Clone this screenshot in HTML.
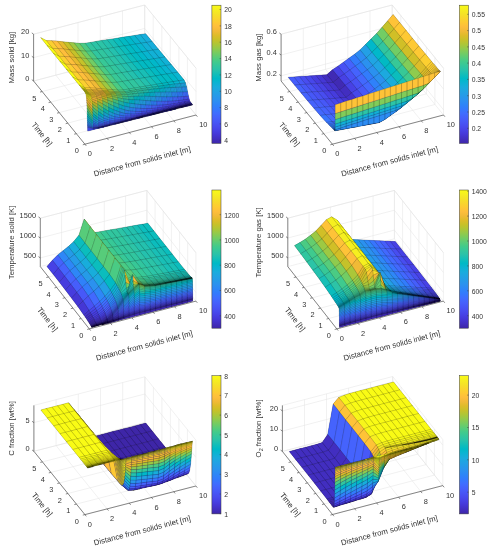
<!DOCTYPE html>
<html><head><meta charset="utf-8"><title>Figure</title>
<style>html,body{margin:0;padding:0;background:#fff}svg{display:block}</style></head>
<body>
<svg width="493" height="550" viewBox="0 0 493 550" font-family="Liberation Sans, sans-serif" font-size="7.8" fill="#333">
<defs><linearGradient id="pg" x1="0" y1="1" x2="0" y2="0"><stop offset="0%" stop-color="#3e26a8"/><stop offset="3.1%" stop-color="#422ebf"/><stop offset="6.2%" stop-color="#4536d5"/><stop offset="9.4%" stop-color="#4741e5"/><stop offset="12.5%" stop-color="#484cef"/><stop offset="15.6%" stop-color="#4757f7"/><stop offset="18.8%" stop-color="#4562fc"/><stop offset="21.9%" stop-color="#3f6eff"/><stop offset="25%" stop-color="#347afd"/><stop offset="28.1%" stop-color="#2e85f8"/><stop offset="31.2%" stop-color="#2c90f0"/><stop offset="34.4%" stop-color="#269ae9"/><stop offset="37.5%" stop-color="#21a3e3"/><stop offset="40.6%" stop-color="#1aacdd"/><stop offset="43.8%" stop-color="#0cb3d3"/><stop offset="46.9%" stop-color="#00b9c6"/><stop offset="50%" stop-color="#12beb9"/><stop offset="53.1%" stop-color="#28c2ab"/><stop offset="56.2%" stop-color="#34c79c"/><stop offset="59.4%" stop-color="#43cb8a"/><stop offset="62.5%" stop-color="#5ccc76"/><stop offset="65.6%" stop-color="#77cc60"/><stop offset="68.8%" stop-color="#94ca4a"/><stop offset="71.9%" stop-color="#afc636"/><stop offset="75%" stop-color="#c8c129"/><stop offset="78.1%" stop-color="#debc29"/><stop offset="81.2%" stop-color="#f1ba37"/><stop offset="84.4%" stop-color="#febe3c"/><stop offset="87.5%" stop-color="#feca33"/><stop offset="90.6%" stop-color="#f9d62d"/><stop offset="93.8%" stop-color="#f5e327"/><stop offset="96.9%" stop-color="#f6ef20"/><stop offset="100%" stop-color="#f9fb15"/></linearGradient></defs>
<path d="M84.9 144.2L33.6 81M33.6 81L33.6 34.2M107.1 138.4L55.8 75.2M55.8 75.2L55.8 28.4M129.3 132.5L78 69.3M78 69.3L78 22.5M151.6 126.7L100.3 63.5M100.3 63.5L100.3 16.7M173.8 120.8L122.5 57.6M122.5 57.6L122.5 10.8M196 115L144.7 51.8M144.7 51.8L144.7 5M84.9 144.2L196 115M196 115L196 68.2M76.4 133.7L187.4 104.5M187.4 104.5L187.4 57.7M67.8 123.1L178.9 93.9M178.9 93.9L178.9 47.1M59.2 112.6L170.3 83.4M170.3 83.4L170.3 36.6M50.7 102.1L161.8 72.9M161.8 72.9L161.8 26.1M42.2 91.5L153.2 62.3M153.2 62.3L153.2 15.5M33.6 81L144.7 51.8M144.7 51.8L144.7 5M33.6 81L144.7 51.8M144.7 51.8L196 115M33.6 57.6L144.7 28.4M144.7 28.4L196 91.6M33.6 34.2L144.7 5M144.7 5L196 68.2M33.6 34.2L144.7 5M144.7 5L196 68.2" stroke="#e2e2e2" stroke-width=".5" fill="none"/>
<g id="sp1" transform="scale(.1)" stroke="#000" stroke-width="2.0" stroke-opacity="0.6" stroke-linejoin="round">
<path fill="#18addb" d="M1401 345l55-8 65 78-56 9z"/>
<path fill="#12b1d6" d="M1346 354l55-9 64 79-55 8z"/>
<path fill="#08b5d0" d="M1291 363l55-9 64 78-55 9z"/>
<path fill="#01b8ca" d="M1235 371l56-8 64 78-55 9z"/>
<path fill="#02bac3" d="M1180 380l55-9 65 79-56 8z"/>
<path fill="#0bbdbd" d="M1125 389l55-9 64 78-55 9z"/>
<path fill="#19bfb6" d="M1070 397l55-8 64 78-55 9z"/>
<path fill="#24c1ae" d="M1014 406l56-9 64 79-56 9z"/>
<path fill="#2cc4a7" d="M959 415l55-9 64 79-55 8zM904 424l55-9 64 78-55 9z"/>
<path fill="#31c69f" d="M849 432l55-8 64 78-55 9z"/>
<path fill="#4acb84" d="M793 433l56-1 64 79-56 1z"/>
<path fill="#72cd64" d="M738 428l55 5 64 79-55-5z"/>
<path fill="#9dc943" d="M683 423l55 5 64 79-55-5z"/>
<path fill="#c5c22a" d="M628 418l55 5 64 79-55-5z"/>
<path fill="#e6bb2d" d="M572 411l56 7 64 79-56-7z"/>
<path fill="#febe3c" d="M517 407l55 4 64 79-55-4z"/>
<path fill="#fccf30" d="M462 405l55 2 64 79-55-2z"/>
<path fill="#f9fb15" d="M407 376l55 29 64 79-55-29z"/>
<path fill="#18addb" d="M1465 424l56-9 64 78-56 8z"/>
<path fill="#12b1d6" d="M1410 432l55-8 64 77-55 9z"/>
<path fill="#08b5d0" d="M1355 441l55-9 64 78-55 9z"/>
<path fill="#01b8ca" d="M1300 450l55-9 64 78-55 9z"/>
<path fill="#02bac3" d="M1244 458l56-8 64 78-56 9z"/>
<path fill="#0bbdbd" d="M1189 467l55-9 64 79-55 8z"/>
<path fill="#19bfb6" d="M1134 476l55-9 64 78-55 9z"/>
<path fill="#24c1ae" d="M1078 485l56-9 64 78-55 9z"/>
<path fill="#2cc4a7" d="M1023 493l55-8 65 78-56 9z"/>
<path fill="#31c69f" d="M968 502l55-9 64 79-55 9zM913 511l55-9 64 79-55 8z"/>
<path fill="#4acb84" d="M857 512l56-1 64 78-55 2z"/>
<path fill="#72cd64" d="M802 507l55 5 65 79-56-5z"/>
<path fill="#9dc943" d="M747 502l55 5 64 79-55-6z"/>
<path fill="#c5c22a" d="M692 497l55 5 64 78-55-5z"/>
<path fill="#e6bb2d" d="M636 490l56 7 64 78-55-6z"/>
<path fill="#febe3c" d="M581 486l55 4 65 79-56-4z"/>
<path fill="#fccf30" d="M526 484l55 2 64 79-55-2z"/>
<path fill="#f9fb15" d="M471 455l55 29 64 79-55-29z"/>
<path fill="#12b1d6" d="M1529 501l56-8 64 77-55 9zM1474 510l55-9 65 78-56 9z"/>
<path fill="#08b5d0" d="M1419 519l55-9 64 78-55 9z"/>
<path fill="#01b8ca" d="M1364 528l55-9 64 78-55 8z"/>
<path fill="#02bac3" d="M1308 537l56-9 64 77-55 9z"/>
<path fill="#0bbdbd" d="M1253 545l55-8 65 77-56 9z"/>
<path fill="#19bfb6" d="M1198 554l55-9 64 78-55 9z"/>
<path fill="#24c1ae" d="M1143 563l55-9 64 78-55 9z"/>
<path fill="#2cc4a7" d="M1087 572l56-9 64 78-56 9z"/>
<path fill="#31c69f" d="M1032 581l55-9 64 78-55 9z"/>
<path fill="#37c897" d="M977 589l55-8 64 78-55 9z"/>
<path fill="#4acb84" d="M922 591l55-2 64 79-55 1z"/>
<path fill="#72cd64" d="M866 586l56 5 64 78-56-5z"/>
<path fill="#9dc943" d="M811 580l55 6 64 78-55-5z"/>
<path fill="#c5c22a" d="M756 575l55 5 64 79-55-5z"/>
<path fill="#e6bb2d" d="M701 569l55 6 64 79-55-7z"/>
<path fill="#febe3c" d="M645 565l56 4 64 78-56-3z"/>
<path fill="#fccf30" d="M590 563l55 2 64 79-55-2z"/>
<path fill="#f9fb15" d="M535 534l55 29 64 79-55-29z"/>
<path fill="#12b1d6" d="M1594 579l55-9 64 76-55 9z"/>
<path fill="#08b5d0" d="M1538 588l56-9 64 76-56 9z"/>
<path fill="#01b8ca" d="M1483 597l55-9 64 76-55 9z"/>
<path fill="#02bac3" d="M1428 605l55-8 64 76-55 9zM1373 614l55-9 64 77-55 9z"/>
<path fill="#0bbdbd" d="M1317 623l56-9 64 77-56 9z"/>
<path fill="#19bfb6" d="M1262 632l55-9 64 77-55 9z"/>
<path fill="#24c1ae" d="M1207 641l55-9 64 77-55 9z"/>
<path fill="#2cc4a7" d="M1151 650l56-9 64 77-55 9z"/>
<path fill="#31c69f" d="M1096 659l55-9 65 77-56 10z"/>
<path fill="#37c897" d="M1041 668l55-9 64 78-55 9z"/>
<path fill="#4acb84" d="M986 669l55-1 64 78-55 1z"/>
<path fill="#72cd64" d="M930 664l56 5 64 78-55-5z"/>
<path fill="#9dc943" d="M875 659l55 5 65 78-56-5z"/>
<path fill="#c5c22a" d="M820 654l55 5 64 78-55-5z"/>
<path fill="#e6bb2d" d="M765 647l55 7 64 78-55-6z"/>
<path fill="#febe3c" d="M709 644l56 3 64 79-55-4z"/>
<path fill="#fccf30" d="M654 642l55 2 65 78-56-1z"/>
<path fill="#f9fb15" d="M599 613l55 29 64 79-55-30z"/>
<path fill="#12b1d6" d="M1658 655l55-9 64 76-55 9z"/>
<path fill="#08b5d0" d="M1602 664l56-9 64 76-55 9z"/>
<path fill="#01b8ca" d="M1547 673l55-9 65 76-56 9z"/>
<path fill="#02bac3" d="M1492 682l55-9 64 76-55 10z"/>
<path fill="#0bbdbd" d="M1437 691l55-9 64 77-55 9z"/>
<path fill="#19bfb6" d="M1381 700l56-9 64 77-56 9zM1326 709l55-9 64 77-55 9z"/>
<path fill="#24c1ae" d="M1271 718l55-9 64 77-55 9z"/>
<path fill="#2cc4a7" d="M1216 727l55-9 64 77-55 10z"/>
<path fill="#31c69f" d="M1160 737l56-10 64 78-56 9z"/>
<path fill="#37c897" d="M1105 746l55-9 64 77-55 9z"/>
<path fill="#4acb84" d="M1050 747l55-1 64 77-55 2z"/>
<path fill="#72cd64" d="M995 742l55 5 64 78-55-5z"/>
<path fill="#9dc943" d="M939 737l56 5 64 78-56-5z"/>
<path fill="#c5c22a" d="M884 732l55 5 64 78-55-5z"/>
<path fill="#f0ba36" d="M829 726l55 6 64 78-55-6z"/>
<path fill="#febe3c" d="M774 722l55 4 64 78-55-3z"/>
<path fill="#fccf30" d="M718 721l56 1 64 79-56-2z"/>
<path fill="#f9fb15" d="M663 691l55 30 64 78-55-29z"/>
<path fill="#08b5d0" d="M1722 731l55-9 64 78-55 8z"/>
<path fill="#01b8ca" d="M1667 740l55-9 64 77-55 9z"/>
<path fill="#02bac3" d="M1611 749l56-9 64 77-56 8zM1556 759l55-10 64 76-55 9z"/>
<path fill="#0bbdbd" d="M1501 768l55-9 64 75-55 9z"/>
<path fill="#19bfb6" d="M1445 777l56-9 64 75-55 10z"/>
<path fill="#24c1ae" d="M1390 786l55-9 65 76-56 9z"/>
<path fill="#2cc4a7" d="M1335 795l55-9 64 76-55 9z"/>
<path fill="#31c69f" d="M1280 805l55-10 64 76-55 10zM1224 814l56-9 64 76-55 9z"/>
<path fill="#37c897" d="M1169 823l55-9 65 76-56 10z"/>
<path fill="#4acb84" d="M1114 825l55-2 64 77-55 2z"/>
<path fill="#72cd64" d="M1059 820l55 5 64 77-55-5z"/>
<path fill="#9dc943" d="M1003 815l56 5 64 77-55-4z"/>
<path fill="#c5c22a" d="M948 810l55 5 65 78-56-5z"/>
<path fill="#f0ba36" d="M893 804l55 6 64 78-55-6z"/>
<path fill="#fec338" d="M838 801l55 3 64 78-55-3z"/>
<path fill="#fccf30" d="M782 799l56 2 64 78-55-1z"/>
<path fill="#f9fb15" d="M727 770l55 29 65 79-56-29z"/>
<path fill="#12b1d6" d="M1786 808l55-8 14 29-55 6z"/>
<path fill="#08b5d0" d="M1731 817l55-9 14 27-56 6z"/>
<path fill="#01b8ca" d="M1675 825l56-8 13 24-55 6z"/>
<path fill="#02bac3" d="M1620 834l55-9 14 22-55 8z"/>
<path fill="#0bbdbd" d="M1565 843l55-9 14 21-55 7z"/>
<path fill="#19bfb6" d="M1510 853l55-10 14 19-56 9z"/>
<path fill="#24c1ae" d="M1454 862l56-9 13 18-55 8z"/>
<path fill="#2cc4a7" d="M1399 871l55-9 14 17-55 9z"/>
<path fill="#31c69f" d="M1344 881l55-10 14 17-55 9z"/>
<path fill="#37c897" d="M1289 890l55-9 14 16-56 10zM1233 900l56-10 13 17-55 9z"/>
<path fill="#4acb84" d="M1178 902l55-2 14 16-55 2z"/>
<path fill="#72cd64" d="M1123 897l55 5 14 16-55-4z"/>
<path fill="#abc739" d="M1068 893l55 4 14 17-56-5z"/>
<path fill="#d1bf27" d="M1012 888l56 5 13 16-55-4z"/>
<path fill="#f0ba36" d="M957 882l55 6 14 17-55-6z"/>
<path fill="#fec338" d="M902 879l55 3 14 17-56-3z"/>
<path fill="#fccf30" d="M847 878l55 1 13 17-55-1z"/>
<path fill="#f9fb15" d="M791 849l56 29 13 17-55-29z"/>
<path fill="#20a5e3" d="M1800 835l55-6 11 40-55 3z"/>
<path fill="#18addb" d="M1744 841l56-6 11 37-55 2z"/>
<path fill="#08b5d0" d="M1689 847l55-6 12 33-56 3z"/>
<path fill="#01b8ca" d="M1634 855l55-8 11 30-55 4z"/>
<path fill="#02bac3" d="M1579 862l55-7 11 26-55 5z"/>
<path fill="#19bfb6" d="M1523 871l56-9 11 24-55 5z"/>
<path fill="#24c1ae" d="M1468 879l55-8 12 20-56 7z"/>
<path fill="#2cc4a7" d="M1413 888l55-9 11 19-55 7z"/>
<path fill="#31c69f" d="M1358 897l55-9 11 17-55 8z"/>
<path fill="#37c897" d="M1302 907l56-10 11 16-56 8zM1247 916l55-9 11 14-55 9z"/>
<path fill="#57cc7a" d="M1192 918l55-2 11 14-55 2z"/>
<path fill="#81cc59" d="M1137 914l55 4 11 14-55-5z"/>
<path fill="#abc739" d="M1081 909l56 5 11 13-56-4z"/>
<path fill="#d1bf27" d="M1026 905l55 4 11 14-55-5z"/>
<path fill="#f0ba36" d="M971 899l55 6 11 13-55-5z"/>
<path fill="#fec338" d="M915 896l56 3 11 14-55-4z"/>
<path fill="#fccf30" d="M860 895l55 1 12 13-56 0z"/>
<path fill="#f9fb15" d="M805 866l55 29 11 14-55-29z"/>
<path fill="#2b91ef" d="M1811 872l55-3 10 50-55 1z"/>
<path fill="#259be8" d="M1756 874l55-2 10 48-55 1z"/>
<path fill="#20a5e3" d="M1700 877l56-3 10 47-56 0z"/>
<path fill="#18addb" d="M1645 881l55-4 10 44-55 0z"/>
<path fill="#08b5d0" d="M1590 886l55-5 10 40-55 1z"/>
<path fill="#02bac3" d="M1535 891l55-5 10 36-55 1z"/>
<path fill="#0bbdbd" d="M1479 898l56-7 10 32-56 2z"/>
<path fill="#24c1ae" d="M1424 905l55-7 10 27-55 4z"/>
<path fill="#2cc4a7" d="M1369 913l55-8 10 24-55 4z"/>
<path fill="#31c69f" d="M1313 921l56-8 10 20-55 6z"/>
<path fill="#37c897" d="M1258 930l55-9 11 18-56 7z"/>
<path fill="#4acb84" d="M1203 932l55-2 10 16-55 0z"/>
<path fill="#72cd64" d="M1148 927l55 5 10 14-55-5z"/>
<path fill="#abc739" d="M1092 923l56 4 10 14-55-5z"/>
<path fill="#d1bf27" d="M1037 918l55 5 11 13-56-5z"/>
<path fill="#f0ba36" d="M982 913l55 5 10 13-55-6z"/>
<path fill="#fec338" d="M927 909l55 4 10 12-55-3z"/>
<path fill="#fccf30" d="M871 909l56 0 10 13-55-1z"/>
<path fill="#f9fb15" d="M816 880l55 29 11 12-56-29z"/>
<path fill="#3e6fff" d="M1821 920l55-1 9 43-56 4z"/>
<path fill="#327cfc" d="M1766 921l55-1 8 46-55 3z"/>
<path fill="#2e87f7" d="M1710 921l56 0 8 48-55 0z"/>
<path fill="#2797eb" d="M1655 921l55 0 9 48-55 0z"/>
<path fill="#23a0e5" d="M1600 922l55-1 9 48-56-1z"/>
<path fill="#1ca9df" d="M1545 923l55-1 8 46-55-2z"/>
<path fill="#08b5d0" d="M1489 925l56-2 8 43-55-2z"/>
<path fill="#02bac3" d="M1434 929l55-4 9 39-55-1z"/>
<path fill="#19bfb6" d="M1379 933l55-4 9 34-56-1z"/>
<path fill="#2cc4a7" d="M1324 939l55-6 8 29-55 2z"/>
<path fill="#31c69f" d="M1268 946l56-7 8 25-55 2z"/>
<path fill="#4acb84" d="M1213 946l55 0 9 20-56-3z"/>
<path fill="#72cd64" d="M1158 941l55 5 8 17-55-7z"/>
<path fill="#9dc943" d="M1103 936l55 5 8 15-55-7z"/>
<path fill="#c5c22a" d="M1047 931l56 5 8 13-55-6z"/>
<path fill="#f0ba36" d="M992 925l55 6 9 12-56-7z"/>
<path fill="#fec338" d="M937 922l55 3 8 11-55-4z"/>
<path fill="#fccf30" d="M882 921l55 1 8 10-55-1z"/>
<path fill="#f9fb15" d="M826 892l56 29 8 10-55-28z"/>
<path fill="#4852f4" d="M1829 966l56-4 7 29-56 8z"/>
<path fill="#465efb" d="M1774 969l55-3 7 33-55 7z"/>
<path fill="#4269fe" d="M1719 969l55 0 7 37-55 4z"/>
<path fill="#3875fe" d="M1664 969l55 0 7 41-55 3z"/>
<path fill="#2f81fa" d="M1608 968l56 1 7 44-56 0z"/>
<path fill="#2b91ef" d="M1553 966l55 2 7 45-55-1z"/>
<path fill="#23a0e5" d="M1498 964l55 2 7 46-55-3z"/>
<path fill="#1ca9df" d="M1443 963l55 1 7 45-55-4z"/>
<path fill="#08b5d0" d="M1387 962l56 1 7 42-56-4z"/>
<path fill="#02bac3" d="M1332 964l55-2 7 39-55-3z"/>
<path fill="#24c1ae" d="M1277 966l55-2 7 34-55-3z"/>
<path fill="#37c897" d="M1221 963l56 3 7 29-55-7z"/>
<path fill="#64cd6f" d="M1166 956l55 7 8 25-56-12z"/>
<path fill="#8fcb4e" d="M1111 949l55 7 7 20-55-11z"/>
<path fill="#c5c22a" d="M1056 943l55 6 7 16-55-9z"/>
<path fill="#f0ba36" d="M1000 936l56 7 7 13-56-9z"/>
<path fill="#fec338" d="M945 932l55 4 7 11-55-5z"/>
<path fill="#fccf30" d="M890 931l55 1 7 10-55-2z"/>
<path fill="#f9fb15" d="M835 903l55 28 7 9-55-29z"/>
<path fill="#4741e5" d="M1836 999l56-8 5 17-55 11z"/>
<path fill="#4747eb" d="M1781 1006l55-7 6 20-55 10z"/>
<path fill="#4852f4" d="M1726 1010l55-4 6 23-55 9z"/>
<path fill="#4758f8" d="M1671 1013l55-3 6 28-56 7z"/>
<path fill="#4563fd" d="M1615 1013l56 0 5 32-55 5z"/>
<path fill="#3e6fff" d="M1560 1012l55 1 6 37-55 2z"/>
<path fill="#2f81fa" d="M1505 1009l55 3 6 40-55 0z"/>
<path fill="#2b91ef" d="M1450 1005l55 4 6 43-56-3z"/>
<path fill="#23a0e5" d="M1394 1001l56 4 5 44-55-4z"/>
<path fill="#18addb" d="M1339 998l55 3 6 44-55-6z"/>
<path fill="#01b8ca" d="M1284 995l55 3 6 41-55-7z"/>
<path fill="#24c1ae" d="M1229 988l55 7 6 37-56-11z"/>
<path fill="#3fca8e" d="M1173 976l56 12 5 33-55-17z"/>
<path fill="#81cc59" d="M1118 965l55 11 6 28-55-16z"/>
<path fill="#b9c431" d="M1063 956l55 9 6 23-55-14z"/>
<path fill="#e6bb2d" d="M1007 947l56 9 6 18-56-13z"/>
<path fill="#febe3c" d="M952 942l55 5 6 14-55-8z"/>
<path fill="#fccf30" d="M897 940l55 2 6 11-55-4z"/>
<path fill="#f9fb15" d="M842 911l55 29 6 9-55-30z"/>
<path fill="#463cde" d="M1842 1019l55-11 5 9-55 13zM1787 1029l55-10 5 11-55 12z"/>
<path fill="#4741e5" d="M1732 1038l55-9 5 13-55 12z"/>
<path fill="#4747eb" d="M1676 1045l56-7 5 16-56 10z"/>
<path fill="#484df0" d="M1621 1050l55-5 5 19-55 9z"/>
<path fill="#4758f8" d="M1566 1052l55-2 5 23-55 7z"/>
<path fill="#4563fd" d="M1511 1052l55 0 5 28-55 4z"/>
<path fill="#3e6fff" d="M1455 1049l56 3 5 32-56 2z"/>
<path fill="#2f81fa" d="M1400 1045l55 4 5 37-55-2z"/>
<path fill="#2b91ef" d="M1345 1039l55 6 5 39-55-4z"/>
<path fill="#20a5e3" d="M1290 1032l55 7 5 41-56-7z"/>
<path fill="#08b5d0" d="M1234 1021l56 11 4 41-55-13z"/>
<path fill="#24c1ae" d="M1179 1004l55 17 5 39-55-20z"/>
<path fill="#4acb84" d="M1124 988l55 16 5 36-55-20z"/>
<path fill="#8fcb4e" d="M1069 974l55 14 5 32-56-20z"/>
<path fill="#d1bf27" d="M1013 961l56 13 4 26-55-20z"/>
<path fill="#f8ba3d" d="M958 953l55 8 5 19-55-13z"/>
<path fill="#fec934" d="M903 949l55 4 5 14-55-8z"/>
<path fill="#f9fb15" d="M848 919l55 30 5 10-56-32z"/>
<path fill="#4537d5" d="M1847 1030l55-13 4 6-55 14z"/>
<path fill="#463cde" d="M1792 1042l55-12 4 7-55 13zM1737 1054l55-12 4 8-55 13z"/>
<path fill="#4741e5" d="M1681 1064l56-10 4 9-56 12zM1626 1073l55-9 4 11-55 12z"/>
<path fill="#4747eb" d="M1571 1080l55-7 4 14-55 10z"/>
<path fill="#484df0" d="M1516 1084l55-4 4 17-55 9z"/>
<path fill="#4758f8" d="M1460 1086l56-2 4 22-56 6z"/>
<path fill="#4563fd" d="M1405 1084l55 2 4 26-55 3z"/>
<path fill="#3875fe" d="M1350 1080l55 4 4 31-55-1z"/>
<path fill="#2e87f7" d="M1294 1073l56 7 4 34-55-4z"/>
<path fill="#23a0e5" d="M1239 1060l55 13 5 37-56-11z"/>
<path fill="#08b5d0" d="M1184 1040l55 20 4 39-55-18z"/>
<path fill="#2cc4a7" d="M1129 1020l55 20 4 41-55-23z"/>
<path fill="#64cd6f" d="M1073 1000l56 20 4 38-55-26z"/>
<path fill="#abc739" d="M1018 980l55 20 5 32-56-26z"/>
<path fill="#f0ba36" d="M963 967l55 13 4 26-55-21z"/>
<path fill="#fec934" d="M908 959l55 8 4 18-55-14z"/>
<path fill="#f7f51b" d="M852 927l56 32 4 12-56-36z"/>
<path fill="#4537d5" d="M1851 1037l55-14 4 4-56 14zM1796 1050l55-13 3 4-55 14z"/>
<path fill="#463cde" d="M1741 1063l55-13 3 5-55 13zM1685 1075l56-12 3 5-55 14zM1630 1087l55-12 4 7-56 13z"/>
<path fill="#4741e5" d="M1575 1097l55-10 3 8-55 12zM1520 1106l55-9 3 10-55 11z"/>
<path fill="#484df0" d="M1464 1112l56-6 3 12-55 10z"/>
<path fill="#4852f4" d="M1409 1115l55-3 4 16-56 7z"/>
<path fill="#465efb" d="M1354 1114l55 1 3 20-55 5z"/>
<path fill="#3e6fff" d="M1299 1110l55 4 3 26-55 0z"/>
<path fill="#2f81fa" d="M1243 1099l56 11 3 30-55-6z"/>
<path fill="#259be8" d="M1188 1081l55 18 4 35-56-15z"/>
<path fill="#08b5d0" d="M1133 1058l55 23 3 38-55-21z"/>
<path fill="#31c69f" d="M1078 1032l55 26 3 40-55-27z"/>
<path fill="#72cd64" d="M1022 1006l56 26 3 39-55-32z"/>
<path fill="#d1bf27" d="M967 985l55 21 4 33-56-28z"/>
<path fill="#febe3c" d="M912 971l55 14 3 26-55-23z"/>
<path fill="#f7f51b" d="M856 935l56 36 3 17-55-42z"/>
<path fill="#4537d5" d="M1854 1041l56-14 3 4-56 14zM1799 1055l55-14 3 4-55 14zM1744 1068l55-13 3 4-55 13z"/>
<path fill="#463cde" d="M1689 1082l55-14 3 4-55 14zM1633 1095l56-13 3 4-56 14zM1578 1107l55-12 3 5-55 13z"/>
<path fill="#4741e5" d="M1523 1118l55-11 3 6-55 13zM1468 1128l55-10 3 8-55 11z"/>
<path fill="#4747eb" d="M1412 1135l56-7 3 9-56 11z"/>
<path fill="#484df0" d="M1357 1140l55-5 3 13-55 8z"/>
<path fill="#4758f8" d="M1302 1140l55 0 3 16-55 5z"/>
<path fill="#4269fe" d="M1247 1134l55 6 3 21-56 0z"/>
<path fill="#2f81fa" d="M1191 1119l56 15 2 27-55-9z"/>
<path fill="#23a0e5" d="M1136 1098l55 21 3 33-55-17z"/>
<path fill="#01b8ca" d="M1081 1071l55 27 3 37-55-25z"/>
<path fill="#3fca8e" d="M1026 1039l55 32 3 39-56-33z"/>
<path fill="#9dc943" d="M970 1011l56 28 2 38-55-36z"/>
<path fill="#f0ba36" d="M915 988l55 23 3 30-55-31z"/>
<path fill="#f5e924" d="M860 946l55 42 3 22-55-50z"/>
<path fill="#4537d5" d="M1857 1045l56-14 2 3-55 14zM1802 1059l55-14 3 3-56 14zM1747 1072l55-13 2 3-55 13z"/>
<path fill="#463cde" d="M1692 1086l55-14 2 3-55 14zM1636 1100l56-14 2 3-55 14zM1581 1113l55-13 3 3-56 13zM1526 1126l55-13 2 3-55 14zM1471 1137l55-11 2 4-55 13z"/>
<path fill="#4741e5" d="M1415 1148l56-11 2 6-55 12z"/>
<path fill="#4747eb" d="M1360 1156l55-8 3 7-56 11z"/>
<path fill="#484df0" d="M1305 1161l55-5 2 10-55 9z"/>
<path fill="#4758f8" d="M1249 1161l56 0 2 14-55 4z"/>
<path fill="#4269fe" d="M1194 1152l55 9 3 18-55-2z"/>
<path fill="#2e87f7" d="M1139 1135l55 17 3 25-56-10z"/>
<path fill="#20a5e3" d="M1084 1110l55 25 2 32-55-21z"/>
<path fill="#0bbdbd" d="M1028 1077l56 33 2 36-55-32z"/>
<path fill="#57cc7a" d="M973 1041l55 36 3 37-55-38z"/>
<path fill="#c5c22a" d="M918 1010l55 31 3 35-56-39z"/>
<path fill="#f7dc2a" d="M863 960l55 50 2 27-55-60z"/>
<path fill="#4537d5" d="M1860 1048l55-14 2 2-55 14zM1804 1062l56-14 2 2-56 14zM1749 1075l55-13 2 2-55 14z"/>
<path fill="#463cde" d="M1694 1089l55-14 2 3-55 14zM1639 1103l55-14 2 3-55 13zM1583 1116l56-13 2 2-56 14zM1528 1130l55-14 2 3-55 14zM1473 1143l55-13 2 3-55 13zM1418 1155l55-12 2 3-55 13z"/>
<path fill="#4741e5" d="M1362 1166l56-11 2 4-56 13z"/>
<path fill="#4747eb" d="M1307 1175l55-9 2 6-55 11z"/>
<path fill="#484df0" d="M1252 1179l55-4 2 8-55 8z"/>
<path fill="#4758f8" d="M1197 1177l55 2 2 12-55 4z"/>
<path fill="#3e6fff" d="M1141 1167l56 10 2 18-56-4z"/>
<path fill="#2d8cf3" d="M1086 1146l55 21 2 24-55-14z"/>
<path fill="#18addb" d="M1031 1114l55 32 2 31-55-27z"/>
<path fill="#2cc4a7" d="M976 1076l55 38 2 36-55-38z"/>
<path fill="#8fcb4e" d="M920 1037l56 39 2 36-56-45z"/>
<path fill="#fec934" d="M865 977l55 60 2 30-55-68z"/>
<path fill="#4537d5" d="M1862 1050l55-14 2 2-56 14zM1806 1064l56-14 1 2-55 14zM1751 1078l55-14 2 2-55 14z"/>
<path fill="#463cde" d="M1696 1092l55-14 2 2-56 14zM1641 1105l55-13 1 2-55 13zM1585 1119l56-14 1 2-55 14zM1530 1133l55-14 2 2-55 14zM1475 1146l55-13 2 2-56 14zM1420 1159l55-13 1 3-55 13z"/>
<path fill="#4741e5" d="M1364 1172l56-13 1 3-55 13zM1309 1183l55-11 2 3-55 13z"/>
<path fill="#4747eb" d="M1254 1191l55-8 2 5-56 11z"/>
<path fill="#484df0" d="M1199 1195l55-4 1 8-55 7z"/>
<path fill="#465efb" d="M1143 1191l56 4 1 11-55 2z"/>
<path fill="#3875fe" d="M1088 1177l55 14 2 17-55-7z"/>
<path fill="#2797eb" d="M1033 1150l55 27 2 24-56-20z"/>
<path fill="#01b8ca" d="M978 1112l55 38 1 31-55-35z"/>
<path fill="#4acb84" d="M922 1067l56 45 1 34-55-47z"/>
<path fill="#f8ba3d" d="M867 999l55 68 2 32-55-74z"/>
<path fill="#4537d5" d="M1863 1052l56-14 1 2-55 14zM1808 1066l55-14 2 2-56 14zM1753 1080l55-14 1 2-55 13z"/>
<path fill="#463cde" d="M1697 1094l56-14 1 1-55 14zM1642 1107l55-13 2 1-55 14zM1587 1121l55-14 2 2-56 14zM1532 1135l55-14 1 2-55 14zM1476 1149l56-14 1 2-55 14zM1421 1162l55-13 2 2-55 13zM1366 1175l55-13 2 2-56 14z"/>
<path fill="#4741e5" d="M1311 1188l55-13 1 3-55 13zM1255 1199l56-11 1 3-55 12z"/>
<path fill="#4747eb" d="M1200 1206l55-7 2 4-55 11z"/>
<path fill="#4852f4" d="M1145 1208l55-2 2 8-56 6z"/>
<path fill="#4563fd" d="M1090 1201l55 7 1 12-55-1z"/>
<path fill="#2f81fa" d="M1034 1181l56 20 1 18-55-14z"/>
<path fill="#20a5e3" d="M979 1146l55 35 2 24-56-29z"/>
<path fill="#2cc4a7" d="M924 1099l55 47 1 30-55-46z"/>
<path fill="#d1bf27" d="M869 1025l55 74 1 31-55-78z"/>
<path fill="#4537d5" d="M1865 1054l55-14 1 1-55 14zM1809 1068l56-14 1 1-56 14zM1754 1081l55-13 1 1-55 14z"/>
<path fill="#463cde" d="M1699 1095l55-14 1 2-55 14zM1644 1109l55-14 1 2-55 14zM1588 1123l56-14 1 2-56 13zM1533 1137l55-14 1 1-55 14zM1478 1151l55-14 1 1-55 14zM1423 1164l55-13 1 1-55 14zM1367 1178l56-14 1 2-56 13zM1312 1191l55-13 1 1-55 14z"/>
<path fill="#4741e5" d="M1257 1203l55-12 1 2-55 13zM1202 1214l55-11 1 3-55 12z"/>
<path fill="#4747eb" d="M1146 1220l56-6 1 4-56 9z"/>
<path fill="#4852f4" d="M1091 1219l55 1 1 7-55 4z"/>
<path fill="#4269fe" d="M1036 1205l55 14 1 12-55-7z"/>
<path fill="#2b91ef" d="M980 1176l56 29 1 19-55-22z"/>
<path fill="#01b8ca" d="M925 1130l55 46 2 26-56-42z"/>
<path fill="#9dc943" d="M870 1052l55 78 1 30-55-79z"/>
<path fill="#4537d5" d="M1866 1055l55-14 1 2-55 13zM1810 1069l56-14 1 1-56 14zM1755 1083l55-14 1 1-55 14z"/>
<path fill="#463cde" d="M1700 1097l55-14 1 1-55 14zM1645 1111l55-14 1 1-55 14zM1589 1124l56-13 1 1-56 13zM1534 1138l55-14 1 1-55 14zM1479 1152l55-14 1 1-55 14zM1424 1166l55-14 1 1-55 14zM1368 1179l56-13 1 1-56 14zM1313 1193l55-14 1 2-55 13z"/>
<path fill="#4741e5" d="M1258 1206l55-13 1 1-55 14zM1203 1218l55-12 1 2-55 13z"/>
<path fill="#4747eb" d="M1147 1227l56-9 1 3-56 11z"/>
<path fill="#484df0" d="M1092 1231l55-4 1 5-55 7z"/>
<path fill="#465efb" d="M1037 1224l55 7 1 8-55-1z"/>
<path fill="#327cfc" d="M982 1202l55 22 1 14-55-15z"/>
<path fill="#1ca9df" d="M926 1160l56 42 1 21-56-37z"/>
<path fill="#57cc7a" d="M871 1081l55 79 1 26-55-76z"/>
<path fill="#4537d5" d="M1867 1056l55-13 1 1-56 13zM1811 1070l56-14 0 1-55 14zM1756 1084l55-14 1 1-55 14z"/>
<path fill="#463cde" d="M1701 1098l55-14 1 1-55 14zM1646 1112l55-14 1 1-56 14zM1590 1125l56-13 0 1-55 13zM1535 1139l55-14 1 1-55 14zM1480 1153l55-14 1 1-55 14zM1425 1167l55-14 1 1-56 14zM1369 1181l56-14 0 1-55 14zM1314 1194l55-13 1 1-55 14zM1259 1208l55-14 1 2-55 13z"/>
<path fill="#4741e5" d="M1204 1221l55-13 1 1-56 14zM1148 1232l56-11 0 2-55 12z"/>
<path fill="#4747eb" d="M1093 1239l55-7 1 3-55 10z"/>
<path fill="#4852f4" d="M1038 1238l55 1 1 6-55 3z"/>
<path fill="#4269fe" d="M983 1223l55 15 1 10-56-9z"/>
<path fill="#2797eb" d="M927 1186l56 37 0 16-55-29z"/>
<path fill="#31c69f" d="M872 1110l55 76 1 24-55-72z"/>
<path fill="#4537d5" d="M1812 1071l55-14 1 1-55 14zM1757 1085l55-14 1 1-55 14z"/>
<path fill="#463cde" d="M1702 1099l55-14 1 1-56 14zM1536 1140l55-14 1 1-55 14zM1481 1154l55-14 1 1-56 14zM1425 1168l56-14 0 1-55 14zM1370 1182l55-14 1 1-55 14z"/>
<path fill="#4741e5" d="M1204 1223l56-14 0 1-55 14zM1149 1235l55-12 1 1-55 13z"/>
<path fill="#4747eb" d="M1094 1245l55-10 1 2-55 11z"/>
<path fill="#484df0" d="M1039 1248l55-3 1 3-56 7z"/>
<path fill="#465efb" d="M983 1239l56 9 0 7-55-3z"/>
<path fill="#2e87f7" d="M928 1210l55 29 1 13-55-23z"/>
<path fill="#0bbdbd" d="M873 1138l55 72 1 19-56-66z"/>
<path fill="#4537d5" d="M1868 1058l55-14 1 1-55 14zM1813 1072l55-14 1 1-56 14z"/>
<path fill="#463cde" d="M1592 1127l55-14 1 1-56 14zM1537 1141l55-14 0 1-55 14zM1481 1155l56-14 0 1-55 14zM1260 1210l56-14 0 1-55 14z"/>
<path fill="#4741e5" d="M1205 1224l55-14 1 1-55 14zM1150 1237l55-13 1 1-56 13zM1095 1248l55-11 0 1-55 12z"/>
<path fill="#4747eb" d="M1039 1255l56-7 0 2-55 10z"/>
<path fill="#4758f8" d="M984 1252l55 3 1 5-55 1z"/>
<path fill="#3875fe" d="M929 1229l55 23 1 9-56-16z"/>
<path fill="#12b1d6" d="M873 1163l56 66 0 16-55-58z"/>
<path fill="#463cde" d="M1703 1100l55-14 1 1-56 14zM1648 1114l55-14 0 1-55 14zM1592 1128l56-14 0 1-55 14zM1371 1183l56-14 0 1-55 14zM1316 1197l55-14 1 1-55 14z"/>
<path fill="#4741e5" d="M1095 1250l55-12 1 1-55 13z"/>
<path fill="#4747eb" d="M1040 1260l55-10 1 2-56 11z"/>
<path fill="#4852f4" d="M985 1261l55-1 0 3-55 5z"/>
<path fill="#4269fe" d="M929 1245l56 16 0 7-55-11z"/>
<path fill="#20a5e3" d="M874 1187l55 58 1 12-56-50z"/>
<path fill="#4537d5" d="M1814 1073l55-14 1 1-56 14z"/>
<path fill="#463cde" d="M1482 1156l56-14 0 1-55 14z"/>
<path fill="#4741e5" d="M1206 1225l55-14 1 1-56 14zM1040 1263l56-11 0 1-55 12z"/>
<path fill="#484df0" d="M985 1268l55-5 1 2-56 7z"/>
<path fill="#465efb" d="M930 1257l55 11 0 4-55-5z"/>
<path fill="#2797eb" d="M874 1207l56 50 0 10-55-42z"/>
<path fill="#463cde" d="M1704 1101l55-14 0 1-55 14zM1648 1115l56-14 0 1-55 14zM1372 1184l55-14 1 1-55 14z"/>
<path fill="#4747eb" d="M985 1272l56-7 0 1-55 10z"/>
<path fill="#4758f8" d="M930 1267l55 5 1 4-56-1z"/>
<path fill="#2e87f7" d="M875 1225l55 42 0 8-55-34z"/>
<path fill="#4537d5" d="M1870 1060l55-14 0 1-55 14z"/>
<path fill="#463cde" d="M1538 1143l56-14 0 1-55 14zM1262 1212l55-14 1 1-56 14z"/>
<path fill="#4741e5" d="M1041 1266l55-13 0 1-55 13z"/>
<path fill="#4747eb" d="M986 1276l55-10 0 1-55 11z"/>
<path fill="#4852f4" d="M930 1275l56 1 0 2-55 2z"/>
<path fill="#327cfc" d="M875 1241l55 34 1 5-56-26z"/>
<path fill="#4741e5" d="M1152 1240l55-14 0 1-55 14zM986 1278l55-11 0 1-55 11z"/>
<path fill="#484df0" d="M931 1280l55-2 0 1-55 6z"/>
<path fill="#3e6fff" d="M875 1254l56 26 0 5-55-21z"/>
<path fill="#463cde" d="M1705 1102l55-14 0 1-55 14z"/>
<path fill="#4741e5" d="M986 1279l55-11 1 0-56 13z"/>
<path fill="#484df0" d="M931 1285l55-6 0 2-55 7z"/>
<path fill="#4269fe" d="M876 1264l55 21 0 3-55-15z"/>
<path fill="#4537d5" d="M1870 1061l56-14 1 1-56 14zM1815 1075l55-14 1 1-55 14zM1760 1089l55-14 1 1-55 14z"/>
<path fill="#463cde" d="M1705 1103l55-14 1 1-55 14zM1649 1116l56-13 1 1-56 13zM1594 1130l55-14 1 1-55 14zM1539 1144l55-14 1 1-55 14zM1484 1158l55-14 1 1-55 14zM1428 1172l56-14 1 1-56 14zM1373 1185l55-13 1 1-55 14zM1318 1199l55-14 1 2-55 13zM1263 1213l55-14 1 1-55 14z"/>
<path fill="#4741e5" d="M1207 1227l56-14 1 1-56 14zM1152 1241l55-14 1 1-55 14zM1097 1255l55-14 1 1-55 14zM1042 1268l55-13 1 1-55 14zM986 1281l56-13 1 2-56 13z"/>
<path fill="#4747eb" d="M931 1288l55-7 1 2-55 14z"/>
<path fill="#4852f4" d="M876 1273l55 15 1 9-55 14z"/>
</g>
<use href="#sp1"/>
<path d="M90.4 130.4L90.3 128.1L90.3 127.5L90.3 126.7L90.3 125.8L90.3 124.6L90.2 123.2L90.2 121.6L90.1 119.6L90 117.4L90 114.8L89.9 112.1L89.8 109.1L89.6 106.2L89.5 103.3L89.3 100.7L89 98.5L88.7 96.7L88.4 95.3L88 94.3L87.5 93.4L86.9 92.6L86.2 91.7L85.4 90.7L84.4 89.4L83.3 88M96 129L95.9 128.4L95.8 127.5L95.7 126.2L95.7 125.3L95.6 124L95.6 122.5L95.5 120.5L95.4 118.1L95.3 115.3L95.2 112.2L95 108.9L94.8 105.6L94.6 102.6L94.3 99.9L93.9 97.8L93.5 96.3L93 95.1L92.5 94.1L91.8 93.2L90.9 92.1L89.9 90.9L88.8 89.5M101.5 127.6L101.3 127.1L101.3 126.5L101.2 125.3L101.1 124.4L101 123.1L100.9 121.3L100.8 119.1L100.7 116.3L100.5 113.1L100.3 109.5L100.1 105.9L99.8 102.5L99.5 99.6L99.1 97.3L98.6 95.7L98 94.5L97.3 93.4L96.4 92.3L95.4 91.1L94.3 89.7M107 126.3L106.8 125.7L106.7 125.2L106.5 123.9L106.5 122.8L106.3 121.2L106.2 119.1L106 116.3L105.8 113L105.6 109.3L105.3 105.5L105 101.9L104.6 99L104.1 96.8L103.5 95.2L102.8 93.9L102 92.8L101 91.5L99.8 90.2M112.5 124.9L112.3 124.4L112.1 123.6L112 122.9L111.9 121.9L111.7 120.5L111.6 118.4L111.4 115.7L111.1 112.3L110.9 108.4L110.5 104.5L110.1 101L109.6 98.1L109 96.1L108.3 94.6L107.5 93.3L106.5 92.1L105.4 90.7M118.1 123.5L117.8 123.1L117.6 122.6L117.4 121.7L117.3 120.7L117.1 119.3L116.9 117.2L116.7 114.4L116.4 110.9L116 106.9L115.6 103L115.1 99.6L114.6 97L113.9 95.2L113 93.8L112 92.5L110.9 91.1M123.6 122.1L123.3 121.8L123 121.2L122.8 120.3L122.6 119.3L122.4 117.8L122.2 115.7L121.9 112.7L121.6 109L121.2 105L120.7 101.2L120.1 98.2L119.4 95.9L118.5 94.3L117.5 93L116.4 91.6M129.1 120.7L128.9 120.4L128.6 120L128.3 119.3L128.1 118.7L127.9 117.7L127.7 116.1L127.4 113.7L127.1 110.5L126.7 106.6L126.2 102.6L125.6 99.1L124.9 96.5L124.1 94.6L123.1 93.1L121.9 91.7M134.6 119.4L134.4 119L134.1 118.6L133.8 118.2L133.5 117L133.2 115.9L133 114L132.6 111.2L132.2 107.6L131.7 103.5L131.1 99.6L130.4 96.5L129.6 94.2L128.6 92.6L127.5 91.1M140.2 118L139.9 117.6L139.6 117.3L139.4 116.9L139 116.1L138.8 115.2L138.5 113.7L138.1 111.5L137.7 108.2L137.3 104.2L136.7 99.9L136 96.3L135.1 93.6L134.1 91.7L133 90.2M145.7 116.6L145.4 116.2L145.1 115.9L144.7 115.3L144.3 114.3L144 113.2L143.7 111.3L143.3 108.5L142.8 104.7L142.2 100.3L141.5 96.2L140.7 93.1L139.6 90.9L138.5 89.3M151.2 115.2L151 114.9L150.7 114.5L150.2 114L149.8 113.1L149.5 112.3L149.2 110.9L148.8 108.5L148.3 105L147.7 100.7L147 96.3L146.2 92.7L145.2 90.1L144 88.4M156.8 113.8L156.5 113.5L156.2 113.1L155.8 112.6L155.3 111.9L155.1 111.3L154.7 110.1L154.3 108.2L153.8 105.2L153.2 101.1L152.5 96.5L151.7 92.4L150.7 89.5L149.6 87.5M162.3 112.4L162 112.1L161.7 111.7L161.3 111.2L160.9 110.6L160.6 110.1L160.3 109.2L159.8 107.7L159.4 105.1L158.8 101.3L158.1 96.7L157.2 92.2L156.2 88.9L155.1 86.7M167.8 111.1L167.5 110.7L167.2 110.4L166.8 109.8L166.4 109.3L166.1 108.8L165.8 108.1L165.4 106.9L164.9 104.7L164.3 101.3L163.6 96.8L162.8 92.2L161.7 88.3L160.6 85.9M173.3 109.7L173.1 109.3L172.8 109L172.4 108.5L171.9 107.9L171.6 107.5L171.3 106.9L170.9 105.9L170.4 104.1L169.8 101.2L169.1 96.9L168.3 92.1L167.3 87.9L166.2 85.1M178.9 108.3L178.6 108L178.3 107.6L177.9 107.1L177.4 106.5L177.2 106.2L176.8 105.6L176.4 104.8L175.9 103.4L175.4 100.8L174.6 96.9L173.8 92.1L172.8 87.6L171.7 84.4M184.4 106.9L184.1 106.6L183.8 106.2L183.4 105.7L183 105.2L182.7 104.8L182.4 104.3L181.9 103.6L181.5 102.4L180.9 100.3L180.2 96.7L179.3 92.1L178.3 87.3L177.2 83.8M189.9 105.5L189.6 105.2L189.3 104.8L188.9 104.3L188.5 103.8L188.2 103.4L187.9 103L187.5 102.4L187 101.3L186.4 99.5L185.7 96.4L184.9 92L183.9 87L182.7 83.2M89 130.8L88.9 127.7L88.9 126.9L88.9 126L88.9 124.9L88.8 123.5L88.8 121.9L88.7 120.1L88.7 117.9L88.6 115.5L88.5 112.9L88.4 110L88.3 107.1L88.2 104.3L88 101.6L87.8 99.2L87.6 97.2L87.3 95.6L87 94.4L86.6 93.4L86.1 92.6L85.5 91.8L84.8 91L84 89.9L83 88.7L81.8 87.3M91.8 130.1L91.7 128.4L91.6 127.3L91.6 126.6L91.6 125.6L91.5 124.4L91.5 123L91.4 121.2L91.4 119.1L91.3 116.7L91.2 114L91.1 111L91 107.9L90.8 104.9L90.6 102.1L90.4 99.7L90.1 97.7L89.7 96.2L89.3 95.1L88.9 94.1L88.3 93.3L87.6 92.4L86.7 91.3L85.7 90.1L84.6 88.7M94.5 129.4L94.4 128.6L94.4 128L94.3 126.8L94.3 126L94.3 124.9L94.2 123.4L94.1 121.7L94.1 119.5L94 117L93.9 114.1L93.7 111L93.6 107.8L93.4 104.6L93.1 101.8L92.8 99.4L92.5 97.5L92.1 96.1L91.6 95L91 94.1L90.3 93.2L89.5 92.1L88.5 90.9L87.4 89.5M97.3 128.7L97.2 128.1L97.1 127.1L97.1 126.5L97 125.7L97 124.6L96.9 123.2L96.8 121.4L96.7 119.1L96.6 116.4L96.5 113.3L96.3 110L96.1 106.6L95.9 103.3L95.6 100.5L95.3 98.2L94.9 96.5L94.4 95.2L93.8 94.2L93.1 93.2L92.2 92.2L91.2 90.9L90.1 89.6M100.1 128L99.9 127.5L99.8 126.6L99.8 126.1L99.7 125.3L99.7 124.2L99.6 122.7L99.5 120.7L99.4 118.3L99.2 115.4L99.1 112.1L98.9 108.5L98.7 105L98.4 101.8L98 99.1L97.6 97L97.1 95.5L96.6 94.3L95.9 93.3L95 92.3L94 91L92.9 89.7M102.8 127.3L102.7 126.9L102.6 126L102.5 125.4L102.4 124.6L102.4 123.4L102.3 121.9L102.1 119.8L102 117.1L101.8 114L101.7 110.5L101.4 106.7L101.1 103.2L100.8 100.1L100.4 97.7L99.9 95.9L99.3 94.6L98.6 93.5L97.8 92.4L96.8 91.2L95.6 89.8M105.6 126.6L105.4 126.2L105.3 125.3L105.2 124.7L105.1 123.8L105 122.6L104.9 120.9L104.8 118.5L104.6 115.6L104.4 112.2L104.2 108.5L103.9 104.7L103.6 101.3L103.2 98.5L102.7 96.4L102.1 94.9L101.4 93.8L100.5 92.6L99.5 91.4L98.4 90M108.4 125.9L108.1 125.5L108 124.6L107.9 123.9L107.8 122.9L107.7 121.5L107.5 119.6L107.4 117L107.2 113.8L106.9 110.1L106.7 106.3L106.3 102.6L105.9 99.5L105.4 97.1L104.8 95.4L104.1 94.1L103.3 92.9L102.3 91.7L101.2 90.3M111.1 125.2L110.9 124.9L110.7 124.2L110.5 123L110.4 121.9L110.3 120.3L110.1 118L109.9 115.1L109.7 111.6L109.4 107.7L109.1 103.9L108.7 100.4L108.2 97.8L107.6 95.8L106.9 94.4L106.1 93.2L105.1 91.9L103.9 90.6M113.9 124.5L113.6 124.1L113.4 123.4L113.3 122.8L113.2 121.9L113.1 120.6L112.9 118.7L112.7 116.2L112.5 112.9L112.2 109.1L111.8 105.1L111.4 101.4L111 98.5L110.4 96.3L109.7 94.7L108.8 93.4L107.8 92.2L106.7 90.8M116.6 123.9L116.4 123.5L116.2 122.9L116 121.8L115.8 120.8L115.7 119.2L115.5 116.9L115.2 114L114.9 110.3L114.6 106.3L114.2 102.5L113.7 99.2L113.1 96.8L112.4 95L111.6 93.7L110.6 92.4L109.5 91M119.4 123.2L119.1 122.8L118.9 122.4L118.7 121.5L118.6 120.7L118.4 119.4L118.2 117.5L118 114.8L117.7 111.4L117.4 107.5L117 103.5L116.5 100L115.9 97.3L115.2 95.4L114.4 93.9L113.3 92.6L112.2 91.2M122.2 122.5L121.9 122.1L121.6 121.5L121.4 120.5L121.2 119.4L121 117.8L120.8 115.4L120.5 112.3L120.1 108.5L119.7 104.5L119.2 100.8L118.7 97.9L118 95.7L117.1 94.2L116.1 92.8L115 91.5M124.9 121.8L124.7 121.4L124.4 120.9L124.1 120.1L124 119.2L123.8 117.9L123.5 115.9L123.2 113L122.9 109.4L122.5 105.5L122 101.6L121.4 98.5L120.7 96.1L119.9 94.5L118.9 93.1L117.7 91.7M127.7 121.1L127.4 120.8L127.1 120.3L126.9 119.6L126.7 118.9L126.5 117.8L126.3 116.1L126 113.5L125.7 110.2L125.3 106.3L124.8 102.3L124.2 98.9L123.5 96.4L122.6 94.6L121.6 93.1L120.5 91.7M130.5 120.4L130.2 120.1L129.9 119.6L129.6 119.1L129.5 118.5L129.3 117.6L129 116.1L128.8 113.8L128.4 110.7L128 106.9L127.5 102.9L126.9 99.3L126.2 96.5L125.4 94.6L124.4 93.1L123.3 91.7M133.2 119.7L132.9 119.4L132.7 119L132.4 118.5L132.2 118L132 117.3L131.8 116L131.5 114L131.2 111.1L130.8 107.4L130.3 103.4L129.7 99.6L129 96.6L128.2 94.4L127.2 92.8L126 91.4M136 119L135.7 118.7L135.4 118.3L135.2 117.9L134.8 116.8L134.6 115.7L134.3 114L134 111.3L133.5 107.8L133.1 103.7L132.5 99.7L131.8 96.4L130.9 94.1L129.9 92.4L128.8 90.9M138.7 118.3L138.5 118L138.2 117.6L137.9 117.2L137.6 116.3L137.3 115.4L137.1 113.9L136.7 111.4L136.3 108.1L135.8 104L135.2 99.8L134.5 96.3L133.7 93.8L132.7 91.9L131.6 90.4M141.5 117.6L141.2 117.3L140.9 116.9L140.7 116.6L140.3 115.8L140.1 115L139.8 113.6L139.5 111.5L139.1 108.3L138.6 104.3L138 100L137.3 96.3L136.5 93.5L135.4 91.5L134.3 90M144.3 116.9L144 116.6L143.7 116.2L143.3 115.6L143.1 115.2L142.9 114.5L142.6 113.4L142.2 111.4L141.8 108.5L141.3 104.6L140.8 100.2L140.1 96.2L139.2 93.2L138.2 91.1L137.1 89.5M147 116.3L146.8 115.9L146.5 115.6L146.1 115L145.6 114L145.3 113L145 111.3L144.6 108.5L144.1 104.8L143.5 100.4L142.8 96.3L142 93L141 90.7L139.9 89.1M149.8 115.6L149.5 115.2L149.2 114.9L148.8 114.3L148.4 113.5L148.1 112.6L147.8 111L147.4 108.5L146.9 105L146.3 100.6L145.6 96.3L144.7 92.8L143.7 90.3L142.6 88.6M152.6 114.9L152.3 114.5L152 114.2L151.6 113.6L151.2 112.9L150.9 112.1L150.5 110.7L150.1 108.5L149.6 105.1L149.1 100.8L148.4 96.4L147.5 92.6L146.5 90L145.4 88.2M155.3 114.2L155.1 113.8L154.8 113.5L154.3 113L153.9 112.2L153.6 111.6L153.3 110.4L152.9 108.3L152.4 105.2L151.8 101L151.1 96.4L150.3 92.5L149.3 89.6L148.1 87.7M158.1 113.5L157.8 113.2L157.5 112.8L157.1 112.3L156.7 111.6L156.4 111L156.1 109.9L155.7 108.1L155.2 105.2L154.6 101.1L153.9 96.5L153 92.4L152 89.3L150.9 87.3M160.9 112.8L160.6 112.5L160.3 112.1L159.9 111.6L159.4 111L159.2 110.4L158.8 109.5L158.4 107.8L157.9 105.1L157.3 101.2L156.6 96.6L155.8 92.3L154.8 89L153.7 86.9M163.6 112.1L163.3 111.8L163 111.4L162.6 110.9L162.2 110.3L161.9 109.8L161.6 109L161.2 107.5L160.7 105L160.1 101.3L159.4 96.7L158.6 92.2L157.6 88.7L156.4 86.5M166.4 111.4L166.1 111.1L165.8 110.7L165.4 110.2L165 109.6L164.7 109.2L164.3 108.4L163.9 107.1L163.5 104.8L162.9 101.3L162.2 96.8L161.3 92.2L160.3 88.5L159.2 86.1M169.1 110.7L168.9 110.4L168.6 110L168.2 109.5L167.7 109L167.4 108.5L167.1 107.8L166.7 106.7L166.2 104.6L165.6 101.3L164.9 96.9L164.1 92.1L163.1 88.2L162 85.7M171.9 110L171.6 109.7L171.3 109.3L170.9 108.8L170.5 108.3L170.2 107.9L169.9 107.2L169.5 106.2L169 104.3L168.4 101.2L167.7 96.9L166.9 92.1L165.8 88L164.7 85.3M174.7 109.3L174.4 109L174.1 108.6L173.7 108.1L173.3 107.6L173 107.2L172.6 106.6L172.2 105.7L171.7 104L171.2 101.1L170.5 96.9L169.6 92.1L168.6 87.8L167.5 84.9M177.4 108.6L177.2 108.3L176.9 108L176.4 107.4L176 106.9L175.7 106.5L175.4 106L175 105.1L174.5 103.6L173.9 100.9L173.2 96.9L172.4 92.1L171.4 87.6L170.2 84.6M180.2 108L179.9 107.6L179.6 107.3L179.2 106.8L178.8 106.2L178.5 105.8L178.2 105.3L177.8 104.5L177.3 103.1L176.7 100.7L176 96.9L175.1 92.1L174.1 87.5L173 84.3M183 107.3L182.7 106.9L182.4 106.6L182 106.1L181.5 105.5L181.3 105.2L180.9 104.7L180.5 103.9L180 102.7L179.4 100.4L178.7 96.8L177.9 92.1L176.9 87.3L175.8 83.9M185.7 106.6L185.4 106.2L185.2 105.9L184.7 105.4L184.3 104.8L184 104.5L183.7 104L183.3 103.3L182.8 102.2L182.2 100.1L181.5 96.7L180.7 92L179.7 87.2L178.5 83.6M188.5 105.9L188.2 105.5L187.9 105.2L187.5 104.7L187.1 104.1L186.8 103.8L186.5 103.3L186 102.7L185.6 101.6L185 99.7L184.3 96.5L183.4 92L182.4 87.1L181.3 83.3M191.2 105.2L191 104.9L190.7 104.5L190.3 104L189.8 103.5L189.6 103.1L189.2 102.7L188.8 102L188.3 101.1L187.7 99.3L187 96.3L186.2 91.9L185.2 87L184.1 83.1" stroke="#000" stroke-width="0.45" stroke-opacity="0.3" fill="none" stroke-linejoin="round"/>
<path d="M84.9 144.2L196 115M84.9 144.2L33.6 81M33.6 81L33.6 34.2M84.9 144.2L86.3 145.9M107.1 138.4L108.5 140.1M129.3 132.5L130.7 134.2M151.6 126.7L152.9 128.4M173.8 120.8L175.2 122.5M196 115L197.4 116.7M84.9 144.2L82.8 144.8M76.4 133.7L74.2 134.2M67.8 123.1L65.7 123.7M59.2 112.6L57.1 113.2M50.7 102.1L48.6 102.6M42.2 91.5L40 92.1M33.6 81L31.8 79.7M33.6 57.6L31.8 56.3M33.6 34.2L31.8 32.9" stroke="#3a3a3a" stroke-width=".6" fill="none"/>
<g font-size="7.4">
<text x="89.9" y="156.4" text-anchor="middle">0</text>
<text x="112.1" y="150.6" text-anchor="middle">2</text>
<text x="134.3" y="144.7" text-anchor="middle">4</text>
<text x="156.6" y="138.9" text-anchor="middle">6</text>
<text x="178.8" y="133" text-anchor="middle">8</text>
<text x="203.3" y="127.2" text-anchor="middle">10</text>
<text x="76.9" y="153.4" text-anchor="middle">0</text>
<text x="68.4" y="142.9" text-anchor="middle">1</text>
<text x="59.8" y="132.3" text-anchor="middle">2</text>
<text x="51.2" y="121.8" text-anchor="middle">3</text>
<text x="42.7" y="111.3" text-anchor="middle">4</text>
<text x="34.2" y="100.7" text-anchor="middle">5</text>
<text x="29.3" y="80.9" text-anchor="end">0</text>
<text x="29.3" y="57.5" text-anchor="end">10</text>
<text x="29.3" y="34.1" text-anchor="end">20</text>
</g>
<text transform="translate(142.8 163.9) rotate(-14.7)" text-anchor="middle">Distance from solids inlet [m]</text>
<text transform="translate(39.9 135.8) rotate(50.9)" text-anchor="middle">Time [h]</text>
<text transform="translate(13.5 57.6) rotate(-90)" text-anchor="middle">Mass solid [kg]</text>
<rect x="211.9" y="5.2" width="9.1" height="138.2" fill="url(#pg)" stroke="#3a3a3a" stroke-width=".5"/>
<text font-size="6.8" x="224.2" y="143.1">4</text>
<text font-size="6.8" x="224.2" y="126.7">6</text>
<text font-size="6.8" x="224.2" y="110.4">8</text>
<text font-size="6.8" x="224.2" y="94.1">10</text>
<text font-size="6.8" x="224.2" y="77.7">12</text>
<text font-size="6.8" x="224.2" y="61.4">14</text>
<text font-size="6.8" x="224.2" y="45">16</text>
<text font-size="6.8" x="224.2" y="28.7">18</text>
<text font-size="6.8" x="224.2" y="12.3">20</text>
<path d="M221 140.3h-1.4M221 123.9h-1.4M221 107.6h-1.4M221 91.3h-1.4M221 74.9h-1.4M221 58.6h-1.4M221 42.2h-1.4M221 25.9h-1.4M221 9.5h-1.4" stroke="#3a3a3a" stroke-width=".5" fill="none"/>
<path d="M332.4 144.2L281.1 81M281.1 81L281.1 34.2M354.6 138.4L303.3 75.2M303.3 75.2L303.3 28.4M376.8 132.5L325.5 69.3M325.5 69.3L325.5 22.5M399.1 126.7L347.8 63.5M347.8 63.5L347.8 16.7M421.3 120.8L370 57.6M370 57.6L370 10.8M443.5 115L392.2 51.8M392.2 51.8L392.2 5M332.4 144.2L443.5 115M443.5 115L443.5 68.2M323.8 133.7L434.9 104.5M434.9 104.5L434.9 57.7M315.3 123.1L426.4 93.9M426.4 93.9L426.4 47.1M306.8 112.6L417.9 83.4M417.9 83.4L417.9 36.6M298.2 102.1L409.3 72.9M409.3 72.9L409.3 26.1M289.7 91.5L400.8 62.3M400.8 62.3L400.8 15.5M281.1 81L392.2 51.8M392.2 51.8L392.2 5M281.1 75.8L392.2 46.6M392.2 46.6L443.5 109.8M281.1 55L392.2 25.8M392.2 25.8L443.5 89M281.1 34.2L392.2 5M392.2 5L443.5 68.2M281.1 34.2L392.2 5M392.2 5L443.5 68.2" stroke="#e2e2e2" stroke-width=".5" fill="none"/>
<g id="sp2" transform="scale(.1)" stroke="#000" stroke-width="2.0" stroke-opacity="0.6" stroke-linejoin="round">
<path fill="#fec338" d="M3876 209l55-64 65 79-56 64z"/>
<path fill="#c5c22a" d="M3821 273l55-64 64 79-55 63z"/>
<path fill="#72cd64" d="M3766 335l55-62 64 78-55 63z"/>
<path fill="#31c69f" d="M3710 390l56-55 64 79-55 54z"/>
<path fill="#01b8ca" d="M3655 445l55-55 65 78-56 55z"/>
<path fill="#23a0e5" d="M3600 499l55-54 64 78-55 55z"/>
<path fill="#2d8cf3" d="M3545 543l55-44 64 79-55 43z"/>
<path fill="#327cfc" d="M3489 583l56-40 64 78-56 40z"/>
<path fill="#4563fd" d="M3434 622l55-39 64 78-55 39z"/>
<path fill="#4852f4" d="M3379 662l55-40 64 78-55 40z"/>
<path fill="#4741e5" d="M3324 698l55-36 64 78-55 35z"/>
<path fill="#402ab4" d="M3268 747l56-49 64 77-56 49z"/>
<path fill="#422ec0" d="M3213 751l55-4 64 77-55 4z"/>
<path fill="#4537d5" d="M3158 754l55-3 64 77-55 4z"/>
<path fill="#463cde" d="M3103 758l55-4 64 78-55 4z"/>
<path fill="#4747eb" d="M3047 762l56-4 64 78-56 4z"/>
<path fill="#484df0" d="M2992 765l55-3 64 78-55 3z"/>
<path fill="#4758f8" d="M2937 769l55-4 64 78-55 4z"/>
<path fill="#465efb" d="M2882 773l55-4 64 78-55 4z"/>
<path fill="#fec934" d="M3940 288l56-64 64 79-56 63z"/>
<path fill="#d1bf27" d="M3885 351l55-63 64 78-55 63z"/>
<path fill="#72cd64" d="M3830 414l55-63 64 78-55 63z"/>
<path fill="#31c69f" d="M3775 468l55-54 64 78-55 54z"/>
<path fill="#01b8ca" d="M3719 523l56-55 64 78-56 55z"/>
<path fill="#20a5e3" d="M3664 578l55-55 64 78-55 54z"/>
<path fill="#2b91ef" d="M3609 621l55-43 64 77-55 43z"/>
<path fill="#327cfc" d="M3553 661l56-40 64 77-55 40z"/>
<path fill="#4563fd" d="M3498 700l55-39 65 77-56 40z"/>
<path fill="#4852f4" d="M3443 740l55-40 64 78-55 39z"/>
<path fill="#4741e5" d="M3388 775l55-35 64 77-55 36z"/>
<path fill="#402ab4" d="M3332 824l56-49 64 78-55 48z"/>
<path fill="#4432cb" d="M3277 828l55-4 65 77-56 4z"/>
<path fill="#4537d5" d="M3222 832l55-4 64 77-55 4z"/>
<path fill="#4741e5" d="M3167 836l55-4 64 77-55 4z"/>
<path fill="#4747eb" d="M3111 840l56-4 64 77-55 3z"/>
<path fill="#4852f4" d="M3056 843l55-3 65 76-56 4z"/>
<path fill="#4758f8" d="M3001 847l55-4 64 77-55 4z"/>
<path fill="#4563fd" d="M2946 851l55-4 64 77-55 4z"/>
<path fill="#fec934" d="M4004 366l56-63 64 79-55 62z"/>
<path fill="#d1bf27" d="M3949 429l55-63 65 78-56 63z"/>
<path fill="#72cd64" d="M3894 492l55-63 64 78-55 62z"/>
<path fill="#31c69f" d="M3839 546l55-54 64 77-55 55z"/>
<path fill="#02bac3" d="M3783 601l56-55 64 78-55 54z"/>
<path fill="#20a5e3" d="M3728 655l55-54 65 77-56 53z"/>
<path fill="#2b91ef" d="M3673 698l55-43 64 76-55 44z"/>
<path fill="#327cfc" d="M3618 738l55-40 64 77-55 40z"/>
<path fill="#4269fe" d="M3562 778l56-40 64 77-56 40z"/>
<path fill="#4852f4" d="M3507 817l55-39 64 77-55 39z"/>
<path fill="#4741e5" d="M3452 853l55-36 64 77-55 35z"/>
<path fill="#422ec0" d="M3397 901l55-48 64 76-55 46z"/>
<path fill="#4432cb" d="M3341 905l56-4 64 74-56 4z"/>
<path fill="#463cde" d="M3286 909l55-4 64 74-55 5z"/>
<path fill="#4741e5" d="M3231 913l55-4 64 75-55 4z"/>
<path fill="#484df0" d="M3176 916l55-3 64 75-55 4z"/>
<path fill="#4852f4" d="M3120 920l56-4 64 76-56 5z"/>
<path fill="#4758f8" d="M3065 924l55-4 64 77-55 4z"/>
<path fill="#4563fd" d="M3010 928l55-4 64 77-55 4z"/>
<path fill="#fec934" d="M4069 444l55-62 64 78-55 62z"/>
<path fill="#d1bf27" d="M4013 507l56-63 64 78-56 63z"/>
<path fill="#72cd64" d="M3958 569l55-62 64 78-55 61z"/>
<path fill="#37c897" d="M3903 624l55-55 64 77-55 54z"/>
<path fill="#02bac3" d="M3848 678l55-54 64 76-55 53z"/>
<path fill="#1ca9df" d="M3792 731l56-53 64 75-56 53z"/>
<path fill="#2b91ef" d="M3737 775l55-44 64 75-55 44z"/>
<path fill="#2f81fa" d="M3682 815l55-40 64 75-55 40z"/>
<path fill="#4269fe" d="M3626 855l56-40 64 75-55 40z"/>
<path fill="#4758f8" d="M3571 894l55-39 65 75-56 39z"/>
<path fill="#4747eb" d="M3516 929l55-35 64 75-55 35z"/>
<path fill="#4432cb" d="M3461 975l55-46 64 75-55 43z"/>
<path fill="#4537d5" d="M3405 979l56-4 64 72-55 4z"/>
<path fill="#4741e5" d="M3350 984l55-5 65 72-56 5z"/>
<path fill="#4747eb" d="M3295 988l55-4 64 72-55 5z"/>
<path fill="#484df0" d="M3240 992l55-4 64 73-55 5z"/>
<path fill="#4758f8" d="M3184 997l56-5 64 74-55 5z"/>
<path fill="#465efb" d="M3129 1001l55-4 65 74-56 5z"/>
<path fill="#4563fd" d="M3074 1005l55-4 64 75-55 5z"/>
<path fill="#fec934" d="M4133 522l55-62 64 78-55 61z"/>
<path fill="#d1bf27" d="M4077 585l56-63 64 77-55 62z"/>
<path fill="#81cc59" d="M4022 646l55-61 65 76-56 61z"/>
<path fill="#37c897" d="M3967 700l55-54 64 76-55 53z"/>
<path fill="#0bbdbd" d="M3912 753l55-53 64 75-55 52z"/>
<path fill="#18addb" d="M3856 806l56-53 64 74-56 52z"/>
<path fill="#2797eb" d="M3801 850l55-44 64 73-55 44z"/>
<path fill="#2e87f7" d="M3746 890l55-40 64 73-55 41z"/>
<path fill="#3e6fff" d="M3691 930l55-40 64 74-55 39z"/>
<path fill="#465efb" d="M3635 969l56-39 64 73-56 39z"/>
<path fill="#484df0" d="M3580 1004l55-35 64 73-55 35z"/>
<path fill="#4537d5" d="M3525 1047l55-43 64 73-55 37z"/>
<path fill="#4741e5" d="M3470 1051l55-4 64 67-55 6z"/>
<path fill="#4747eb" d="M3414 1056l56-5 64 69-56 5z"/>
<path fill="#484df0" d="M3359 1061l55-5 64 69-55 6z"/>
<path fill="#4852f4" d="M3304 1066l55-5 64 70-55 6z"/>
<path fill="#465efb" d="M3249 1071l55-5 64 71-55 5z"/>
<path fill="#4563fd" d="M3193 1076l56-5 64 71-56 6z"/>
<path fill="#4269fe" d="M3138 1081l55-5 64 72-55 6z"/>
<path fill="#fccf30" d="M4197 599l55-61 64 77-55 60z"/>
<path fill="#dcbd29" d="M4142 661l55-62 64 76-55 60z"/>
<path fill="#8fcb4e" d="M4086 722l56-61 64 74-56 60z"/>
<path fill="#3fca8e" d="M4031 775l55-53 64 73-55 53z"/>
<path fill="#19bfb6" d="M3976 827l55-52 64 73-55 50z"/>
<path fill="#12b1d6" d="M3920 879l56-52 64 71-55 50z"/>
<path fill="#23a0e5" d="M3865 923l55-44 65 69-56 44z"/>
<path fill="#2d8cf3" d="M3810 964l55-41 64 69-55 41z"/>
<path fill="#3875fe" d="M3755 1003l55-39 64 69-55 39z"/>
<path fill="#4563fd" d="M3699 1042l56-39 64 69-55 40z"/>
<path fill="#4852f4" d="M3644 1077l55-35 65 70-56 33z"/>
<path fill="#4747eb" d="M3589 1114l55-37 64 68-55 29z"/>
<path fill="#484df0" d="M3534 1120l55-6 64 60-55 7z"/>
<path fill="#4852f4" d="M3478 1125l56-5 64 61-55 7z"/>
<path fill="#4758f8" d="M3423 1131l55-6 65 63-56 7z"/>
<path fill="#465efb" d="M3368 1137l55-6 64 64-55 8z"/>
<path fill="#4563fd" d="M3313 1142l55-5 64 66-55 7z"/>
<path fill="#4269fe" d="M3257 1148l56-6 64 68-55 7z"/>
<path fill="#3875fe" d="M3202 1154l55-6 65 69-56 7z"/>
<path fill="#fccf30" d="M4261 675l55-60 14 17-55 59z"/>
<path fill="#dcbd29" d="M4206 735l55-60 14 16-56 60z"/>
<path fill="#8fcb4e" d="M4150 795l56-60 13 16-55 59z"/>
<path fill="#3fca8e" d="M4095 848l55-53 14 15-55 53z"/>
<path fill="#19bfb6" d="M4040 898l55-50 14 15-55 49z"/>
<path fill="#12b1d6" d="M3985 948l55-50 14 14-56 50z"/>
<path fill="#23a0e5" d="M3929 992l56-44 13 14-55 44z"/>
<path fill="#2d8cf3" d="M3874 1033l55-41 14 14-55 41z"/>
<path fill="#327cfc" d="M3819 1072l55-39 14 14-55 40z"/>
<path fill="#4563fd" d="M3764 1112l55-40 14 15-56 39z"/>
<path fill="#4758f8" d="M3708 1145l56-33 13 14-55 33z"/>
<path fill="#484df0" d="M3653 1174l55-29 14 14-55 27z"/>
<path fill="#4852f4" d="M3598 1181l55-7 14 12-55 7z"/>
<path fill="#4758f8" d="M3543 1188l55-7 14 12-56 8z"/>
<path fill="#465efb" d="M3487 1195l56-7 13 13-55 7z"/>
<path fill="#4563fd" d="M3432 1203l55-8 14 13-55 8z"/>
<path fill="#4269fe" d="M3377 1210l55-7 14 13-56 7z"/>
<path fill="#3e6fff" d="M3322 1217l55-7 13 13-55 8z"/>
<path fill="#3875fe" d="M3266 1224l56-7 13 14-55 7z"/>
<path fill="#fccf30" d="M4275 691l55-59 11 13-55 59z"/>
<path fill="#dcbd29" d="M4219 751l56-60 11 13-55 60z"/>
<path fill="#8fcb4e" d="M4164 810l55-59 12 13-56 59z"/>
<path fill="#4acb84" d="M4109 863l55-53 11 13-55 52z"/>
<path fill="#24c1ae" d="M4054 912l55-49 11 12-55 49z"/>
<path fill="#08b5d0" d="M3998 962l56-50 11 12-55 49z"/>
<path fill="#23a0e5" d="M3943 1006l55-44 12 11-56 45z"/>
<path fill="#2b91ef" d="M3888 1047l55-41 11 12-55 41z"/>
<path fill="#327cfc" d="M3833 1087l55-40 11 12-55 39z"/>
<path fill="#4269fe" d="M3777 1126l56-39 11 11-56 39z"/>
<path fill="#4758f8" d="M3722 1159l55-33 11 11-55 33z"/>
<path fill="#4852f4" d="M3667 1186l55-27 11 11-55 25z"/>
<path fill="#4758f8" d="M3612 1193l55-7 11 9-55 8zM3556 1201l56-8 11 10-56 7z"/>
<path fill="#465efb" d="M3501 1208l55-7 11 9-55 8z"/>
<path fill="#4563fd" d="M3446 1216l55-8 11 10-55 8z"/>
<path fill="#4269fe" d="M3390 1223l56-7 11 10-55 8z"/>
<path fill="#3e6fff" d="M3335 1231l55-8 12 11-56 8z"/>
<path fill="#3875fe" d="M3280 1238l55-7 11 11-55 8z"/>
<path fill="#fccf30" d="M4286 704l55-59 10 12-55 59z"/>
<path fill="#e6bb2d" d="M4231 764l55-60 10 12-55 59z"/>
<path fill="#8fcb4e" d="M4175 823l56-59 10 11-56 59z"/>
<path fill="#4acb84" d="M4120 875l55-52 10 11-55 52z"/>
<path fill="#24c1ae" d="M4065 924l55-49 10 11-55 48z"/>
<path fill="#08b5d0" d="M4010 973l55-49 10 10-55 49z"/>
<path fill="#20a5e3" d="M3954 1018l56-45 10 10-56 45z"/>
<path fill="#2b91ef" d="M3899 1059l55-41 10 10-55 41z"/>
<path fill="#327cfc" d="M3844 1098l55-39 10 10-55 39z"/>
<path fill="#4269fe" d="M3788 1137l56-39 10 10-55 39z"/>
<path fill="#4758f8" d="M3733 1170l55-33 11 10-56 33z"/>
<path fill="#4852f4" d="M3678 1195l55-25 10 10-55 23z"/>
<path fill="#4758f8" d="M3623 1203l55-8 10 8-55 8z"/>
<path fill="#465efb" d="M3567 1210l56-7 10 8-55 8z"/>
<path fill="#4563fd" d="M3512 1218l55-8 11 9-56 8z"/>
<path fill="#4269fe" d="M3457 1226l55-8 10 9-55 8z"/>
<path fill="#3e6fff" d="M3402 1234l55-8 10 9-55 8z"/>
<path fill="#3875fe" d="M3346 1242l56-8 10 9-55 9z"/>
<path fill="#327cfc" d="M3291 1250l55-8 11 10-56 8z"/>
<path fill="#fccf30" d="M4296 716l55-59 9 10-56 59z"/>
<path fill="#e6bb2d" d="M4241 775l55-59 8 10-55 58z"/>
<path fill="#8fcb4e" d="M4185 834l56-59 8 9-55 59z"/>
<path fill="#4acb84" d="M4130 886l55-52 9 9-55 51z"/>
<path fill="#24c1ae" d="M4075 934l55-48 9 8-56 49z"/>
<path fill="#08b5d0" d="M4020 983l55-49 8 9-55 48z"/>
<path fill="#20a5e3" d="M3964 1028l56-45 8 8-55 45z"/>
<path fill="#2b91ef" d="M3909 1069l55-41 9 8-55 41z"/>
<path fill="#2f81fa" d="M3854 1108l55-39 9 8-56 39z"/>
<path fill="#4269fe" d="M3799 1147l55-39 8 8-55 39z"/>
<path fill="#465efb" d="M3743 1180l56-33 8 8-55 33z"/>
<path fill="#4758f8" d="M3688 1203l55-23 9 8-56 21z"/>
<path fill="#465efb" d="M3633 1211l55-8 8 6-55 8z"/>
<path fill="#4563fd" d="M3578 1219l55-8 8 6-55 9zM3522 1227l56-8 8 7-55 8z"/>
<path fill="#4269fe" d="M3467 1235l55-8 9 7-56 9z"/>
<path fill="#3e6fff" d="M3412 1243l55-8 8 8-55 8z"/>
<path fill="#3875fe" d="M3357 1252l55-9 8 8-55 9z"/>
<path fill="#327cfc" d="M3301 1260l56-8 8 8-55 8z"/>
<path fill="#fccf30" d="M4304 726l56-59 7 8-56 59z"/>
<path fill="#e6bb2d" d="M4249 784l55-58 7 8-55 58z"/>
<path fill="#9dc943" d="M4194 843l55-59 7 8-55 58z"/>
<path fill="#4acb84" d="M4139 894l55-51 7 7-55 52z"/>
<path fill="#2cc4a7" d="M4083 943l56-49 7 8-56 48z"/>
<path fill="#01b8ca" d="M4028 991l55-48 7 7-55 48z"/>
<path fill="#20a5e3" d="M3973 1036l55-45 7 7-55 45z"/>
<path fill="#2797eb" d="M3918 1077l55-41 7 7-55 41z"/>
<path fill="#2f81fa" d="M3862 1116l56-39 7 7-56 39z"/>
<path fill="#3e6fff" d="M3807 1155l55-39 7 7-55 39z"/>
<path fill="#465efb" d="M3752 1188l55-33 7 7-55 33z"/>
<path fill="#4758f8" d="M3696 1209l56-21 7 7-55 19z"/>
<path fill="#465efb" d="M3641 1217l55-8 8 5-56 9z"/>
<path fill="#4563fd" d="M3586 1226l55-9 7 6-55 8z"/>
<path fill="#4269fe" d="M3531 1234l55-8 7 5-55 9z"/>
<path fill="#3e6fff" d="M3475 1243l56-9 7 6-56 9zM3420 1251l55-8 7 6-55 9z"/>
<path fill="#3875fe" d="M3365 1260l55-9 7 7-55 8z"/>
<path fill="#327cfc" d="M3310 1268l55-8 7 6-55 9z"/>
<path fill="#fccf30" d="M4311 734l56-59 5 7-55 59z"/>
<path fill="#e6bb2d" d="M4256 792l55-58 6 7-55 58z"/>
<path fill="#9dc943" d="M4201 850l55-58 6 7-55 58z"/>
<path fill="#4acb84" d="M4146 902l55-52 6 7-56 51z"/>
<path fill="#2cc4a7" d="M4090 950l56-48 5 6-55 48z"/>
<path fill="#01b8ca" d="M4035 998l55-48 6 6-55 47z"/>
<path fill="#1ca9df" d="M3980 1043l55-45 6 5-55 45z"/>
<path fill="#2797eb" d="M3925 1084l55-41 6 5-56 42z"/>
<path fill="#2f81fa" d="M3869 1123l56-39 5 6-55 39z"/>
<path fill="#3e6fff" d="M3814 1162l55-39 6 6-55 39z"/>
<path fill="#465efb" d="M3759 1195l55-33 6 6-55 32zM3704 1214l55-19 6 5-56 18z"/>
<path fill="#4563fd" d="M3648 1223l56-9 5 4-55 9zM3593 1231l55-8 6 4-55 9z"/>
<path fill="#4269fe" d="M3538 1240l55-9 6 5-55 9z"/>
<path fill="#3e6fff" d="M3482 1249l56-9 6 5-56 9z"/>
<path fill="#3875fe" d="M3427 1258l55-9 6 5-55 9z"/>
<path fill="#327cfc" d="M3372 1266l55-8 6 5-55 9zM3317 1275l55-9 6 6-55 9z"/>
<path fill="#fccf30" d="M4317 741l55-59 5 6-55 58z"/>
<path fill="#e6bb2d" d="M4262 799l55-58 5 5-55 58z"/>
<path fill="#9dc943" d="M4207 857l55-58 5 5-55 58z"/>
<path fill="#57cc7a" d="M4151 908l56-51 5 5-56 51z"/>
<path fill="#2cc4a7" d="M4096 956l55-48 5 5-55 47z"/>
<path fill="#01b8ca" d="M4041 1003l55-47 5 4-55 48z"/>
<path fill="#1ca9df" d="M3986 1048l55-45 5 5-55 45z"/>
<path fill="#2797eb" d="M3930 1090l56-42 5 5-56 42z"/>
<path fill="#2f81fa" d="M3875 1129l55-39 5 5-55 38z"/>
<path fill="#3e6fff" d="M3820 1168l55-39 5 4-55 39z"/>
<path fill="#465efb" d="M3765 1200l55-32 5 4-56 32zM3709 1218l56-18 4 4-55 17z"/>
<path fill="#4563fd" d="M3654 1227l55-9 5 3-55 9z"/>
<path fill="#4269fe" d="M3599 1236l55-9 5 3-55 10zM3544 1245l55-9 5 4-56 9z"/>
<path fill="#3e6fff" d="M3488 1254l56-9 4 4-55 9z"/>
<path fill="#3875fe" d="M3433 1263l55-9 5 4-55 9z"/>
<path fill="#327cfc" d="M3378 1272l55-9 5 4-55 9z"/>
<path fill="#2f81fa" d="M3323 1281l55-9 5 4-56 9z"/>
<path fill="#fccf30" d="M4322 746l55-58 4 5-55 58z"/>
<path fill="#e6bb2d" d="M4267 804l55-58 4 5-55 57z"/>
<path fill="#9dc943" d="M4212 862l55-58 4 4-55 58z"/>
<path fill="#57cc7a" d="M4156 913l56-51 4 4-56 51z"/>
<path fill="#2cc4a7" d="M4101 960l55-47 4 4-55 47z"/>
<path fill="#01b8ca" d="M4046 1008l55-48 4 4-55 47z"/>
<path fill="#1ca9df" d="M3991 1053l55-45 4 3-55 46z"/>
<path fill="#2797eb" d="M3935 1095l56-42 4 4-56 41z"/>
<path fill="#2e87f7" d="M3880 1133l55-38 4 3-55 39z"/>
<path fill="#3e6fff" d="M3825 1172l55-39 4 4-55 39z"/>
<path fill="#4563fd" d="M3769 1204l56-32 4 4-55 32z"/>
<path fill="#465efb" d="M3714 1221l55-17 5 4-56 16z"/>
<path fill="#4563fd" d="M3659 1230l55-9 4 3-55 9z"/>
<path fill="#4269fe" d="M3604 1240l55-10 4 3-55 10z"/>
<path fill="#3e6fff" d="M3548 1249l56-9 4 3-55 9zM3493 1258l55-9 5 3-56 9z"/>
<path fill="#3875fe" d="M3438 1267l55-9 4 3-55 10z"/>
<path fill="#327cfc" d="M3383 1276l55-9 4 4-55 9z"/>
<path fill="#2f81fa" d="M3327 1285l56-9 4 4-56 9z"/>
<path fill="#fccf30" d="M4326 751l55-58 4 4-56 58z"/>
<path fill="#e6bb2d" d="M4271 808l55-57 3 4-55 57z"/>
<path fill="#9dc943" d="M4216 866l55-58 3 4-55 58z"/>
<path fill="#57cc7a" d="M4160 917l56-51 3 4-55 51z"/>
<path fill="#2cc4a7" d="M4105 964l55-47 4 4-56 46z"/>
<path fill="#02bac3" d="M4050 1011l55-47 3 3-55 47z"/>
<path fill="#1ca9df" d="M3995 1057l55-46 3 3-55 46z"/>
<path fill="#2797eb" d="M3939 1098l56-41 3 3-55 42z"/>
<path fill="#2e87f7" d="M3884 1137l55-39 4 4-56 38z"/>
<path fill="#3e6fff" d="M3829 1176l55-39 3 3-55 39z"/>
<path fill="#4563fd" d="M3774 1208l55-32 3 3-55 32zM3718 1224l56-16 3 3-55 15zM3663 1233l55-9 4 2-56 10z"/>
<path fill="#4269fe" d="M3608 1243l55-10 3 3-55 9z"/>
<path fill="#3e6fff" d="M3553 1252l55-9 3 2-55 9z"/>
<path fill="#3875fe" d="M3497 1261l56-9 3 2-55 10zM3442 1271l55-10 4 3-56 9z"/>
<path fill="#327cfc" d="M3387 1280l55-9 3 2-55 10z"/>
<path fill="#2f81fa" d="M3331 1289l56-9 3 3-55 9z"/>
<path fill="#fccf30" d="M4329 755l56-58 3 3-56 58z"/>
<path fill="#e6bb2d" d="M4274 812l55-57 3 3-55 57z"/>
<path fill="#9dc943" d="M4219 870l55-58 3 3-55 58z"/>
<path fill="#57cc7a" d="M4164 921l55-51 3 3-55 50z"/>
<path fill="#2cc4a7" d="M4108 967l56-46 3 2-56 47z"/>
<path fill="#02bac3" d="M4053 1014l55-47 3 3-55 47z"/>
<path fill="#1ca9df" d="M3998 1060l55-46 3 3-55 45z"/>
<path fill="#2797eb" d="M3943 1102l55-42 3 2-55 42z"/>
<path fill="#2e87f7" d="M3887 1140l56-38 3 2-56 39z"/>
<path fill="#3e6fff" d="M3832 1179l55-39 3 3-55 39z"/>
<path fill="#4563fd" d="M3777 1211l55-32 3 3-55 32zM3722 1226l55-15 3 3-56 14z"/>
<path fill="#4269fe" d="M3666 1236l56-10 2 2-55 9zM3611 1245l55-9 3 1-55 10z"/>
<path fill="#3e6fff" d="M3556 1254l55-9 3 2-55 10z"/>
<path fill="#3875fe" d="M3501 1264l55-10 3 3-56 9z"/>
<path fill="#327cfc" d="M3445 1273l56-9 2 2-55 10zM3390 1283l55-10 3 3-55 9z"/>
<path fill="#2f81fa" d="M3335 1292l55-9 3 2-55 10z"/>
<path fill="#fccf30" d="M4332 758l56-58 2 3-55 57z"/>
<path fill="#e6bb2d" d="M4277 815l55-57 3 2-56 58z"/>
<path fill="#9dc943" d="M4222 873l55-58 2 3-55 57z"/>
<path fill="#57cc7a" d="M4167 923l55-50 2 2-55 51z"/>
<path fill="#2cc4a7" d="M4111 970l56-47 2 3-55 46z"/>
<path fill="#02bac3" d="M4056 1017l55-47 3 2-56 47z"/>
<path fill="#1ca9df" d="M4001 1062l55-45 2 2-55 46z"/>
<path fill="#2797eb" d="M3946 1104l55-42 2 3-55 41z"/>
<path fill="#2e87f7" d="M3890 1143l56-39 2 2-55 39z"/>
<path fill="#3875fe" d="M3835 1182l55-39 3 2-56 39z"/>
<path fill="#4563fd" d="M3780 1214l55-32 2 2-55 32zM3724 1228l56-14 2 2-55 13z"/>
<path fill="#4269fe" d="M3669 1237l55-9 3 1-55 10z"/>
<path fill="#3e6fff" d="M3614 1247l55-10 3 2-56 10zM3559 1257l55-10 2 2-55 9z"/>
<path fill="#3875fe" d="M3503 1266l56-9 2 1-55 10z"/>
<path fill="#327cfc" d="M3448 1276l55-10 3 2-55 10zM3393 1285l55-9 3 2-56 9z"/>
<path fill="#2f81fa" d="M3338 1295l55-10 2 2-55 10z"/>
<path fill="#fccf30" d="M4335 760l55-57 2 2-55 58z"/>
<path fill="#e6bb2d" d="M4279 818l56-58 2 3-56 57z"/>
<path fill="#9dc943" d="M4224 875l55-57 2 2-55 57z"/>
<path fill="#57cc7a" d="M4169 926l55-51 2 2-55 51z"/>
<path fill="#2cc4a7" d="M4114 972l55-46 2 2-55 46z"/>
<path fill="#02bac3" d="M4058 1019l56-47 2 2-56 47z"/>
<path fill="#1ca9df" d="M4003 1065l55-46 2 2-55 45z"/>
<path fill="#259be8" d="M3948 1106l55-41 2 1-55 42z"/>
<path fill="#2e87f7" d="M3893 1145l55-39 2 2-55 39z"/>
<path fill="#3875fe" d="M3837 1184l56-39 2 2-56 39z"/>
<path fill="#4563fd" d="M3782 1216l55-32 2 2-55 31zM3727 1229l55-13 2 1-55 14z"/>
<path fill="#4269fe" d="M3672 1239l55-10 2 2-55 9z"/>
<path fill="#3e6fff" d="M3616 1249l56-10 2 1-56 10zM3561 1258l55-9 2 1-55 10z"/>
<path fill="#3875fe" d="M3506 1268l55-10 2 2-55 10z"/>
<path fill="#327cfc" d="M3451 1278l55-10 2 2-55 9zM3395 1287l56-9 2 1-56 10z"/>
<path fill="#2f81fa" d="M3340 1297l55-10 2 2-55 10z"/>
<path fill="#fccf30" d="M4337 763l55-58 2 2-56 57z"/>
<path fill="#e6bb2d" d="M4281 820l56-57 1 1-55 58z"/>
<path fill="#9dc943" d="M4226 877l55-57 2 2-55 57z"/>
<path fill="#57cc7a" d="M4171 928l55-51 2 2-56 50z"/>
<path fill="#31c69f" d="M4116 974l55-46 1 1-55 47z"/>
<path fill="#02bac3" d="M4060 1021l56-47 1 2-55 46z"/>
<path fill="#18addb" d="M4005 1066l55-45 2 1-55 46z"/>
<path fill="#259be8" d="M3950 1108l55-42 2 2-56 42z"/>
<path fill="#2e87f7" d="M3895 1147l55-39 1 2-55 38z"/>
<path fill="#3875fe" d="M3839 1186l56-39 1 1-55 39z"/>
<path fill="#4563fd" d="M3784 1217l55-31 2 1-55 32z"/>
<path fill="#4269fe" d="M3729 1231l55-14 2 2-56 12z"/>
<path fill="#3e6fff" d="M3618 1250l56-10 1 1-55 10z"/>
<path fill="#3875fe" d="M3563 1260l55-10 2 1-55 10zM3508 1270l55-10 2 1-56 10z"/>
<path fill="#327cfc" d="M3453 1279l55-9 1 1-55 10z"/>
<path fill="#2f81fa" d="M3397 1289l56-10 1 2-55 10zM3342 1299l55-10 2 2-55 9z"/>
<path fill="#fccf30" d="M4338 764l56-57 1 2-55 57z"/>
<path fill="#e6bb2d" d="M4283 822l55-58 2 2-56 57z"/>
<path fill="#9dc943" d="M4228 879l55-57 1 1-55 57z"/>
<path fill="#57cc7a" d="M4172 929l56-50 1 1-55 51z"/>
<path fill="#31c69f" d="M4117 976l55-47 2 2-55 46z"/>
<path fill="#02bac3" d="M4062 1022l55-46 2 1-56 46z"/>
<path fill="#18addb" d="M4007 1068l55-46 1 1-55 46z"/>
<path fill="#259be8" d="M3951 1110l56-42 1 1-55 42z"/>
<path fill="#2e87f7" d="M3896 1148l55-38 2 1-55 39z"/>
<path fill="#3875fe" d="M3841 1187l55-39 2 2-56 39z"/>
<path fill="#4563fd" d="M3786 1219l55-32 1 2-55 31z"/>
<path fill="#4269fe" d="M3730 1231l56-12 1 1-55 12zM3675 1241l55-10 2 1-55 10z"/>
<path fill="#3e6fff" d="M3620 1251l55-10 2 1-56 10z"/>
<path fill="#3875fe" d="M3565 1261l55-10 1 1-55 10zM3509 1271l56-10 1 1-55 10z"/>
<path fill="#327cfc" d="M3454 1281l55-10 2 1-56 10z"/>
<path fill="#2f81fa" d="M3399 1291l55-10 1 1-55 10zM3344 1300l55-9 1 1-55 10z"/>
<path fill="#fccf30" d="M4340 766l55-57 1 1-55 57z"/>
<path fill="#e6bb2d" d="M4284 823l56-57 1 1-56 57z"/>
<path fill="#9dc943" d="M4229 880l55-57 1 1-55 57z"/>
<path fill="#57cc7a" d="M4174 931l55-51 1 1-55 51z"/>
<path fill="#31c69f" d="M4119 977l55-46 1 1-55 46z"/>
<path fill="#02bac3" d="M4063 1023l56-46 1 1-56 46z"/>
<path fill="#18addb" d="M4008 1069l55-46 1 1-55 46z"/>
<path fill="#259be8" d="M3953 1111l55-42 1 1-55 42z"/>
<path fill="#2e87f7" d="M3898 1150l55-39 1 1-55 39z"/>
<path fill="#3875fe" d="M3842 1189l56-39 1 1-56 39z"/>
<path fill="#4563fd" d="M3787 1220l55-31 1 1-55 31z"/>
<path fill="#4269fe" d="M3732 1232l55-12 1 1-55 12zM3677 1242l55-10 1 1-55 10z"/>
<path fill="#3e6fff" d="M3621 1252l56-10 1 1-56 10z"/>
<path fill="#3875fe" d="M3566 1262l55-10 1 1-55 10zM3511 1272l55-10 1 1-55 10z"/>
<path fill="#327cfc" d="M3455 1282l56-10 1 1-55 10z"/>
<path fill="#2f81fa" d="M3400 1292l55-10 2 1-56 10zM3345 1302l55-10 1 1-55 10z"/>
<path fill="#fccf30" d="M4341 767l55-57 1 1-55 57z"/>
<path fill="#e6bb2d" d="M4285 824l56-57 1 1-56 57z"/>
<path fill="#9dc943" d="M4230 881l55-57 1 1-55 57z"/>
<path fill="#57cc7a" d="M4175 932l55-51 1 1-55 51z"/>
<path fill="#31c69f" d="M4120 978l55-46 1 1-55 46z"/>
<path fill="#02bac3" d="M4064 1024l56-46 1 1-56 46z"/>
<path fill="#18addb" d="M4009 1070l55-46 1 1-55 46z"/>
<path fill="#259be8" d="M3954 1112l55-42 1 1-55 42z"/>
<path fill="#2e87f7" d="M3899 1151l55-39 1 1-55 39z"/>
<path fill="#3875fe" d="M3843 1190l56-39 1 1-56 38z"/>
<path fill="#4563fd" d="M3788 1221l55-31 1 0-55 32z"/>
<path fill="#3875fe" d="M3512 1273l55-10 1 1-55 10z"/>
<path fill="#327cfc" d="M3457 1283l55-10 1 1-55 10z"/>
<path fill="#2f81fa" d="M3401 1293l56-10 1 1-56 10zM3346 1303l55-10 1 1-55 10z"/>
<path fill="#fccf30" d="M4342 768l55-57 1 1-56 57z"/>
<path fill="#e6bb2d" d="M4286 825l56-57 0 1-55 57z"/>
<path fill="#9dc943" d="M4231 882l55-57 1 1-55 57z"/>
<path fill="#57cc7a" d="M4176 933l55-51 1 1-55 51z"/>
<path fill="#31c69f" d="M4121 979l55-46 1 1-56 46z"/>
<path fill="#02bac3" d="M4065 1025l56-46 0 1-55 46z"/>
<path fill="#18addb" d="M4010 1071l55-46 1 1-55 46z"/>
<path fill="#259be8" d="M3955 1113l55-42 1 1-55 41z"/>
<path fill="#4563fd" d="M3789 1222l55-32 1 1-55 32z"/>
<path fill="#4269fe" d="M3734 1233l55-11 1 1-55 11z"/>
<path fill="#3e6fff" d="M3679 1243l55-10 1 1-56 10zM3623 1253l56-10 0 1-55 10z"/>
<path fill="#fccf30" d="M4342 769l56-57 0 1-55 57z"/>
<path fill="#e6bb2d" d="M4287 826l55-57 1 1-55 57z"/>
<path fill="#9dc943" d="M4232 883l55-57 1 1-55 57z"/>
<path fill="#57cc7a" d="M4177 934l55-51 1 1-56 50z"/>
<path fill="#2e87f7" d="M3900 1152l56-39 0 1-55 39z"/>
<path fill="#3875fe" d="M3845 1191l55-39 1 1-55 39z"/>
<path fill="#4269fe" d="M3790 1223l55-32 1 1-55 31z"/>
<path fill="#327cfc" d="M3514 1274l55-10 1 1-56 10zM3458 1284l56-10 0 1-55 10z"/>
<path fill="#2f81fa" d="M3403 1294l55-10 1 1-55 10zM3348 1304l55-10 1 1-56 10z"/>
<path fill="#fccf30" d="M4343 770l55-57 1 1-55 57z"/>
<path fill="#e6bb2d" d="M4288 827l55-57 1 1-56 56z"/>
<path fill="#57cc7a" d="M4177 934l56-50 0 0-55 51z"/>
<path fill="#31c69f" d="M4122 980l55-46 1 1-55 46z"/>
<path fill="#02bac3" d="M4067 1026l55-46 1 1-56 46z"/>
<path fill="#18addb" d="M4012 1072l55-46 0 1-55 46z"/>
<path fill="#259be8" d="M3956 1114l56-42 0 1-55 42z"/>
<path fill="#2e87f7" d="M3901 1153l55-39 1 1-55 38z"/>
<path fill="#4269fe" d="M3735 1234l56-11 0 1-55 11z"/>
<path fill="#3e6fff" d="M3680 1244l55-10 1 1-55 10zM3625 1254l55-10 1 1-56 10z"/>
<path fill="#e6bb2d" d="M4288 827l56-56 0 0-55 57z"/>
<path fill="#9dc943" d="M4233 884l55-57 1 1-55 57z"/>
<path fill="#57cc7a" d="M4178 935l55-51 1 1-56 50z"/>
<path fill="#3875fe" d="M3846 1192l56-39 0 1-55 39z"/>
<path fill="#4269fe" d="M3791 1224l55-32 1 1-55 31z"/>
<path fill="#2f81fa" d="M3404 1295l56-10 0 1-55 10zM3349 1305l55-10 1 1-56 10z"/>
<path fill="#fccf30" d="M4344 771l55-57 1 1-55 56z"/>
<path fill="#57cc7a" d="M4178 935l56-50 0 0-55 51z"/>
<path fill="#31c69f" d="M4123 981l55-46 1 1-56 46z"/>
<path fill="#02bac3" d="M4068 1027l55-46 0 1-55 46z"/>
<path fill="#327cfc" d="M3515 1275l56-10 0 1-55 10z"/>
<path fill="#e6bb2d" d="M4289 828l56-57 0 1-55 57z"/>
<path fill="#9dc943" d="M4234 885l55-57 1 1-56 57z"/>
<path fill="#18addb" d="M4013 1073l55-45 1 0-56 46z"/>
<path fill="#259be8" d="M3958 1115l55-42 0 1-55 42z"/>
<path fill="#57cc7a" d="M4179 936l56-50 0 0-55 51z"/>
<path fill="#31c69f" d="M4124 982l55-46 1 1-56 45z"/>
<path fill="#fad62d" d="M4345 772l56-57 0 1-56 57z"/>
<path fill="#e6bb2d" d="M4290 829l55-56 1 0-56 57z"/>
<path fill="#02bac3" d="M4069 1028l55-45 1 0-56 46z"/>
<path fill="#9dc943" d="M4235 886l55-56 1 0-56 57z"/>
<path fill="#57cc7a" d="M4180 937l56-50 0 0-55 51z"/>
<path fill="#31c69f" d="M4125 983l55-46 1 1-56 45z"/>
<path fill="#2d8cf3" d="M3960 1102l55-27 0 0-55 42zM3904 1120l56-18 0 15-56 39zM3849 1138l55-18 0 36-55 39zM3794 1155l55-17 0 57-55 31zM3739 1173l55-18 0 71-55 10zM3683 1190l56-17 0 63-56 10zM3628 1208l55-18 0 56-55 11zM3573 1226l55-18 0 49-55 10zM3518 1243l55-17 0 41-56 10zM3462 1261l56-18-1 34-55 10zM3407 1279l55-18 0 26-55 11zM3352 1296l55-17 0 19-55 10z"/>
<path fill="#23a0e5" d="M4015 1059l55-30 0 0-55 46zM3960 1076l55-17 0 16-55 27zM3904 1094l56-18 0 26-56 18zM3849 1112l55-18 0 26-55 18zM3794 1129l55-17 0 26-55 17zM3739 1147l55-18 0 26-55 18zM3683 1164l56-17 0 26-56 17zM3628 1182l55-18 0 26-55 18zM3573 1200l55-18 0 26-55 18zM3518 1217l55-17 0 26-55 17zM3462 1235l56-18 0 26-56 18zM3407 1253l55-18 0 26-55 18zM3352 1270l55-17 0 26-55 17z"/>
<path fill="#12b1d6" d="M4070 1011l55-28 0 0-55 46zM4015 1028l55-17 0 18-55 30zM3960 1046l55-18 0 31-55 17zM3904 1064l56-18 0 30-56 18zM3849 1081l55-17 0 30-55 18zM3794 1099l55-18 0 31-55 17zM3739 1117l55-18 0 30-55 18zM3683 1134l56-17 0 30-56 17zM3628 1152l55-18 0 30-55 18zM3573 1170l55-18 0 30-55 18zM3518 1187l55-17 0 30-55 17zM3462 1205l56-18 0 30-56 18zM3407 1223l55-18 0 30-55 18zM3352 1240l55-17 0 30-55 17z"/>
<path fill="#2cc4a7" d="M4181 931l55-44 0 0-55 51zM4125 948l56-17 0 7-56 45zM4070 966l55-18 0 35-55 28zM4015 984l55-18 0 45-55 17zM3960 1001l55-17 0 44-55 18zM3904 1019l56-18 0 45-56 18zM3849 1037l55-18 0 45-55 17zM3794 1054l55-17 0 44-55 18zM3739 1072l55-18 0 45-55 18zM3683 1090l56-18 0 45-56 17zM3628 1107l55-17 0 44-55 18zM3573 1125l55-18 0 45-55 18zM3518 1143l55-18 0 45-55 17zM3462 1160l56-17 0 44-56 18zM3407 1178l55-18 0 45-55 18zM3352 1195l55-17 0 45-55 17z"/>
<path fill="#81cc59" d="M4236 853l55-23 0 0-55 57zM4181 871l55-18 0 34-55 44zM4125 888l56-17 0 60-56 17zM4070 906l55-18 0 60-55 18zM4015 923l55-17 0 60-55 18zM3960 941l55-18 0 61-55 17zM3904 959l56-18 0 60-56 18zM3849 976l55-17 0 60-55 18zM3794 994l55-18 0 61-55 17zM3739 1012l55-18 0 60-55 18zM3683 1029l56-17 0 60-56 18zM3628 1047l55-18 0 61-55 17zM3573 1065l55-18 0 60-55 18zM3518 1082l55-17 0 60-55 18zM3462 1100l56-18 0 61-56 17zM3407 1118l55-18 0 60-55 18zM3352 1135l55-17 0 60-55 17z"/>
<path fill="#fec338" d="M4346 729l56-17 0 5-56 57zM4291 747l55-18 0 45-55 56zM4236 764l55-17 0 83-55 23zM4181 782l55-18 0 89-55 18zM4125 800l56-18 0 89-56 17zM4070 817l55-17 0 88-55 18zM4015 835l55-18 0 89-55 17zM3960 853l55-18 0 88-55 18zM3904 870l56-17 0 88-56 18zM3849 888l55-18 0 89-55 17zM3794 906l55-18 0 88-55 18zM3739 923l55-17 0 88-55 18zM3683 941l56-18 0 89-56 17zM3628 959l55-18 0 88-55 18zM3573 976l55-17 0 88-55 18zM3518 994l55-18 0 89-55 17zM3462 1011l56-17 0 88-56 18zM3407 1029l55-18 0 89-55 18zM3352 1047l55-18 0 89-55 17z"/>
</g>
<use href="#sp2"/>
<path d="M332.4 144.2L443.5 115M332.4 144.2L281.1 81M281.1 81L281.1 34.2M332.4 144.2L333.8 145.9M354.6 138.4L356 140.1M376.8 132.5L378.2 134.2M399.1 126.7L400.4 128.4M421.3 120.8L422.7 122.5M443.5 115L444.9 116.7M332.4 144.2L330.3 144.8M323.8 133.7L321.7 134.2M315.3 123.1L313.2 123.7M306.8 112.6L304.6 113.2M298.2 102.1L296.1 102.6M289.7 91.5L287.5 92.1M281.1 75.8L279.3 74.5M281.1 55L279.3 53.7M281.1 34.2L279.3 32.9" stroke="#3a3a3a" stroke-width=".6" fill="none"/>
<g font-size="7.4">
<text x="337.4" y="156.4" text-anchor="middle">0</text>
<text x="359.6" y="150.6" text-anchor="middle">2</text>
<text x="381.8" y="144.7" text-anchor="middle">4</text>
<text x="404.1" y="138.9" text-anchor="middle">6</text>
<text x="426.3" y="133" text-anchor="middle">8</text>
<text x="450.8" y="127.2" text-anchor="middle">10</text>
<text x="324.4" y="153.4" text-anchor="middle">0</text>
<text x="315.8" y="142.9" text-anchor="middle">1</text>
<text x="307.3" y="132.3" text-anchor="middle">2</text>
<text x="298.8" y="121.8" text-anchor="middle">3</text>
<text x="290.2" y="111.3" text-anchor="middle">4</text>
<text x="281.7" y="100.7" text-anchor="middle">5</text>
<text x="276.8" y="75.7" text-anchor="end">0.2</text>
<text x="276.8" y="54.9" text-anchor="end">0.4</text>
<text x="276.8" y="34.1" text-anchor="end">0.6</text>
</g>
<text transform="translate(390.3 163.9) rotate(-14.7)" text-anchor="middle">Distance from solids inlet [m]</text>
<text transform="translate(287.4 135.8) rotate(50.9)" text-anchor="middle">Time [h]</text>
<text transform="translate(261 57.6) rotate(-90)" text-anchor="middle">Mass gas [kg]</text>
<rect x="459.4" y="5.2" width="9.1" height="138.2" fill="url(#pg)" stroke="#3a3a3a" stroke-width=".5"/>
<text font-size="6.8" x="471.7" y="131.1">0.2</text>
<text font-size="6.8" x="471.7" y="114.8">0.25</text>
<text font-size="6.8" x="471.7" y="98.5">0.3</text>
<text font-size="6.8" x="471.7" y="82.2">0.35</text>
<text font-size="6.8" x="471.7" y="65.9">0.4</text>
<text font-size="6.8" x="471.7" y="49.7">0.45</text>
<text font-size="6.8" x="471.7" y="33.4">0.5</text>
<text font-size="6.8" x="471.7" y="17.1">0.55</text>
<path d="M468.5 128.3h-1.4M468.5 112h-1.4M468.5 95.7h-1.4M468.5 79.4h-1.4M468.5 63.1h-1.4M468.5 46.9h-1.4M468.5 30.6h-1.4M468.5 14.3h-1.4" stroke="#3a3a3a" stroke-width=".5" fill="none"/>
<path d="M89.3 328.9L40.3 266.6M40.3 266.6L40.3 218.2M110.6 323.3L61.6 261M61.6 261L61.6 212.6M131.9 317.8L82.9 255.5M82.9 255.5L82.9 207.1M153.3 312.2L104.3 249.9M104.3 249.9L104.3 201.5M174.6 306.7L125.6 244.4M125.6 244.4L125.6 196M195.9 301.1L146.9 238.8M146.9 238.8L146.9 190.4M89.3 328.9L195.9 301.1M195.9 301.1L195.9 252.7M81.1 318.5L187.7 290.7M187.7 290.7L187.7 242.3M73 308.1L179.6 280.3M179.6 280.3L179.6 231.9M64.8 297.8L171.4 270M171.4 270L171.4 221.6M56.6 287.4L163.2 259.6M163.2 259.6L163.2 211.2M48.5 277L155.1 249.2M155.1 249.2L155.1 200.8M40.3 266.6L146.9 238.8M146.9 238.8L146.9 190.4M40.3 257.9L146.9 230.1M146.9 230.1L195.9 292.4M40.3 238L146.9 210.2M146.9 210.2L195.9 272.5M40.3 218.2L146.9 190.4M146.9 190.4L195.9 252.7M40.3 218.2L146.9 190.4M146.9 190.4L195.9 252.7" stroke="#e2e2e2" stroke-width=".5" fill="none"/>
<g id="sp3" transform="scale(.1)" stroke="#000" stroke-width="2.0" stroke-opacity="0.6" stroke-linejoin="round">
<path fill="#0bbdbd" d="M1425 2242l53-10 61 78-53 9zM1372 2251l53-9 61 77-53 10z"/>
<path fill="#19bfb6" d="M1319 2260l53-9 61 78-53 9z"/>
<path fill="#24c1ae" d="M1266 2270l53-10 61 78-53 10zM1213 2279l53-9 61 78-53 9z"/>
<path fill="#2cc4a7" d="M1160 2289l53-10 61 78-53 9z"/>
<path fill="#31c69f" d="M1107 2298l53-9 61 77-53 10zM1054 2307l53-9 61 78-53 9z"/>
<path fill="#37c897" d="M1001 2317l53-10 61 78-53 9z"/>
<path fill="#3fca8e" d="M948 2325l53-8 61 77-53 8z"/>
<path fill="#4acb84" d="M895 2328l53-3 61 77-53 3z"/>
<path fill="#f5e924" d="M903 2268l53 137-61-77-53-138z"/>
<path fill="#57cc7a" d="M789 2352l53-162 61 78-53 162z"/>
<path fill="#0bbdbd" d="M736 2417l53-65 61 78-53 65z"/>
<path fill="#18addb" d="M683 2466l53-49 61 78-53 49z"/>
<path fill="#259be8" d="M630 2508l53-42 61 78-53 42z"/>
<path fill="#2e87f7" d="M577 2549l53-41 61 78-53 42z"/>
<path fill="#4563fd" d="M524 2603l53-54 61 79-53 53z"/>
<path fill="#4741e5" d="M470 2664l54-61 61 78-53 61z"/>
<path fill="#0bbdbd" d="M1486 2319l53-9 61 77-53 10zM1433 2329l53-10 61 78-53 9z"/>
<path fill="#19bfb6" d="M1380 2338l53-9 61 77-53 10z"/>
<path fill="#24c1ae" d="M1327 2348l53-10 61 78-53 9zM1274 2357l53-9 61 77-53 10z"/>
<path fill="#2cc4a7" d="M1221 2366l53-9 61 78-53 9z"/>
<path fill="#31c69f" d="M1168 2376l53-10 61 78-53 10zM1115 2385l53-9 61 78-53 9z"/>
<path fill="#37c897" d="M1062 2394l53-9 61 78-53 9z"/>
<path fill="#3fca8e" d="M1009 2402l53-8 61 78-53 7z"/>
<path fill="#4acb84" d="M956 2405l53-3 61 77-53 4z"/>
<path fill="#f5e924" d="M964 2346l53 137-61-78-53-137z"/>
<path fill="#57cc7a" d="M850 2430l53-162 61 78-53 162z"/>
<path fill="#0bbdbd" d="M797 2495l53-65 61 78-53 65z"/>
<path fill="#18addb" d="M744 2544l53-49 61 78-53 49z"/>
<path fill="#259be8" d="M691 2586l53-42 61 78-53 42z"/>
<path fill="#2e87f7" d="M638 2628l53-42 61 78-53 43z"/>
<path fill="#4563fd" d="M585 2681l53-53 61 79-53 54z"/>
<path fill="#463cde" d="M532 2742l53-61 61 80-53 60z"/>
<path fill="#0bbdbd" d="M1547 2397l53-10 62 78-53 9zM1494 2406l53-9 62 77-53 10z"/>
<path fill="#19bfb6" d="M1441 2416l53-10 62 78-53 9z"/>
<path fill="#24c1ae" d="M1388 2425l53-9 62 77-53 10zM1335 2435l53-10 62 78-53 9z"/>
<path fill="#2cc4a7" d="M1282 2444l53-9 62 77-54 10z"/>
<path fill="#31c69f" d="M1229 2454l53-10 61 78-53 9zM1176 2463l53-9 61 77-53 9z"/>
<path fill="#37c897" d="M1123 2472l53-9 61 77-53 9z"/>
<path fill="#3fca8e" d="M1070 2479l53-7 61 77-53 6z"/>
<path fill="#4acb84" d="M1017 2483l53-4 61 76-53 6z"/>
<path fill="#f5e924" d="M1025 2424l53 137-61-78-53-137z"/>
<path fill="#57cc7a" d="M911 2508l53-162 61 78-53 162z"/>
<path fill="#0bbdbd" d="M858 2573l53-65 61 78-53 65z"/>
<path fill="#18addb" d="M805 2622l53-49 61 78-53 50z"/>
<path fill="#259be8" d="M752 2664l53-42 61 79-53 43z"/>
<path fill="#2e87f7" d="M699 2707l53-43 61 80-53 44z"/>
<path fill="#4563fd" d="M646 2761l53-54 61 81-53 53z"/>
<path fill="#463cde" d="M593 2821l53-60 61 80-53 59z"/>
<path fill="#0bbdbd" d="M1609 2474l53-9 61 77-53 10z"/>
<path fill="#19bfb6" d="M1556 2484l53-10 61 78-53 9zM1503 2493l53-9 61 77-53 10z"/>
<path fill="#24c1ae" d="M1450 2503l53-10 61 78-53 9zM1397 2512l53-9 61 77-53 10z"/>
<path fill="#2cc4a7" d="M1343 2522l54-10 61 78-53 9z"/>
<path fill="#31c69f" d="M1290 2531l53-9 62 77-53 10zM1237 2540l53-9 62 78-53 8z"/>
<path fill="#37c897" d="M1184 2549l53-9 62 77-53 8z"/>
<path fill="#4acb84" d="M1131 2555l53-6 62 76-53 5zM1078 2561l53-6 62 75-53 8z"/>
<path fill="#f5e924" d="M1087 2502l53 136-62-77-53-137z"/>
<path fill="#57cc7a" d="M972 2586l53-162 62 78-53 162z"/>
<path fill="#0bbdbd" d="M919 2651l53-65 62 78-53 66z"/>
<path fill="#18addb" d="M866 2701l53-50 62 79-53 51z"/>
<path fill="#259be8" d="M813 2744l53-43 62 80-53 45z"/>
<path fill="#2f81fa" d="M760 2788l53-44 62 82-53 45z"/>
<path fill="#465efb" d="M707 2841l53-53 62 83-53 53z"/>
<path fill="#463cde" d="M654 2900l53-59 62 83-54 57z"/>
<path fill="#0bbdbd" d="M1670 2552l53-10 61 77-53 9z"/>
<path fill="#19bfb6" d="M1617 2561l53-9 61 76-53 10zM1564 2571l53-10 61 77-53 10z"/>
<path fill="#24c1ae" d="M1511 2580l53-9 61 77-53 9z"/>
<path fill="#2cc4a7" d="M1458 2590l53-10 61 77-53 10zM1405 2599l53-9 61 77-53 9z"/>
<path fill="#31c69f" d="M1352 2609l53-10 61 77-53 10z"/>
<path fill="#37c897" d="M1299 2617l53-8 61 77-53 8z"/>
<path fill="#3fca8e" d="M1246 2625l53-8 61 77-53 7z"/>
<path fill="#4acb84" d="M1193 2630l53-5 61 76-53 1z"/>
<path fill="#57cc7a" d="M1140 2638l53-8 61 72-53 13z"/>
<path fill="#f5e924" d="M1148 2580l53 135-61-77-53-136z"/>
<path fill="#57cc7a" d="M1034 2664l53-162 61 78-53 163z"/>
<path fill="#0bbdbd" d="M981 2730l53-66 61 79-53 68z"/>
<path fill="#1ca9df" d="M928 2781l53-51 61 81-53 55z"/>
<path fill="#2b91ef" d="M875 2826l53-45 61 85-53 48z"/>
<path fill="#327cfc" d="M822 2871l53-45 61 88-53 46z"/>
<path fill="#4758f8" d="M769 2924l53-53 61 89-53 50z"/>
<path fill="#4537d5" d="M715 2981l54-57 61 86-53 53z"/>
<path fill="#0bbdbd" d="M1731 2628l53-9 61 75-53 10z"/>
<path fill="#19bfb6" d="M1678 2638l53-10 61 76-53 10zM1625 2648l53-10 61 76-53 10z"/>
<path fill="#24c1ae" d="M1572 2657l53-9 61 76-53 10z"/>
<path fill="#2cc4a7" d="M1519 2667l53-10 61 77-53 9zM1466 2676l53-9 61 76-53 10z"/>
<path fill="#31c69f" d="M1413 2686l53-10 61 77-53 10z"/>
<path fill="#37c897" d="M1360 2694l53-8 61 77-53 6z"/>
<path fill="#3fca8e" d="M1307 2701l53-7 61 75-53 6z"/>
<path fill="#57cc7a" d="M1254 2702l53-1 61 74-53-4zM1201 2715l53-13 61 69-53 20z"/>
<path fill="#f5e924" d="M1209 2658l53 133-61-76-53-135z"/>
<path fill="#4acb84" d="M1095 2743l53-163 61 78-53 172z"/>
<path fill="#02bac3" d="M1042 2811l53-68 61 87-53 73z"/>
<path fill="#23a0e5" d="M989 2866l53-55 61 92-53 60z"/>
<path fill="#2e87f7" d="M936 2914l53-48 61 97-53 53z"/>
<path fill="#4269fe" d="M883 2960l53-46 61 102-53 46z"/>
<path fill="#4852f4" d="M830 3010l53-50 61 102-53 43z"/>
<path fill="#4537d5" d="M777 3063l53-53 61 95-53 44z"/>
<path fill="#0bbdbd" d="M1792 2704l53-10 13 16-53 10z"/>
<path fill="#19bfb6" d="M1739 2714l53-10 13 16-53 10z"/>
<path fill="#24c1ae" d="M1686 2724l53-10 13 16-53 10zM1633 2734l53-10 13 16-53 10z"/>
<path fill="#2cc4a7" d="M1580 2743l53-9 13 16-53 10zM1527 2753l53-10 13 17-53 9z"/>
<path fill="#31c69f" d="M1474 2763l53-10 13 16-53 10z"/>
<path fill="#37c897" d="M1421 2769l53-6 13 16-53 6z"/>
<path fill="#3fca8e" d="M1368 2775l53-6 13 16-53 6z"/>
<path fill="#64cd6f" d="M1315 2771l53 4 13 16-53-6z"/>
<path fill="#57cc7a" d="M1262 2791l53-20 13 14-53 23z"/>
<path fill="#f5e924" d="M1222 2674l53 134-13-17-53-133z"/>
<path fill="#3fca8e" d="M1156 2830l53-172 13 16-53 177z"/>
<path fill="#08b5d0" d="M1103 2903l53-73 13 21-53 75z"/>
<path fill="#2797eb" d="M1050 2963l53-60 13 23-53 61z"/>
<path fill="#327cfc" d="M997 3016l53-53 13 24-53 54z"/>
<path fill="#465efb" d="M944 3062l53-46 13 25-53 46z"/>
<path fill="#4747eb" d="M891 3105l53-43 13 25-53 40z"/>
<path fill="#4432cb" d="M838 3149l53-44 13 22-53 41z"/>
<path fill="#19bfb6" d="M1805 2720l53-10 11 13-53 10zM1752 2730l53-10 11 13-53 10z"/>
<path fill="#24c1ae" d="M1699 2740l53-10 11 13-53 10zM1646 2750l53-10 11 13-53 10z"/>
<path fill="#2cc4a7" d="M1593 2760l53-10 11 13-53 10zM1540 2769l53-9 11 13-53 10z"/>
<path fill="#31c69f" d="M1487 2779l53-10 11 14-53 10z"/>
<path fill="#37c897" d="M1434 2785l53-6 11 14-53 5z"/>
<path fill="#3fca8e" d="M1381 2791l53-6 11 13-53 5z"/>
<path fill="#64cd6f" d="M1328 2785l53 6 11 12-53-7z"/>
<path fill="#57cc7a" d="M1275 2808l53-23 11 11-53 25z"/>
<path fill="#f5e924" d="M1233 2688l53 133-11-13-53-134z"/>
<path fill="#37c897" d="M1169 2851l53-177 11 14-53 182z"/>
<path fill="#12b1d6" d="M1116 2926l53-75 11 19-53 75z"/>
<path fill="#2b91ef" d="M1063 2987l53-61 11 19-53 63z"/>
<path fill="#3e6fff" d="M1010 3041l53-54 11 21-53 55z"/>
<path fill="#4758f8" d="M957 3087l53-46 11 22-53 45z"/>
<path fill="#4741e5" d="M904 3127l53-40 11 21-53 38z"/>
<path fill="#422ec0" d="M851 3168l53-41 11 19-53 38z"/>
<path fill="#19bfb6" d="M1816 2733l53-10 10 12-53 10zM1763 2743l53-10 10 12-53 10z"/>
<path fill="#24c1ae" d="M1710 2753l53-10 10 12-53 10zM1657 2763l53-10 10 12-53 10z"/>
<path fill="#2cc4a7" d="M1604 2773l53-10 10 12-53 10zM1551 2783l53-10 10 12-53 10z"/>
<path fill="#31c69f" d="M1498 2793l53-10 10 12-53 10z"/>
<path fill="#37c897" d="M1445 2798l53-5 10 12-53 5z"/>
<path fill="#4acb84" d="M1392 2803l53-5 10 12-53 5z"/>
<path fill="#72cd64" d="M1339 2796l53 7 10 12-53-9z"/>
<path fill="#57cc7a" d="M1286 2821l53-25 10 10-53 27z"/>
<path fill="#f5e924" d="M1243 2701l53 132-10-12-53-133z"/>
<path fill="#31c69f" d="M1180 2870l53-182 10 13-53 187z"/>
<path fill="#18addb" d="M1127 2945l53-75 10 18-53 77z"/>
<path fill="#2d8cf3" d="M1074 3008l53-63 10 20-54 63z"/>
<path fill="#4269fe" d="M1021 3063l53-55 9 20-53 55z"/>
<path fill="#4852f4" d="M968 3108l53-45 9 20-53 45z"/>
<path fill="#463cde" d="M915 3146l53-38 9 20-53 35z"/>
<path fill="#422ec0" d="M862 3184l53-38 9 17-53 35z"/>
<path fill="#19bfb6" d="M1826 2745l53-10 8 10-53 10zM1773 2755l53-10 8 10-53 10z"/>
<path fill="#24c1ae" d="M1720 2765l53-10 8 10-53 10zM1667 2775l53-10 8 10-53 10z"/>
<path fill="#2cc4a7" d="M1614 2785l53-10 8 10-53 10z"/>
<path fill="#31c69f" d="M1561 2795l53-10 8 10-53 9zM1508 2805l53-10 8 9-53 10z"/>
<path fill="#37c897" d="M1455 2810l53-5 8 9-53 6z"/>
<path fill="#4acb84" d="M1402 2815l53-5 8 10-53 4z"/>
<path fill="#72cd64" d="M1349 2806l53 9 8 9-53-10z"/>
<path fill="#57cc7a" d="M1296 2833l53-27 8 8-53 29z"/>
<path fill="#fad62d" d="M1243 2701l53 132 8 10-53-90z"/>
<path fill="#31c69f" d="M1190 2888l53-187 8 52-53 152z"/>
<path fill="#1ca9df" d="M1137 2965l53-77 8 17-53 77z"/>
<path fill="#2e87f7" d="M1083 3028l54-63 8 17-53 63z"/>
<path fill="#4563fd" d="M1030 3083l53-55 9 17-53 57z"/>
<path fill="#484df0" d="M977 3128l53-45 9 19-54 43z"/>
<path fill="#463cde" d="M924 3163l53-35 8 17-53 33z"/>
<path fill="#422ec0" d="M871 3198l53-35 8 15-53 33z"/>
<path fill="#19bfb6" d="M1834 2755l53-10 7 8-53 10zM1781 2765l53-10 7 8-54 10z"/>
<path fill="#24c1ae" d="M1728 2775l53-10 6 8-53 10zM1675 2785l53-10 6 8-53 10z"/>
<path fill="#2cc4a7" d="M1622 2795l53-10 6 8-53 10z"/>
<path fill="#31c69f" d="M1569 2804l53-9 6 8-53 10zM1516 2814l53-10 6 9-53 9z"/>
<path fill="#37c897" d="M1463 2820l53-6 6 8-53 6z"/>
<path fill="#4acb84" d="M1410 2824l53-4 6 8-53 3z"/>
<path fill="#72cd64" d="M1357 2814l53 10 6 7-53-10z"/>
<path fill="#57cc7a" d="M1304 2843l53-29 6 7-53 30z"/>
<path fill="#e6bb2d" d="M1251 2753l53 90 6 8-53-26z"/>
<path fill="#2cc4a7" d="M1198 2905l53-152 6 72-53 95z"/>
<path fill="#20a5e3" d="M1145 2982l53-77 6 15-53 77z"/>
<path fill="#2f81fa" d="M1092 3045l53-63 6 15-53 64z"/>
<path fill="#465efb" d="M1039 3102l53-57 6 16-53 56z"/>
<path fill="#4747eb" d="M985 3145l54-43 6 15-53 43z"/>
<path fill="#4537d5" d="M932 3178l53-33 7 15-53 31z"/>
<path fill="#422ec0" d="M879 3211l53-33 7 13-53 30z"/>
<path fill="#19bfb6" d="M1841 2763l53-10 5 6-53 10zM1787 2773l54-10 5 6-53 10z"/>
<path fill="#24c1ae" d="M1734 2783l53-10 6 6-53 10z"/>
<path fill="#2cc4a7" d="M1681 2793l53-10 6 6-53 10zM1628 2803l53-10 6 6-53 10z"/>
<path fill="#31c69f" d="M1575 2813l53-10 6 6-53 10zM1522 2822l53-9 6 6-53 10z"/>
<path fill="#3fca8e" d="M1469 2828l53-6 6 7-53 5z"/>
<path fill="#4acb84" d="M1416 2831l53-3 6 6-53 4z"/>
<path fill="#81cc59" d="M1363 2821l53 10 6 7-53-12z"/>
<path fill="#64cd6f" d="M1310 2851l53-30 6 5-53 25z"/>
<path fill="#72cd64" d="M1257 2825l53 26 6 0-53 31z"/>
<path fill="#24c1ae" d="M1204 2920l53-95 6 57-53 51z"/>
<path fill="#23a0e5" d="M1151 2997l53-77 6 13-53 77z"/>
<path fill="#327cfc" d="M1098 3061l53-64 6 13-53 65z"/>
<path fill="#4758f8" d="M1045 3117l53-56 6 14-53 56z"/>
<path fill="#4741e5" d="M992 3160l53-43 6 14-53 42z"/>
<path fill="#4537d5" d="M939 3191l53-31 6 13-53 28z"/>
<path fill="#402ab4" d="M886 3221l53-30 6 10-53 28z"/>
<path fill="#19bfb6" d="M1846 2769l53-10 5 5-53 10z"/>
<path fill="#24c1ae" d="M1793 2779l53-10 5 5-53 10zM1740 2789l53-10 5 5-53 10z"/>
<path fill="#2cc4a7" d="M1687 2799l53-10 5 5-53 10zM1634 2809l53-10 5 5-53 10z"/>
<path fill="#31c69f" d="M1581 2819l53-10 5 5-53 10zM1528 2829l53-10 5 5-53 10z"/>
<path fill="#3fca8e" d="M1475 2834l53-5 5 5-53 5z"/>
<path fill="#4acb84" d="M1422 2838l53-4 5 5-53 3z"/>
<path fill="#81cc59" d="M1369 2826l53 12 5 4-53-12z"/>
<path fill="#9dc943" d="M1321 2808l53 22-5-4-53 25z"/>
<path fill="#37c897" d="M1263 2882l53-31 5-43-53 107z"/>
<path fill="#19bfb6" d="M1210 2933l53-51 5 33-53 30z"/>
<path fill="#23a0e5" d="M1157 3010l53-77 5 12-54 77z"/>
<path fill="#3875fe" d="M1104 3075l53-65 4 12-53 64z"/>
<path fill="#4852f4" d="M1051 3131l53-56 4 11-53 57z"/>
<path fill="#463cde" d="M998 3173l53-42 4 12-53 41z"/>
<path fill="#4432cb" d="M945 3201l53-28 4 11-53 27z"/>
<path fill="#402ab4" d="M892 3229l53-28 4 10-53 26z"/>
<path fill="#19bfb6" d="M1851 2774l53-10 4 4-53 10z"/>
<path fill="#24c1ae" d="M1798 2784l53-10 4 4-53 10zM1745 2794l53-10 4 4-53 10z"/>
<path fill="#2cc4a7" d="M1692 2804l53-10 4 4-53 10zM1639 2814l53-10 4 4-53 10z"/>
<path fill="#31c69f" d="M1586 2824l53-10 4 4-53 10zM1533 2834l53-10 4 4-54 11z"/>
<path fill="#3fca8e" d="M1480 2839l53-5 3 5-53 4z"/>
<path fill="#4acb84" d="M1427 2842l53-3 3 4-53 3z"/>
<path fill="#81cc59" d="M1374 2830l53 12 3 4-53-13z"/>
<path fill="#f8ba3d" d="M1324 2745l53 88-3-3-53-22z"/>
<path fill="#24c1ae" d="M1271 2925l53-180-3 63-53 107z"/>
<path fill="#0bbdbd" d="M1215 2945l53-30 3 10-53 31z"/>
<path fill="#259be8" d="M1161 3022l54-77 3 11-53 76z"/>
<path fill="#3e6fff" d="M1108 3086l53-64 4 10-53 65z"/>
<path fill="#484df0" d="M1055 3143l53-57 4 11-53 56z"/>
<path fill="#4537d5" d="M1002 3184l53-41 4 10-53 40z"/>
<path fill="#4432cb" d="M949 3211l53-27 4 9-53 25z"/>
<path fill="#402ab4" d="M896 3237l53-26 4 7-53 25z"/>
<path fill="#19bfb6" d="M1855 2778l53-10 3 3-53 10z"/>
<path fill="#24c1ae" d="M1802 2788l53-10 3 3-53 10zM1749 2798l53-10 3 3-53 10z"/>
<path fill="#2cc4a7" d="M1696 2808l53-10 3 3-53 11zM1643 2818l53-10 3 4-53 10z"/>
<path fill="#31c69f" d="M1590 2828l53-10 3 4-53 10z"/>
<path fill="#37c897" d="M1536 2839l54-11 3 4-53 10z"/>
<path fill="#3fca8e" d="M1483 2843l53-4 4 3-53 4z"/>
<path fill="#4acb84" d="M1430 2846l53-3 4 3-53 3z"/>
<path fill="#81cc59" d="M1377 2833l53 13 4 3-53-13z"/>
<path fill="#24c1ae" d="M1271 2925l53-180 4 9-53 175z"/>
<path fill="#02bac3" d="M1218 2956l53-31 4 4-53 36z"/>
<path fill="#2797eb" d="M1165 3032l53-76 4 9-53 76z"/>
<path fill="#3e6fff" d="M1112 3097l53-65 4 9-53 64z"/>
<path fill="#484df0" d="M1059 3153l53-56 4 8-53 57z"/>
<path fill="#4537d5" d="M1006 3193l53-40 4 9-53 39z"/>
<path fill="#422ec0" d="M953 3218l53-25 4 8-53 24z"/>
<path fill="#402ab4" d="M900 3243l53-25 4 7-54 23z"/>
<path fill="#19bfb6" d="M1858 2781l53-10 3 3-53 10z"/>
<path fill="#24c1ae" d="M1805 2791l53-10 3 3-53 10zM1752 2801l53-10 3 3-54 10z"/>
<path fill="#2cc4a7" d="M1699 2812l53-11 2 3-53 10z"/>
<path fill="#31c69f" d="M1646 2822l53-10 2 2-53 10zM1593 2832l53-10 2 2-53 10z"/>
<path fill="#37c897" d="M1540 2842l53-10 2 2-53 10z"/>
<path fill="#3fca8e" d="M1487 2846l53-4 2 2-53 5z"/>
<path fill="#57cc7a" d="M1434 2849l53-3 2 3-53 2z"/>
<path fill="#8fcb4e" d="M1381 2836l53 13 2 2-53-14z"/>
<path fill="#febe3c" d="M1328 2754l53 82 2 1-53-32z"/>
<path fill="#24c1ae" d="M1275 2929l53-175 2 51-53 127z"/>
<path fill="#01b8ca" d="M1222 2965l53-36 2 3-53 41z"/>
<path fill="#2b91ef" d="M1169 3041l53-76 2 8-53 76z"/>
<path fill="#4269fe" d="M1116 3105l53-64 2 8-53 64z"/>
<path fill="#4747eb" d="M1063 3162l53-57 2 8-53 56z"/>
<path fill="#4432cb" d="M1010 3201l53-39 2 7-53 39z"/>
<path fill="#422ec0" d="M957 3225l53-24 2 7-53 22z"/>
<path fill="#402ab4" d="M903 3248l54-23 2 5-53 22z"/>
<path fill="#24c1ae" d="M1861 2784l53-10 2 1-53 11zM1808 2794l53-10 2 2-53 10z"/>
<path fill="#2cc4a7" d="M1754 2804l54-10 2 2-53 10zM1701 2814l53-10 3 2-53 10z"/>
<path fill="#31c69f" d="M1648 2824l53-10 3 2-53 10zM1595 2834l53-10 3 2-53 10z"/>
<path fill="#37c897" d="M1542 2844l53-10 3 2-53 10z"/>
<path fill="#3fca8e" d="M1489 2849l53-5 3 2-53 4z"/>
<path fill="#57cc7a" d="M1436 2851l53-2 3 1-53 3z"/>
<path fill="#c5c22a" d="M1330 2805l53 32 3 1-53 8z"/>
<path fill="#24c1ae" d="M1277 2932l53-127 3 41-53 89z"/>
<path fill="#01b8ca" d="M1224 2973l53-41 3 3-53 45z"/>
<path fill="#2b91ef" d="M1171 3049l53-76 3 7-53 75z"/>
<path fill="#4269fe" d="M1118 3113l53-64 3 6-53 64z"/>
<path fill="#4741e5" d="M1065 3169l53-56 3 6-54 56z"/>
<path fill="#4432cb" d="M1012 3208l53-39 2 6-53 38z"/>
<path fill="#422ec0" d="M959 3230l53-22 2 5-53 22z"/>
<path fill="#402ab4" d="M906 3252l53-22 2 5-53 21z"/>
<path fill="#24c1ae" d="M1863 2786l53-11 2 2-53 10zM1810 2796l53-10 2 1-53 10z"/>
<path fill="#2cc4a7" d="M1757 2806l53-10 2 1-53 10zM1704 2816l53-10 2 1-53 10z"/>
<path fill="#31c69f" d="M1651 2826l53-10 2 1-53 10zM1598 2836l53-10 2 1-53 10z"/>
<path fill="#37c897" d="M1545 2846l53-10 2 1-53 11z"/>
<path fill="#3fca8e" d="M1492 2850l53-4 2 2-53 4z"/>
<path fill="#57cc7a" d="M1439 2853l53-3 2 2-54 2z"/>
<path fill="#8fcb4e" d="M1333 2846l53-8 1 1-53 28z"/>
<path fill="#24c1ae" d="M1280 2935l53-89 1 21-53 71z"/>
<path fill="#08b5d0" d="M1227 2980l53-45 1 3-53 49z"/>
<path fill="#2d8cf3" d="M1174 3055l53-75 1 7-53 74z"/>
<path fill="#4563fd" d="M1121 3119l53-64 1 6-53 64z"/>
<path fill="#4741e5" d="M1067 3175l54-56 1 6-53 56z"/>
<path fill="#422ec0" d="M1014 3213l53-38 2 6-53 37z"/>
<path fill="#402ab4" d="M961 3235l53-22 2 5-53 21z"/>
<path fill="#3e26a8" d="M908 3256l53-21 2 4-53 20z"/>
<path fill="#24c1ae" d="M1865 2787l53-10 1 1-53 10zM1812 2797l53-10 1 1-53 10z"/>
<path fill="#2cc4a7" d="M1759 2807l53-10 1 1-53 10zM1706 2817l53-10 1 1-53 11z"/>
<path fill="#31c69f" d="M1653 2827l53-10 1 2-53 10z"/>
<path fill="#37c897" d="M1600 2837l53-10 1 2-53 10zM1547 2848l53-11 1 2-53 10z"/>
<path fill="#3fca8e" d="M1494 2852l53-4 1 1-53 4z"/>
<path fill="#57cc7a" d="M1440 2854l54-2 1 1-53 3z"/>
<path fill="#72cd64" d="M1334 2867l53-28 2 1-53 37z"/>
<path fill="#24c1ae" d="M1281 2938l53-71 2 10-53 63z"/>
<path fill="#08b5d0" d="M1228 2987l53-49 2 2-53 52z"/>
<path fill="#2d8cf3" d="M1175 3061l53-74 2 5-53 74z"/>
<path fill="#4563fd" d="M1122 3125l53-64 2 5-53 63z"/>
<path fill="#4741e5" d="M1069 3181l53-56 2 4-53 56z"/>
<path fill="#422ec0" d="M1016 3218l53-37 2 4-53 37z"/>
<path fill="#402ab4" d="M963 3239l53-21 2 4-53 20z"/>
<path fill="#3e26a8" d="M910 3259l53-20 2 3-53 19z"/>
<path fill="#24c1ae" d="M1866 2788l53-10 2 1-53 11zM1813 2798l53-10 2 2-54 10z"/>
<path fill="#2cc4a7" d="M1760 2808l53-10 1 2-53 10z"/>
<path fill="#31c69f" d="M1707 2819l53-11 1 2-53 10zM1654 2829l53-10 1 1-53 10z"/>
<path fill="#37c897" d="M1601 2839l53-10 1 1-53 10zM1548 2849l53-10 1 1-53 10z"/>
<path fill="#4acb84" d="M1495 2853l53-4 1 1-53 4z"/>
<path fill="#57cc7a" d="M1442 2856l53-3 1 1-53 3z"/>
<path fill="#8fcb4e" d="M1389 2840l53 16 1 1-53-15z"/>
<path fill="#64cd6f" d="M1336 2877l53-37 1 2-53 41z"/>
<path fill="#24c1ae" d="M1283 2940l53-63 1 6-53 59z"/>
<path fill="#12b1d6" d="M1230 2992l53-52 1 2-53 55z"/>
<path fill="#2e87f7" d="M1177 3066l53-74 1 5-53 73z"/>
<path fill="#465efb" d="M1124 3129l53-63 1 4-53 63z"/>
<path fill="#463cde" d="M1071 3185l53-56 1 4-53 56z"/>
<path fill="#422ec0" d="M1018 3222l53-37 1 4-53 37z"/>
<path fill="#402ab4" d="M965 3242l53-20 1 4-53 19z"/>
<path fill="#3e26a8" d="M912 3261l53-19 1 3-53 19z"/>
<path fill="#24c1ae" d="M1868 2790l53-11 1 3-53 10zM1814 2800l54-10 1 2-53 10z"/>
<path fill="#2cc4a7" d="M1761 2810l53-10 2 2-53 10zM1708 2820l53-10 2 2-53 10z"/>
<path fill="#31c69f" d="M1655 2830l53-10 2 2-53 10z"/>
<path fill="#37c897" d="M1602 2840l53-10 2 2-54 11zM1549 2850l53-10 1 3-53 10z"/>
<path fill="#3fca8e" d="M1496 2854l53-4 1 3-53 4z"/>
<path fill="#57cc7a" d="M1443 2857l53-3 1 3-53 2z"/>
<path fill="#8fcb4e" d="M1390 2842l53 15 1 2-53-15z"/>
<path fill="#57cc7a" d="M1337 2883l53-41 1 2-53 43z"/>
<path fill="#24c1ae" d="M1284 2942l53-59 1 4-53 58z"/>
<path fill="#12b1d6" d="M1231 2997l53-55 1 3-53 57z"/>
<path fill="#2e87f7" d="M1178 3070l53-73 1 5-53 72z"/>
<path fill="#465efb" d="M1125 3133l53-63 1 4-53 63z"/>
<path fill="#463cde" d="M1072 3189l53-56 1 4-53 55z"/>
<path fill="#422ec0" d="M1019 3226l53-37 1 3-53 37z"/>
<path fill="#402ab4" d="M966 3245l53-19 1 3-53 18z"/>
<path fill="#3e26a8" d="M913 3264l53-19 1 2-53 18z"/>
<path fill="#24c1ae" d="M1869 2792l53-10 1 3-54 10zM1816 2802l53-10 0 3-53 10z"/>
<path fill="#2cc4a7" d="M1763 2812l53-10 0 3-53 10zM1710 2822l53-10 0 3-53 11z"/>
<path fill="#31c69f" d="M1657 2832l53-10 0 4-53 10zM1603 2843l54-11 0 4-53 10z"/>
<path fill="#37c897" d="M1550 2853l53-10 1 3-53 10z"/>
<path fill="#3fca8e" d="M1497 2857l53-4 1 3-53 5z"/>
<path fill="#57cc7a" d="M1444 2859l53-2 1 4-53 2z"/>
<path fill="#8fcb4e" d="M1391 2844l53 15 1 4-53-15z"/>
<path fill="#57cc7a" d="M1338 2887l53-43 1 4-53 44z"/>
<path fill="#19bfb6" d="M1285 2945l53-58 1 5-53 57z"/>
<path fill="#18addb" d="M1232 3002l53-57 1 4-53 58z"/>
<path fill="#2e87f7" d="M1179 3074l53-72 1 5-53 72z"/>
<path fill="#465efb" d="M1126 3137l53-63 1 5-53 62z"/>
<path fill="#463cde" d="M1073 3192l53-55 1 4-53 54z"/>
<path fill="#402ab4" d="M1020 3229l53-37 1 3-53 36zM967 3247l53-18 1 2-53 18z"/>
<path fill="#3e26a8" d="M914 3265l53-18 1 2-53 18z"/>
<path fill="#19bfb6" d="M1869 2795l54-10 0 5-53 10z"/>
<path fill="#24c1ae" d="M1816 2805l53-10 1 5-53 10zM1763 2815l53-10 1 5-53 11z"/>
<path fill="#2cc4a7" d="M1710 2826l53-11 1 6-53 10zM1657 2836l53-10 1 5-53 10z"/>
<path fill="#31c69f" d="M1604 2846l53-10 1 5-53 11zM1551 2856l53-10 1 6-53 10z"/>
<path fill="#3fca8e" d="M1498 2861l53-5 1 6-53 4z"/>
<path fill="#4acb84" d="M1445 2863l53-2 1 5-53 3z"/>
<path fill="#81cc59" d="M1392 2848l53 15 1 6-53-14z"/>
<path fill="#4acb84" d="M1339 2892l53-44 1 7-53 44z"/>
<path fill="#19bfb6" d="M1286 2949l53-57 1 7-53 56z"/>
<path fill="#1ca9df" d="M1233 3007l53-58 1 6-53 59z"/>
<path fill="#2f81fa" d="M1180 3079l53-72 1 7-53 70z"/>
<path fill="#4758f8" d="M1127 3141l53-62 1 5-53 60z"/>
<path fill="#4537d5" d="M1074 3195l53-54 1 3-53 54z"/>
<path fill="#402ab4" d="M1021 3231l53-36 1 3-53 35zM968 3249l53-18 1 2-53 18z"/>
<path fill="#3e26a8" d="M915 3267l53-18 1 2-53 17z"/>
<path fill="#0bbdbd" d="M1870 2800l53-10 1 7-53 11z"/>
<path fill="#19bfb6" d="M1817 2810l53-10 1 8-53 10zM1764 2821l53-11 1 8-53 10z"/>
<path fill="#24c1ae" d="M1711 2831l53-10 1 7-53 11zM1658 2841l53-10 1 8-53 10z"/>
<path fill="#2cc4a7" d="M1605 2852l53-11 1 8-53 11zM1552 2862l53-10 1 8-53 10z"/>
<path fill="#37c897" d="M1499 2866l53-4 1 8-53 5z"/>
<path fill="#3fca8e" d="M1446 2869l53-3 1 9-53 3z"/>
<path fill="#72cd64" d="M1393 2855l53 14 1 9-53-14z"/>
<path fill="#3fca8e" d="M1340 2899l53-44 1 9-53 45z"/>
<path fill="#0bbdbd" d="M1287 2955l53-56 1 10-53 54z"/>
<path fill="#20a5e3" d="M1234 3014l53-59 1 8-53 58z"/>
<path fill="#327cfc" d="M1181 3084l53-70 1 7-53 68z"/>
<path fill="#4758f8" d="M1128 3144l53-60 1 5-53 59z"/>
<path fill="#4537d5" d="M1075 3198l53-54 1 4-53 53z"/>
<path fill="#402ab4" d="M1022 3233l53-35 1 3-53 34zM969 3251l53-18 1 2-53 17z"/>
<path fill="#3e26a8" d="M916 3268l53-17 1 1-53 17z"/>
<path fill="#02bac3" d="M1871 2808l53-11 0 10-53 10z"/>
<path fill="#0bbdbd" d="M1818 2818l53-10 0 9-53 11zM1765 2828l53-10 0 10-53 10z"/>
<path fill="#19bfb6" d="M1712 2839l53-11 0 10-53 11zM1659 2849l53-10 0 10-53 11z"/>
<path fill="#24c1ae" d="M1606 2860l53-11 0 11-53 10zM1553 2870l53-10 0 10-53 11z"/>
<path fill="#2cc4a7" d="M1500 2875l53-5 0 11-53 5z"/>
<path fill="#37c897" d="M1447 2878l53-3 0 11-53 4z"/>
<path fill="#64cd6f" d="M1394 2864l53 14 0 12-53-13z"/>
<path fill="#37c897" d="M1341 2909l53-45 0 13-53 44z"/>
<path fill="#02bac3" d="M1288 2963l53-54 0 12-53 52z"/>
<path fill="#23a0e5" d="M1235 3021l53-58 0 10-53 57z"/>
<path fill="#327cfc" d="M1182 3089l53-68 0 9-53 66z"/>
<path fill="#4852f4" d="M1129 3148l53-59 0 7-53 57z"/>
<path fill="#4537d5" d="M1076 3201l53-53 0 5-53 50z"/>
<path fill="#402ab4" d="M1023 3235l53-34 0 2-53 34z"/>
<path fill="#3e26a8" d="M970 3252l53-17 0 2-53 16zM917 3269l53-17 0 1-53 17z"/>
<path fill="#01b8ca" d="M1871 2817l53-10 1 11-53 11zM1818 2828l53-11 1 12-53 11z"/>
<path fill="#02bac3" d="M1765 2838l53-10 1 12-53 11zM1712 2849l53-11 1 13-53 10z"/>
<path fill="#0bbdbd" d="M1659 2860l53-11 1 12-53 11zM1606 2870l53-10 1 12-53 11z"/>
<path fill="#19bfb6" d="M1553 2881l53-11 1 13-53 11z"/>
<path fill="#24c1ae" d="M1500 2886l53-5 1 13-53 5z"/>
<path fill="#2cc4a7" d="M1447 2890l53-4 1 13-53 5z"/>
<path fill="#4acb84" d="M1394 2877l53 13 1 14-53-12z"/>
<path fill="#2cc4a7" d="M1341 2921l53-44 1 15-53 43z"/>
<path fill="#08b5d0" d="M1288 2973l53-52 1 14-53 50z"/>
<path fill="#259be8" d="M1235 3030l53-57 1 12-53 56z"/>
<path fill="#3875fe" d="M1182 3096l53-66 1 11-53 62z"/>
<path fill="#4852f4" d="M1129 3153l53-57 1 7-53 54z"/>
<path fill="#4537d5" d="M1076 3203l53-50 1 4-53 49z"/>
<path fill="#402ab4" d="M1023 3237l53-34 1 3-53 32z"/>
<path fill="#3e26a8" d="M970 3253l53-16 1 1-54 16zM917 3270l53-17 0 1-53 17z"/>
<path fill="#12b1d6" d="M1872 2829l53-11 0 14-53 11zM1819 2840l53-11 0 14-53 11z"/>
<path fill="#08b5d0" d="M1766 2851l53-11 0 14-53 11zM1713 2861l53-10 0 14-53 11z"/>
<path fill="#01b8ca" d="M1660 2872l53-11 0 15-53 11zM1607 2883l53-11 0 15-53 11z"/>
<path fill="#02bac3" d="M1554 2894l53-11 0 15-53 11z"/>
<path fill="#0bbdbd" d="M1501 2899l53-5 0 15-53 6z"/>
<path fill="#19bfb6" d="M1448 2904l53-5 0 16-53 5z"/>
<path fill="#37c897" d="M1395 2892l53 12 0 16-53-10z"/>
<path fill="#19bfb6" d="M1342 2935l53-43 0 18-53 41z"/>
<path fill="#18addb" d="M1289 2985l53-50 0 16-53 48z"/>
<path fill="#2797eb" d="M1236 3041l53-56 0 14-53 53z"/>
<path fill="#3e6fff" d="M1183 3103l53-62 0 11-53 59z"/>
<path fill="#484df0" d="M1130 3157l53-54 0 8-53 51z"/>
<path fill="#4432cb" d="M1077 3206l53-49 0 5-53 46z"/>
<path fill="#402ab4" d="M1024 3238l53-32 0 2-53 31z"/>
<path fill="#3e26a8" d="M970 3254l54-16 0 1-53 16z"/>
<path fill="#1ca9df" d="M1872 2843l53-11 1 15-54 11zM1819 2854l53-11 0 15-53 11z"/>
<path fill="#18addb" d="M1766 2865l53-11 0 15-53 11zM1713 2876l53-11 0 15-53 11z"/>
<path fill="#12b1d6" d="M1660 2887l53-11 0 15-53 12zM1607 2898l53-11 0 16-53 11zM1554 2909l53-11 0 16-53 11z"/>
<path fill="#08b5d0" d="M1501 2915l53-6 0 16-53 7z"/>
<path fill="#02bac3" d="M1448 2920l53-5 0 17-53 6z"/>
<path fill="#24c1ae" d="M1395 2910l53 10 0 18-53-8z"/>
<path fill="#01b8ca" d="M1342 2951l53-41 0 20-53 39z"/>
<path fill="#20a5e3" d="M1289 2999l53-48 0 18-53 45z"/>
<path fill="#2d8cf3" d="M1236 3052l53-53 0 15-53 50z"/>
<path fill="#4269fe" d="M1183 3111l53-59 0 12-53 55z"/>
<path fill="#4747eb" d="M1130 3162l53-51 0 8-53 49z"/>
<path fill="#4432cb" d="M1077 3208l53-46 0 6-53 43z"/>
<path fill="#402ab4" d="M1024 3239l53-31 0 3-53 29z"/>
<path fill="#3e26a8" d="M971 3255l53-16 0 1-53 16zM918 3271l53-16 0 1-53 16z"/>
<path fill="#23a0e5" d="M1872 2858l54-11 0 15-53 11zM1819 2869l53-11 1 15-53 12z"/>
<path fill="#20a5e3" d="M1766 2880l53-11 1 16-53 11zM1713 2891l53-11 1 16-53 12zM1660 2903l53-12 1 17-53 11z"/>
<path fill="#1ca9df" d="M1607 2914l53-11 1 16-53 12zM1554 2925l53-11 1 17-53 11z"/>
<path fill="#18addb" d="M1501 2932l53-7 1 17-53 8z"/>
<path fill="#12b1d6" d="M1448 2938l53-6 1 18-53 6z"/>
<path fill="#02bac3" d="M1395 2930l53 8 1 18-53-6z"/>
<path fill="#12b1d6" d="M1342 2969l53-39 1 20-53 37z"/>
<path fill="#259be8" d="M1289 3014l53-45 1 18-53 42z"/>
<path fill="#2f81fa" d="M1236 3064l53-50 1 15-53 47z"/>
<path fill="#4563fd" d="M1183 3119l53-55 1 12-54 51z"/>
<path fill="#4747eb" d="M1130 3168l53-49 0 8-53 46z"/>
<path fill="#4432cb" d="M1077 3211l53-43 0 5-53 40z"/>
<path fill="#3e26a8" d="M1024 3240l53-29 0 2-53 28zM971 3256l53-16 0 1-53 16z"/>
<path fill="#2797eb" d="M1873 2873l53-11 0 15-53 12zM1820 2885l53-12 0 16-53 12zM1767 2896l53-11 0 16-53 12z"/>
<path fill="#259be8" d="M1714 2908l53-12 0 17-53 11zM1661 2919l53-11 0 16-53 12zM1608 2931l53-12 0 17-53 12z"/>
<path fill="#23a0e5" d="M1555 2942l53-11 0 17-53 11zM1502 2950l53-8 0 17-53 9z"/>
<path fill="#20a5e3" d="M1449 2956l53-6 0 18-53 7z"/>
<path fill="#12b1d6" d="M1396 2950l53 6 0 19-53-4z"/>
<path fill="#20a5e3" d="M1343 2987l53-37 0 21-53 35z"/>
<path fill="#2b91ef" d="M1290 3029l53-42 0 19-53 39z"/>
<path fill="#3875fe" d="M1237 3076l53-47 0 16-53 44z"/>
<path fill="#4758f8" d="M1183 3127l54-51 0 13-53 47z"/>
<path fill="#4741e5" d="M1130 3173l53-46 1 9-53 42z"/>
<path fill="#422ec0" d="M1077 3213l53-40 1 5-53 38z"/>
<path fill="#3e26a8" d="M1024 3241l53-28 1 3-53 26z"/>
<path fill="#2e87f7" d="M1873 2889l53-12 0 16-53 12z"/>
<path fill="#2d8cf3" d="M1820 2901l53-12 0 16-53 12zM1767 2913l53-12 0 16-53 11zM1714 2924l53-11 0 15-53 12z"/>
<path fill="#2b91ef" d="M1661 2936l53-12 0 16-53 12zM1608 2948l53-12 0 16-53 12zM1555 2959l53-11 0 16-53 12z"/>
<path fill="#2797eb" d="M1502 2968l53-9 0 17-53 9z"/>
<path fill="#259be8" d="M1449 2975l53-7 0 17-53 8z"/>
<path fill="#20a5e3" d="M1396 2971l53 4 0 18-53-2z"/>
<path fill="#2797eb" d="M1343 3006l53-35 0 20-53 33z"/>
<path fill="#2e87f7" d="M1290 3045l53-39 0 18-53 36z"/>
<path fill="#3e6fff" d="M1237 3089l53-44 0 15-53 40z"/>
<path fill="#4852f4" d="M1184 3136l53-47 0 11-53 44z"/>
<path fill="#463cde" d="M1131 3178l53-42 0 8-53 39z"/>
<path fill="#422ec0" d="M1078 3216l53-38 0 5-53 35z"/>
<path fill="#3e26a8" d="M1025 3242l53-26 0 2-53 24zM919 3272l53-15 0 1-53 15z"/>
<path fill="#327cfc" d="M1873 2905l53-12 0 14-53 12zM1820 2917l53-12 0 14-53 12z"/>
<path fill="#2f81fa" d="M1767 2928l53-11 0 14-53 13zM1714 2940l53-12 0 16-53 12zM1661 2952l53-12 0 16-53 12zM1608 2964l53-12 0 16-53 12z"/>
<path fill="#2e87f7" d="M1555 2976l53-12 0 16-53 12zM1502 2985l53-9 0 16-53 10z"/>
<path fill="#2d8cf3" d="M1449 2993l53-8 0 17-53 8z"/>
<path fill="#2797eb" d="M1396 2991l53 2 0 17-53 0z"/>
<path fill="#2d8cf3" d="M1343 3024l53-33 0 19-53 31z"/>
<path fill="#327cfc" d="M1290 3060l53-36 0 17-53 33z"/>
<path fill="#4563fd" d="M1237 3100l53-40 0 14-53 38z"/>
<path fill="#484df0" d="M1184 3144l53-44 0 12-53 39z"/>
<path fill="#463cde" d="M1131 3183l53-39 0 7-53 36z"/>
<path fill="#422ec0" d="M1078 3218l53-35 0 4-53 33z"/>
<path fill="#3e26a8" d="M1025 3242l53-24 0 2-53 23z"/>
<path fill="#3e6fff" d="M1873 2919l53-12 0 13-53 13zM1820 2931l53-12 0 14-53 12z"/>
<path fill="#3875fe" d="M1767 2944l53-13 0 14-53 13zM1714 2956l53-12 0 14-53 12zM1661 2968l53-12 0 14-53 12zM1608 2980l53-12 0 14-53 13z"/>
<path fill="#327cfc" d="M1555 2992l53-12 0 15-53 12zM1502 3002l53-10 0 15-53 10z"/>
<path fill="#2f81fa" d="M1449 3010l53-8 0 15-53 9z"/>
<path fill="#2d8cf3" d="M1396 3010l53 0 0 16-53 2z"/>
<path fill="#327cfc" d="M1343 3041l53-31 0 18-53 29z"/>
<path fill="#3e6fff" d="M1290 3074l53-33 0 16-53 30z"/>
<path fill="#465efb" d="M1237 3112l53-38 0 13-53 35z"/>
<path fill="#4747eb" d="M1184 3151l53-39 0 10-53 36z"/>
<path fill="#4537d5" d="M1131 3187l53-36 0 7-53 33z"/>
<path fill="#422ec0" d="M1078 3220l53-33 0 4-53 30z"/>
<path fill="#3e26a8" d="M1025 3243l53-23 0 1-53 23z"/>
<path fill="#4563fd" d="M1873 2933l53-13 1 13-54 12z"/>
<path fill="#4269fe" d="M1820 2945l53-12 0 12-53 13zM1767 2958l53-13 0 13-53 12zM1714 2970l53-12 0 12-53 13zM1661 2982l53-12 0 13-53 12zM1608 2995l53-13 0 13-53 13zM1555 3007l53-12 0 13-53 13z"/>
<path fill="#3e6fff" d="M1502 3017l53-10 0 14-53 10z"/>
<path fill="#3875fe" d="M1449 3026l53-9 0 14-53 10z"/>
<path fill="#327cfc" d="M1396 3028l53-2 0 15-53 4z"/>
<path fill="#3e6fff" d="M1343 3057l53-29 0 17-53 26z"/>
<path fill="#4563fd" d="M1290 3087l53-30 0 14-53 29z"/>
<path fill="#4852f4" d="M1237 3122l53-35 0 13-53 31z"/>
<path fill="#4741e5" d="M1184 3158l53-36 0 9-53 34z"/>
<path fill="#4537d5" d="M1131 3191l53-33 0 7-53 30z"/>
<path fill="#402ab4" d="M1078 3221l53-30 0 4-53 28z"/>
<path fill="#3e26a8" d="M1025 3244l53-23 0 2-53 21z"/>
<path fill="#465efb" d="M1873 2945l54-12 0 11-53 12zM1820 2958l53-13 1 11-53 13zM1767 2970l53-12 1 11-53 13zM1714 2983l53-13 1 12-53 13zM1661 2995l53-12 1 12-53 12zM1608 3008l53-13 1 12-54 13z"/>
<path fill="#4563fd" d="M1555 3021l53-13 0 12-53 13zM1502 3031l53-10 0 12-53 11z"/>
<path fill="#4269fe" d="M1449 3041l53-10 0 13-53 10z"/>
<path fill="#3e6fff" d="M1396 3045l53-4 0 13-53 5z"/>
<path fill="#4563fd" d="M1343 3071l53-26 0 14-53 25z"/>
<path fill="#4758f8" d="M1290 3100l53-29 0 13-53 26z"/>
<path fill="#484df0" d="M1237 3131l53-31 0 10-53 30z"/>
<path fill="#463cde" d="M1184 3165l53-34 0 9-53 30z"/>
<path fill="#4432cb" d="M1131 3195l53-30 0 5-53 28z"/>
<path fill="#402ab4" d="M1078 3223l53-28 0 3-53 26z"/>
<path fill="#4852f4" d="M1874 2956l53-12 0 9-53 13zM1821 2969l53-13 0 10-53 13zM1768 2982l53-13 0 10-53 13z"/>
<path fill="#4758f8" d="M1715 2995l53-13 0 10-53 13zM1662 3007l53-12 0 10-53 13zM1608 3020l54-13 0 11-53 13zM1555 3033l53-13 1 11-53 13zM1502 3044l53-11 1 11-53 11z"/>
<path fill="#465efb" d="M1449 3054l53-10 1 11-54 11z"/>
<path fill="#4563fd" d="M1396 3059l53-5 0 12-53 6z"/>
<path fill="#465efb" d="M1343 3084l53-25 0 13-53 23z"/>
<path fill="#4852f4" d="M1290 3110l53-26 0 11-53 25z"/>
<path fill="#4747eb" d="M1237 3140l53-30 0 10-53 27z"/>
<path fill="#4537d5" d="M1184 3170l53-30 0 7-53 28z"/>
<path fill="#4432cb" d="M1131 3198l53-28 0 5-53 26z"/>
<path fill="#402ab4" d="M1078 3224l53-26 0 3-53 25z"/>
<path fill="#3e26a8" d="M1025 3244l53-20 0 2-53 19z"/>
<path fill="#484df0" d="M1874 2966l53-13 0 9-53 13zM1821 2979l53-13 0 9-53 13zM1768 2992l53-13 0 9-53 13zM1715 3005l53-13 0 9-53 13zM1662 3018l53-13 0 9-53 13zM1609 3031l53-13 0 9-53 13z"/>
<path fill="#4852f4" d="M1556 3044l53-13 0 9-53 13zM1503 3055l53-11 0 9-53 12zM1449 3066l54-11 0 10-53 11z"/>
<path fill="#4758f8" d="M1396 3072l53-6 1 10-53 8z"/>
<path fill="#4852f4" d="M1343 3095l53-23 1 12-53 21z"/>
<path fill="#484df0" d="M1290 3120l53-25 1 10-54 24z"/>
<path fill="#4741e5" d="M1237 3147l53-27 0 9-53 25z"/>
<path fill="#4537d5" d="M1184 3175l53-28 0 7-53 26z"/>
<path fill="#422ec0" d="M1131 3201l53-26 0 5-53 24z"/>
<path fill="#402ab4" d="M1078 3226l53-25 0 3-53 23z"/>
<path fill="#4747eb" d="M1874 2975l53-13 0 7-53 13zM1821 2988l53-13 0 7-53 14zM1768 3001l53-13 0 8-53 13zM1715 3014l53-13 0 8-53 13zM1662 3027l53-13 0 8-53 13zM1609 3040l53-13 0 8-53 13zM1556 3053l53-13 0 8-53 13z"/>
<path fill="#484df0" d="M1503 3065l53-12 0 8-53 12zM1450 3076l53-11 0 8-53 12z"/>
<path fill="#4852f4" d="M1397 3084l53-8 0 9-53 9z"/>
<path fill="#484df0" d="M1344 3105l53-21 0 10-53 20z"/>
<path fill="#4741e5" d="M1290 3129l54-24 0 9-53 22z"/>
<path fill="#463cde" d="M1237 3154l53-25 1 7-53 23z"/>
<path fill="#4432cb" d="M1184 3180l53-26 1 5-53 25z"/>
<path fill="#422ec0" d="M1131 3204l53-24 1 4-54 22z"/>
<path fill="#402ab4" d="M1078 3227l53-23 0 2-53 22z"/>
<path fill="#4741e5" d="M1874 2982l53-13 0 7-53 13zM1821 2996l53-14 0 7-53 13zM1768 3009l53-13 0 6-53 14zM1715 3022l53-13 0 7-53 13zM1662 3035l53-13 0 7-53 13zM1609 3048l53-13 0 7-53 13zM1556 3061l53-13 0 7-53 14zM1503 3073l53-12 0 8-53 12z"/>
<path fill="#4747eb" d="M1450 3085l53-12 0 8-53 12zM1397 3094l53-9 0 8-53 9z"/>
<path fill="#4741e5" d="M1344 3114l53-20 0 8-53 20z"/>
<path fill="#463cde" d="M1291 3136l53-22 0 8-53 20z"/>
<path fill="#4537d5" d="M1238 3159l53-23 0 6-53 22z"/>
<path fill="#4432cb" d="M1185 3184l53-25 0 5-53 23z"/>
<path fill="#422ec0" d="M1131 3206l54-22 0 3-53 21z"/>
<path fill="#402ab4" d="M1078 3228l53-22 1 2-53 20z"/>
<path fill="#463cde" d="M1874 2989l53-13 0 5-53 14zM1821 3002l53-13 0 6-53 13zM1768 3016l53-14 0 6-53 13zM1715 3029l53-13 0 5-53 14zM1662 3042l53-13 0 6-53 13zM1609 3055l53-13 0 6-53 13zM1556 3069l53-14 0 6-53 14zM1503 3081l53-12 0 6-53 12z"/>
<path fill="#4741e5" d="M1450 3093l53-12 0 6-53 13zM1397 3102l53-9 0 7-53 9z"/>
<path fill="#463cde" d="M1344 3122l53-20 0 7-53 19zM1291 3142l53-20 0 6-53 20z"/>
<path fill="#4432cb" d="M1238 3164l53-22 0 6-53 20z"/>
<path fill="#422ec0" d="M1185 3187l53-23 0 4-53 22z"/>
<path fill="#402ab4" d="M1132 3208l53-21 0 3-53 20z"/>
<path fill="#3e26a8" d="M1079 3228l53-20 0 2-53 19zM1025 3245l54-17 0 1-53 17z"/>
<path fill="#4537d5" d="M1874 2995l53-14 0 5-53 13zM1821 3008l53-13 0 4-53 14zM1768 3021l53-13 0 5-53 13zM1715 3035l53-14 0 5-53 14zM1662 3048l53-13 0 5-53 13zM1609 3061l53-13 0 5-53 14zM1556 3075l53-14 0 6-53 13z"/>
<path fill="#463cde" d="M1503 3087l53-12 0 5-53 13zM1450 3100l53-13 0 6-53 12zM1397 3109l53-9 0 5-53 11zM1344 3128l53-19 0 7-53 18z"/>
<path fill="#4537d5" d="M1291 3148l53-20 0 6-53 18z"/>
<path fill="#4432cb" d="M1238 3168l53-20 0 4-53 20z"/>
<path fill="#422ec0" d="M1185 3190l53-22 0 4-53 20z"/>
<path fill="#402ab4" d="M1132 3210l53-20 0 2-53 19z"/>
<path fill="#3e26a8" d="M1079 3229l53-19 0 1-53 19z"/>
<path fill="#4432cb" d="M1874 2999l53-13 0 4-53 14zM1821 3013l53-14 0 5-53 13zM1768 3026l53-13 0 4-53 14zM1715 3040l53-14 0 5-53 13z"/>
<path fill="#4537d5" d="M1662 3053l53-13 0 4-53 13zM1609 3067l53-14 0 4-53 14zM1556 3080l53-13 0 4-53 13zM1503 3093l53-13 0 4-53 13zM1450 3105l53-12 0 4-53 13zM1397 3116l53-11 0 5-53 11zM1344 3134l53-18 0 5-53 17z"/>
<path fill="#4432cb" d="M1291 3152l53-18 0 4-53 18z"/>
<path fill="#422ec0" d="M1238 3172l53-20 0 4-53 19zM1185 3192l53-20 0 3-53 19z"/>
<path fill="#402ab4" d="M1132 3211l53-19 0 2-53 18z"/>
<path fill="#4432cb" d="M1874 3004l53-14 0 3-53 14zM1821 3017l53-13 0 3-53 14zM1768 3031l53-14 0 4-53 13zM1715 3044l53-13 0 3-53 14zM1662 3057l53-13 0 4-53 13zM1609 3071l53-14 0 4-53 14zM1556 3084l53-13 0 4-53 13zM1503 3097l53-13 0 4-53 13zM1450 3110l53-13 0 4-53 13z"/>
<path fill="#4537d5" d="M1397 3121l53-11 0 4-53 12z"/>
<path fill="#4432cb" d="M1344 3138l53-17 0 5-53 16zM1291 3156l53-18 0 4-53 18z"/>
<path fill="#422ec0" d="M1238 3175l53-19 0 4-53 18z"/>
<path fill="#402ab4" d="M1185 3194l53-19 0 3-53 18zM1132 3212l53-18 0 2-53 17z"/>
<path fill="#422ec0" d="M1874 3007l53-14 0 3-53 14zM1821 3021l53-14 0 3-53 14zM1768 3034l53-13 0 3-53 13zM1715 3048l53-14 0 3-53 14zM1662 3061l53-13 0 3-53 13zM1609 3075l53-14 0 3-53 14z"/>
<path fill="#4432cb" d="M1556 3088l53-13 0 3-53 13zM1503 3101l53-13 0 3-53 14zM1450 3114l53-13 0 4-53 13zM1397 3126l53-12 0 4-53 12zM1344 3142l53-16 0 4-53 16z"/>
<path fill="#422ec0" d="M1291 3160l53-18 0 4-53 17zM1238 3178l53-18 0 3-53 17z"/>
<path fill="#402ab4" d="M1185 3196l53-18 0 2-53 17zM1132 3213l53-17 0 1-53 17z"/>
<path fill="#3e26a8" d="M1079 3230l53-17 0 1-53 17z"/>
<path fill="#402ab4" d="M1874 3010l53-14 0 15-53 14zM1821 3024l53-14 0 15-53 14zM1768 3037l53-13 0 15-53 14zM1715 3051l53-14 0 16-53 14zM1662 3064l53-13 0 16-53 14zM1609 3078l53-14 0 17-53 13zM1556 3091l53-13 0 16-53 14zM1503 3105l53-14 0 17-53 14zM1450 3118l53-13 0 17-53 14zM1397 3130l53-12 0 18-53 14zM1344 3146l53-16 0 20-53 13zM1291 3163l53-17 0 17-53 14zM1238 3180l53-17 0 14-53 14z"/>
<path fill="#3e26a8" d="M1185 3197l53-17 0 11-53 14zM1132 3214l53-17 0 8-53 14zM1079 3231l53-17 0 5-53 14zM1026 3246l53-15 0 2-53 13z"/>
</g>
<use href="#sp3"/>
<path d="M144.5 286.2L149.8 285.9L155.1 285.5L160.4 284.5L165.7 283.4L171 282.4L176.3 281.4L181.6 280.4L186.9 279.4L192.2 278.3" stroke="#000" stroke-width="0.6" stroke-opacity="0.6" fill="none" stroke-linejoin="round"/>
<path d="M155 285.1L160.3 284.1L165.6 283.1L170.9 282.1L176.2 281.1L181.5 280L186.8 279L192.1 278M165.5 282.9L170.8 281.9L176.1 280.9L181.4 279.9L186.7 278.9L192 277.9" stroke="#000" stroke-width="0.5" stroke-opacity="0.6" fill="none" stroke-linejoin="round"/>
<path d="M175.9 280.8L181.2 279.8L186.5 278.8L191.8 277.7" stroke="#000" stroke-width="0.5" stroke-opacity="0.5" fill="none" stroke-linejoin="round"/>
<path d="M89.3 328.9L195.9 301.1M89.3 328.9L40.3 266.6M40.3 266.6L40.3 218.2M89.3 328.9L90.7 330.6M110.6 323.3L112 325.1M131.9 317.8L133.3 319.5M153.3 312.2L154.6 313.9M174.6 306.7L175.9 308.4M195.9 301.1L197.3 302.8M89.3 328.9L87.2 329.5M81.1 318.5L79 319.1M73 308.1L70.8 308.7M64.8 297.8L62.7 298.3M56.6 287.4L54.5 287.9M48.5 277L46.3 277.5M40.3 257.9L38.5 256.6M40.3 238L38.5 236.7M40.3 218.2L38.5 216.9" stroke="#3a3a3a" stroke-width=".6" fill="none"/>
<g font-size="7.4">
<text x="94.3" y="341.1" text-anchor="middle">0</text>
<text x="115.6" y="335.5" text-anchor="middle">2</text>
<text x="136.9" y="330" text-anchor="middle">4</text>
<text x="158.3" y="324.4" text-anchor="middle">6</text>
<text x="179.6" y="318.9" text-anchor="middle">8</text>
<text x="203.2" y="313.3" text-anchor="middle">10</text>
<text x="81.3" y="338.1" text-anchor="middle">0</text>
<text x="73.1" y="327.7" text-anchor="middle">1</text>
<text x="65" y="317.3" text-anchor="middle">2</text>
<text x="56.8" y="306.9" text-anchor="middle">3</text>
<text x="48.6" y="296.6" text-anchor="middle">4</text>
<text x="40.5" y="286.2" text-anchor="middle">5</text>
<text x="36" y="257.8" text-anchor="end">500</text>
<text x="36" y="237.9" text-anchor="end">1000</text>
<text x="36" y="218.1" text-anchor="end">1500</text>
</g>
<text transform="translate(145 348.1) rotate(-14.6)" text-anchor="middle">Distance from solids inlet [m]</text>
<text transform="translate(45.4 320.9) rotate(51.8)" text-anchor="middle">Time [h]</text>
<text transform="translate(13.5 242.4) rotate(-90)" text-anchor="middle">Temperature solid [K]</text>
<rect x="211.9" y="190" width="9.1" height="138.2" fill="url(#pg)" stroke="#3a3a3a" stroke-width=".5"/>
<text font-size="6.8" x="224.2" y="318.6">400</text>
<text font-size="6.8" x="224.2" y="293.3">600</text>
<text font-size="6.8" x="224.2" y="268">800</text>
<text font-size="6.8" x="224.2" y="242.7">1000</text>
<text font-size="6.8" x="224.2" y="217.5">1200</text>
<path d="M221 315.8h-1.4M221 290.5h-1.4M221 265.2h-1.4M221 239.9h-1.4M221 214.7h-1.4" stroke="#3a3a3a" stroke-width=".5" fill="none"/>
<path d="M336.8 328.9L287.8 266.6M287.8 266.6L287.8 218.2M358.1 323.3L309.1 261M309.1 261L309.1 212.6M379.4 317.8L330.4 255.5M330.4 255.5L330.4 207.1M400.8 312.2L351.8 249.9M351.8 249.9L351.8 201.5M422.1 306.7L373.1 244.4M373.1 244.4L373.1 196M443.4 301.1L394.4 238.8M394.4 238.8L394.4 190.4M336.8 328.9L443.4 301.1M443.4 301.1L443.4 252.7M328.6 318.5L435.2 290.7M435.2 290.7L435.2 242.3M320.5 308.1L427.1 280.3M427.1 280.3L427.1 231.9M312.3 297.8L418.9 270M418.9 270L418.9 221.6M304.1 287.4L410.7 259.6M410.7 259.6L410.7 211.2M296 277L402.6 249.2M402.6 249.2L402.6 200.8M287.8 266.6L394.4 238.8M394.4 238.8L394.4 190.4M287.8 257.9L394.4 230.1M394.4 230.1L443.4 292.4M287.8 238L394.4 210.2M394.4 210.2L443.4 272.5M287.8 218.2L394.4 190.4M394.4 190.4L443.4 252.7M287.8 218.2L394.4 190.4M394.4 190.4L443.4 252.7" stroke="#e2e2e2" stroke-width=".5" fill="none"/>
<g id="sp4" transform="scale(.1)" stroke="#000" stroke-width="2.0" stroke-opacity="0.6" stroke-linejoin="round">
<path fill="#4741e5" d="M3900 2412l53 3 61 77-53-2z"/>
<path fill="#484df0" d="M3847 2410l53 2 61 78-53-2z"/>
<path fill="#465efb" d="M3794 2407l53 3 61 78-53-3z"/>
<path fill="#4269fe" d="M3741 2405l53 2 61 78-53-2z"/>
<path fill="#3875fe" d="M3688 2403l53 2 61 78-53-3z"/>
<path fill="#2e87f7" d="M3635 2400l53 3 61 77-53-2z"/>
<path fill="#2b91ef" d="M3582 2398l53 2 61 78-53-2z"/>
<path fill="#259be8" d="M3529 2395l53 3 61 78-53-3z"/>
<path fill="#1ca9df" d="M3476 2389l53 6 61 78-53-7z"/>
<path fill="#64cd6f" d="M3484 2380l53 86-61-77-53-87z"/>
<path fill="#fccf30" d="M3431 2278l53 102-61-78-53-102z"/>
<path fill="#f9fb15" d="M3317 2168l53 32 61 78-53-32z"/>
<path fill="#f6ef20" d="M3264 2197l53-29 61 78-53 29z"/>
<path fill="#fec338" d="M3211 2254l53-57 61 78-53 57z"/>
<path fill="#d1bf27" d="M3158 2311l53-57 61 78-53 57z"/>
<path fill="#9dc943" d="M3105 2353l53-42 61 78-53 43z"/>
<path fill="#64cd6f" d="M3052 2393l53-40 61 79-53 40z"/>
<path fill="#4acb84" d="M2999 2426l53-33 61 79-53 34z"/>
<path fill="#31c69f" d="M2945 2456l54-30 61 80-53 31z"/>
<path fill="#4741e5" d="M3961 2490l53 2 61 78-53-2z"/>
<path fill="#484df0" d="M3908 2488l53 2 61 78-53-3z"/>
<path fill="#465efb" d="M3855 2485l53 3 61 77-53-2z"/>
<path fill="#4269fe" d="M3802 2483l53 2 61 78-53-2z"/>
<path fill="#3875fe" d="M3749 2480l53 3 61 78-53-3z"/>
<path fill="#2e87f7" d="M3696 2478l53 2 61 78-53-2z"/>
<path fill="#2b91ef" d="M3643 2476l53 2 61 78-53-3z"/>
<path fill="#259be8" d="M3590 2473l53 3 61 77-53-2z"/>
<path fill="#1ca9df" d="M3537 2466l53 7 61 78-53-7z"/>
<path fill="#64cd6f" d="M3545 2458l53 86-61-78-53-86z"/>
<path fill="#fccf30" d="M3492 2355l53 103-61-78-53-102z"/>
<path fill="#f9fb15" d="M3378 2246l53 32 61 77-53-31z"/>
<path fill="#f6ef20" d="M3325 2275l53-29 61 78-53 29z"/>
<path fill="#fec338" d="M3272 2332l53-57 61 78-53 57z"/>
<path fill="#d1bf27" d="M3219 2389l53-57 61 78-53 58z"/>
<path fill="#9dc943" d="M3166 2432l53-43 61 79-53 43z"/>
<path fill="#64cd6f" d="M3113 2472l53-40 61 79-53 41z"/>
<path fill="#3fca8e" d="M3060 2506l53-34 61 80-53 35z"/>
<path fill="#31c69f" d="M3007 2537l53-31 61 81-53 32z"/>
<path fill="#4741e5" d="M4022 2568l53 2 62 78-53-2z"/>
<path fill="#484df0" d="M3969 2565l53 3 62 78-53-3z"/>
<path fill="#465efb" d="M3916 2563l53 2 62 78-53-2z"/>
<path fill="#4269fe" d="M3863 2561l53 2 62 78-53-2z"/>
<path fill="#3875fe" d="M3810 2558l53 3 62 78-53-3z"/>
<path fill="#2e87f7" d="M3757 2556l53 2 62 78-54-2z"/>
<path fill="#2b91ef" d="M3704 2553l53 3 61 78-53-3z"/>
<path fill="#259be8" d="M3651 2551l53 2 61 78-53-2z"/>
<path fill="#1ca9df" d="M3598 2544l53 7 61 78-53-7z"/>
<path fill="#64cd6f" d="M3606 2536l53 86-61-78-53-86z"/>
<path fill="#fccf30" d="M3553 2433l53 103-61-78-53-103z"/>
<path fill="#f9fb15" d="M3439 2324l53 31 61 78-53-31z"/>
<path fill="#f6ef20" d="M3386 2353l53-29 61 78-53 29z"/>
<path fill="#fec338" d="M3333 2410l53-57 61 78-53 58z"/>
<path fill="#d1bf27" d="M3280 2468l53-58 61 79-53 58z"/>
<path fill="#9dc943" d="M3227 2511l53-43 61 79-53 44z"/>
<path fill="#64cd6f" d="M3174 2552l53-41 61 80-53 43z"/>
<path fill="#3fca8e" d="M3121 2587l53-35 61 82-53 35z"/>
<path fill="#2cc4a7" d="M3068 2619l53-32 61 82-53 33z"/>
<path fill="#4741e5" d="M4084 2646l53 2 61 78-53-2z"/>
<path fill="#484df0" d="M4031 2643l53 3 61 78-53-3z"/>
<path fill="#465efb" d="M3978 2641l53 2 61 78-53-2z"/>
<path fill="#4269fe" d="M3925 2639l53 2 61 78-53-3z"/>
<path fill="#3875fe" d="M3872 2636l53 3 61 77-53-2z"/>
<path fill="#2e87f7" d="M3818 2634l54 2 61 78-53-3z"/>
<path fill="#2b91ef" d="M3765 2631l53 3 62 77-53-2z"/>
<path fill="#259be8" d="M3712 2629l53 2 62 78-53-2z"/>
<path fill="#1ca9df" d="M3659 2622l53 7 62 78-53-7z"/>
<path fill="#64cd6f" d="M3668 2613l53 87-62-78-53-86z"/>
<path fill="#fccf30" d="M3615 2511l53 102-62-77-53-103z"/>
<path fill="#f9fb15" d="M3500 2402l53 31 62 78-53-32z"/>
<path fill="#f6ef20" d="M3447 2431l53-29 62 77-53 29z"/>
<path fill="#fec338" d="M3394 2489l53-58 62 77-53 62z"/>
<path fill="#d1bf27" d="M3341 2547l53-58 62 81-53 58z"/>
<path fill="#8fcb4e" d="M3288 2591l53-44 62 81-53 45z"/>
<path fill="#57cc7a" d="M3235 2634l53-43 62 82-53 43z"/>
<path fill="#37c897" d="M3182 2669l53-35 62 82-53 37z"/>
<path fill="#24c1ae" d="M3129 2702l53-33 62 84-54 33z"/>
<path fill="#4741e5" d="M4145 2724l53 2 61 78-53-2z"/>
<path fill="#484df0" d="M4092 2721l53 3 61 78-53-3z"/>
<path fill="#465efb" d="M4039 2719l53 2 61 78-53-3z"/>
<path fill="#4269fe" d="M3986 2716l53 3 61 77-53-2z"/>
<path fill="#3875fe" d="M3933 2714l53 2 61 78-53-3z"/>
<path fill="#2e87f7" d="M3880 2711l53 3 61 77-53-2z"/>
<path fill="#2b91ef" d="M3827 2709l53 2 61 78-53-3z"/>
<path fill="#259be8" d="M3774 2707l53 2 61 77-53-2z"/>
<path fill="#1ca9df" d="M3721 2700l53 7 61 77-53-7z"/>
<path fill="#64cd6f" d="M3729 2691l53 86-61-77-53-87z"/>
<path fill="#fccf30" d="M3676 2589l53 102-61-78-53-102z"/>
<path fill="#f9fb15" d="M3562 2479l53 32 61 78-53-32z"/>
<path fill="#f6ef20" d="M3509 2508l53-29 61 78-53 29z"/>
<path fill="#febe3c" d="M3456 2570l53-62 61 78-53 68z"/>
<path fill="#c5c22a" d="M3403 2628l53-58 61 84-53 58z"/>
<path fill="#81cc59" d="M3350 2673l53-45 61 84-53 47z"/>
<path fill="#4acb84" d="M3297 2716l53-43 61 86-53 43z"/>
<path fill="#31c69f" d="M3244 2753l53-37 61 86-53 36z"/>
<path fill="#19bfb6" d="M3190 2786l54-33 61 85-53 34z"/>
<path fill="#4741e5" d="M4206 2802l53 2 61 79-53-3z"/>
<path fill="#484df0" d="M4153 2799l53 3 61 78-53-3z"/>
<path fill="#465efb" d="M4100 2796l53 3 61 78-53-3z"/>
<path fill="#4269fe" d="M4047 2794l53 2 61 78-53-4z"/>
<path fill="#327cfc" d="M3994 2791l53 3 61 76-53-3z"/>
<path fill="#2e87f7" d="M3941 2789l53 2 61 76-53-3z"/>
<path fill="#2b91ef" d="M3888 2786l53 3 61 75-53-3z"/>
<path fill="#23a0e5" d="M3835 2784l53 2 61 75-53-3z"/>
<path fill="#18addb" d="M3782 2777l53 7 61 74-53-8z"/>
<path fill="#64cd6f" d="M3790 2769l53 81-61-73-53-86z"/>
<path fill="#fccf30" d="M3737 2667l53 102-61-78-53-102z"/>
<path fill="#f9fb15" d="M3623 2557l53 32 61 78-53-32z"/>
<path fill="#f6ef20" d="M3570 2586l53-29 61 78-53 29z"/>
<path fill="#f0ba36" d="M3517 2654l53-68 61 78-53 86z"/>
<path fill="#abc739" d="M3464 2712l53-58 61 96-53 55z"/>
<path fill="#72cd64" d="M3411 2759l53-47 61 93-53 45z"/>
<path fill="#3fca8e" d="M3358 2802l53-43 61 91-53 41z"/>
<path fill="#2cc4a7" d="M3305 2838l53-36 61 89-53 36z"/>
<path fill="#0bbdbd" d="M3252 2872l53-34 61 89-53 34z"/>
<path fill="#4741e5" d="M4267 2880l53 3 13 17-53-3z"/>
<path fill="#484df0" d="M4214 2877l53 3 13 17-53-4z"/>
<path fill="#465efb" d="M4161 2874l53 3 13 16-53-3z"/>
<path fill="#4269fe" d="M4108 2870l53 4 13 16-53-4z"/>
<path fill="#327cfc" d="M4055 2867l53 3 13 16-53-3z"/>
<path fill="#2e87f7" d="M4002 2864l53 3 13 16-53-4z"/>
<path fill="#2797eb" d="M3949 2861l53 3 13 15-53-3z"/>
<path fill="#23a0e5" d="M3896 2858l53 3 13 15-53-4z"/>
<path fill="#18addb" d="M3843 2850l53 8 13 14-53-7z"/>
<path fill="#64cd6f" d="M3803 2786l53 79-13-15-53-81z"/>
<path fill="#fccf30" d="M3750 2683l53 103-13-17-53-102z"/>
<path fill="#f9fb15" d="M3684 2635l53 32 13 16-53-31z"/>
<path fill="#f6ef20" d="M3631 2664l53-29 13 17-53 29z"/>
<path fill="#e6bb2d" d="M3578 2750l53-86 13 17-53 93z"/>
<path fill="#9dc943" d="M3525 2805l53-55 13 24-53 53z"/>
<path fill="#64cd6f" d="M3472 2850l53-45 13 22-53 43z"/>
<path fill="#37c897" d="M3419 2891l53-41 13 20-53 40z"/>
<path fill="#24c1ae" d="M3366 2927l53-36 13 19-53 36z"/>
<path fill="#02bac3" d="M3313 2961l53-34 13 19-53 34z"/>
<path fill="#4741e5" d="M4280 2897l53 3 11 14-53-3z"/>
<path fill="#484df0" d="M4227 2893l53 4 11 14-53-4z"/>
<path fill="#465efb" d="M4174 2890l53 3 11 14-53-4z"/>
<path fill="#4269fe" d="M4121 2886l53 4 11 13-53-4z"/>
<path fill="#327cfc" d="M4068 2883l53 3 11 13-53-4z"/>
<path fill="#2e87f7" d="M4015 2879l53 4 11 12-53-3z"/>
<path fill="#2797eb" d="M3962 2876l53 3 11 13-53-4z"/>
<path fill="#23a0e5" d="M3909 2872l53 4 11 12-53-4z"/>
<path fill="#18addb" d="M3856 2865l53 7 11 12-53-8z"/>
<path fill="#64cd6f" d="M3814 2799l53 77-11-11-53-79z"/>
<path fill="#fccf30" d="M3761 2697l53 102-11-13-53-103z"/>
<path fill="#f9fb15" d="M3697 2652l53 31 11 14-53-32z"/>
<path fill="#f6ef20" d="M3644 2681l53-29 11 13-53 29z"/>
<path fill="#dcbd29" d="M3591 2774l53-93 11 13-53 100z"/>
<path fill="#8fcb4e" d="M3538 2827l53-53 11 20-53 51z"/>
<path fill="#57cc7a" d="M3485 2870l53-43 11 18-53 42z"/>
<path fill="#31c69f" d="M3432 2910l53-40 11 17-53 39z"/>
<path fill="#19bfb6" d="M3379 2946l53-36 11 16-53 36z"/>
<path fill="#01b8ca" d="M3326 2980l53-34 11 16-53 34z"/>
<path fill="#4741e5" d="M4291 2911l53 3 10 13-53-4z"/>
<path fill="#484df0" d="M4238 2907l53 4 10 12-53-4z"/>
<path fill="#465efb" d="M4185 2903l53 4 10 12-53-4z"/>
<path fill="#4269fe" d="M4132 2899l53 4 10 12-53-4z"/>
<path fill="#327cfc" d="M4079 2895l53 4 10 12-53-5z"/>
<path fill="#2d8cf3" d="M4026 2892l53 3 10 11-53-4z"/>
<path fill="#2797eb" d="M3973 2888l53 4 10 10-53-4z"/>
<path fill="#20a5e3" d="M3920 2884l53 4 10 10-53-4z"/>
<path fill="#12b1d6" d="M3867 2876l53 8 10 10-53-8z"/>
<path fill="#64cd6f" d="M3824 2812l53 74-10-10-53-77z"/>
<path fill="#fccf30" d="M3771 2709l53 103-10-13-53-102z"/>
<path fill="#f9fb15" d="M3708 2665l53 32 10 12-53-31z"/>
<path fill="#f5e327" d="M3655 2694l53-29 10 13-53 47z"/>
<path fill="#d1bf27" d="M3602 2794l53-100 10 31-53 89z"/>
<path fill="#8fcb4e" d="M3549 2845l53-51 10 20-54 48z"/>
<path fill="#57cc7a" d="M3496 2887l53-42 9 17-53 41z"/>
<path fill="#31c69f" d="M3443 2926l53-39 9 16-53 38z"/>
<path fill="#19bfb6" d="M3390 2962l53-36 9 15-53 36z"/>
<path fill="#01b8ca" d="M3337 2996l53-34 9 15-53 33z"/>
<path fill="#4741e5" d="M4301 2923l53 4 8 11-53-4z"/>
<path fill="#484df0" d="M4248 2919l53 4 8 11-53-5z"/>
<path fill="#465efb" d="M4195 2915l53 4 8 10-53-4z"/>
<path fill="#3e6fff" d="M4142 2911l53 4 8 10-53-5z"/>
<path fill="#327cfc" d="M4089 2906l53 5 8 9-53-5z"/>
<path fill="#2d8cf3" d="M4036 2902l53 4 8 9-53-4z"/>
<path fill="#2797eb" d="M3983 2898l53 4 8 9-53-5z"/>
<path fill="#20a5e3" d="M3930 2894l53 4 8 8-53-5z"/>
<path fill="#12b1d6" d="M3877 2886l53 8 8 7-53-8z"/>
<path fill="#64cd6f" d="M3832 2822l53 71-8-7-53-74z"/>
<path fill="#fccf30" d="M3779 2720l53 102-8-10-53-103z"/>
<path fill="#f7f51b" d="M3718 2678l53 31 8 11-53-20z"/>
<path fill="#fec934" d="M3665 2725l53-47 8 22-53 71z"/>
<path fill="#c5c22a" d="M3612 2814l53-89 8 46-53 60z"/>
<path fill="#81cc59" d="M3558 2862l54-48 8 17-53 46z"/>
<path fill="#4acb84" d="M3505 2903l53-41 9 15-53 40z"/>
<path fill="#31c69f" d="M3452 2941l53-38 9 14-54 37z"/>
<path fill="#19bfb6" d="M3399 2977l53-36 8 13-53 35z"/>
<path fill="#01b8ca" d="M3346 3010l53-33 8 12-53 33z"/>
<path fill="#4741e5" d="M4309 2934l53 4 7 9-53-5z"/>
<path fill="#484df0" d="M4256 2929l53 5 7 8-54-4z"/>
<path fill="#465efb" d="M4203 2925l53 4 6 9-53-5z"/>
<path fill="#3e6fff" d="M4150 2920l53 5 6 8-53-5z"/>
<path fill="#327cfc" d="M4097 2915l53 5 6 8-53-5z"/>
<path fill="#2d8cf3" d="M4044 2911l53 4 6 8-53-5z"/>
<path fill="#259be8" d="M3991 2906l53 5 6 7-53-6z"/>
<path fill="#20a5e3" d="M3938 2901l53 5 6 6-53-5z"/>
<path fill="#08b5d0" d="M3885 2893l53 8 6 6-53-8z"/>
<path fill="#fccf30" d="M3785 2728l53 104-6-10-53-102z"/>
<path fill="#f7dc2a" d="M3726 2700l53 20 6 8-53 25z"/>
<path fill="#e6bb2d" d="M3673 2771l53-71 6 53-53 62z"/>
<path fill="#b9c431" d="M3620 2831l53-60 6 44-53 31z"/>
<path fill="#72cd64" d="M3567 2877l53-46 6 15-53 44z"/>
<path fill="#4acb84" d="M3514 2917l53-40 6 13-53 38z"/>
<path fill="#2cc4a7" d="M3460 2954l54-37 6 11-53 36z"/>
<path fill="#0bbdbd" d="M3407 2989l53-35 7 10-53 35z"/>
<path fill="#01b8ca" d="M3354 3022l53-33 7 10-53 33z"/>
<path fill="#4741e5" d="M4316 2942l53 5 5 8-53-5z"/>
<path fill="#484df0" d="M4262 2938l54 4 5 8-53-5z"/>
<path fill="#465efb" d="M4209 2933l53 5 6 7-53-6z"/>
<path fill="#3e6fff" d="M4156 2928l53 5 6 6-53-5z"/>
<path fill="#2f81fa" d="M4103 2923l53 5 6 6-53-6z"/>
<path fill="#2d8cf3" d="M4050 2918l53 5 6 5-53-5z"/>
<path fill="#259be8" d="M3997 2912l53 6 6 5-53-5z"/>
<path fill="#1ca9df" d="M3944 2907l53 5 6 6-53-6z"/>
<path fill="#08b5d0" d="M3891 2899l53 8 6 5-53-8z"/>
<path fill="#57cc7a" d="M3838 2832l53 67 6 5-53-56z"/>
<path fill="#f0ba36" d="M3732 2753l53-25 6 7-53 71z"/>
<path fill="#b9c431" d="M3679 2815l53-62 6 53-53 43z"/>
<path fill="#abc739" d="M3626 2846l53-31 6 34-53 10z"/>
<path fill="#72cd64" d="M3573 2890l53-44 6 13-53 42z"/>
<path fill="#3fca8e" d="M3520 2928l53-38 6 11-53 37z"/>
<path fill="#2cc4a7" d="M3467 2964l53-36 6 10-53 35z"/>
<path fill="#0bbdbd" d="M3414 2999l53-35 6 9-53 35z"/>
<path fill="#08b5d0" d="M3361 3032l53-33 6 9-53 33z"/>
<path fill="#4741e5" d="M4321 2950l53 5 5 7-53-6z"/>
<path fill="#484df0" d="M4268 2945l53 5 5 6-53-6z"/>
<path fill="#465efb" d="M4215 2939l53 6 5 5-53-5z"/>
<path fill="#3e6fff" d="M4162 2934l53 5 5 6-53-6z"/>
<path fill="#2f81fa" d="M4109 2928l53 6 5 5-53-6z"/>
<path fill="#2b91ef" d="M4056 2923l53 5 5 5-53-6z"/>
<path fill="#259be8" d="M4003 2918l53 5 5 4-53-5z"/>
<path fill="#1ca9df" d="M3950 2912l53 6 5 4-53-6z"/>
<path fill="#08b5d0" d="M3897 2904l53 8 5 4-53-9z"/>
<path fill="#3fca8e" d="M3844 2848l53 56 5 3-53-43z"/>
<path fill="#fad62d" d="M3796 2732l53 132-5-16-53-113z"/>
<path fill="#b9c431" d="M3738 2806l53-71 5-3-53 114z"/>
<path fill="#8fcb4e" d="M3685 2849l53-43 5 40-53 27z"/>
<path fill="#9dc943" d="M3632 2859l53-10 5 24-54-3z"/>
<path fill="#64cd6f" d="M3579 2901l53-42 4 11-53 41z"/>
<path fill="#3fca8e" d="M3526 2938l53-37 4 10-53 35z"/>
<path fill="#2cc4a7" d="M3473 2973l53-35 4 8-53 34z"/>
<path fill="#0bbdbd" d="M3420 3008l53-35 4 7-53 35z"/>
<path fill="#08b5d0" d="M3367 3041l53-33 4 7-53 33z"/>
<path fill="#4741e5" d="M4326 2956l53 6 4 5-53-6z"/>
<path fill="#484df0" d="M4273 2950l53 6 4 5-53-6z"/>
<path fill="#465efb" d="M4220 2945l53 5 4 5-53-6z"/>
<path fill="#3e6fff" d="M4167 2939l53 6 4 4-53-6z"/>
<path fill="#2f81fa" d="M4114 2933l53 6 4 4-53-6z"/>
<path fill="#2b91ef" d="M4061 2927l53 6 4 4-53-6z"/>
<path fill="#23a0e5" d="M4008 2922l53 5 4 4-54-6z"/>
<path fill="#1ca9df" d="M3955 2916l53 6 3 3-53-6z"/>
<path fill="#01b8ca" d="M3902 2907l53 9 3 3-53-9z"/>
<path fill="#37c897" d="M3849 2864l53 43 3 3-53-34z"/>
<path fill="#f5e327" d="M3799 2721l53 155-3-12-53-132z"/>
<path fill="#81cc59" d="M3743 2846l53-114 3-11-53 149z"/>
<path fill="#72cd64" d="M3690 2873l53-27 3 24-53 16z"/>
<path fill="#8fcb4e" d="M3636 2870l54 3 3 13-53-6z"/>
<path fill="#64cd6f" d="M3583 2911l53-41 4 10-53 39z"/>
<path fill="#3fca8e" d="M3530 2946l53-35 4 8-53 34z"/>
<path fill="#2cc4a7" d="M3477 2980l53-34 4 7-53 34z"/>
<path fill="#0bbdbd" d="M3424 3015l53-35 4 7-53 34z"/>
<path fill="#08b5d0" d="M3371 3048l53-33 4 6-53 33z"/>
<path fill="#4741e5" d="M4330 2961l53 6 3 5-53-6z"/>
<path fill="#484df0" d="M4277 2955l53 6 3 5-53-7z"/>
<path fill="#465efb" d="M4224 2949l53 6 3 4-53-6z"/>
<path fill="#3e6fff" d="M4171 2943l53 6 3 4-53-6z"/>
<path fill="#2f81fa" d="M4118 2937l53 6 3 4-53-7z"/>
<path fill="#2b91ef" d="M4065 2931l53 6 3 3-53-6z"/>
<path fill="#23a0e5" d="M4011 2925l54 6 3 3-53-7z"/>
<path fill="#18addb" d="M3958 2919l53 6 4 2-53-6z"/>
<path fill="#01b8ca" d="M3905 2910l53 9 4 2-53-9z"/>
<path fill="#31c69f" d="M3852 2876l53 34 4 2-53-27z"/>
<path fill="#f5e327" d="M3799 2721l53 155 4 9-53-148z"/>
<path fill="#64cd6f" d="M3746 2870l53-149 4 16-53 142zM3693 2886l53-16 4 9-53 14z"/>
<path fill="#8fcb4e" d="M3640 2880l53 6 4 7-53-4z"/>
<path fill="#57cc7a" d="M3587 2919l53-39 4 9-53 36z"/>
<path fill="#37c897" d="M3534 2953l53-34 4 6-53 34z"/>
<path fill="#2cc4a7" d="M3481 2987l53-34 4 6-53 33z"/>
<path fill="#0bbdbd" d="M3428 3021l53-34 4 5-53 34z"/>
<path fill="#08b5d0" d="M3375 3054l53-33 4 5-54 33z"/>
<path fill="#4741e5" d="M4333 2966l53 6 3 4-53-7z"/>
<path fill="#484df0" d="M4280 2959l53 7 3 3-53-6z"/>
<path fill="#465efb" d="M4227 2953l53 6 3 4-54-7z"/>
<path fill="#3e6fff" d="M4174 2947l53 6 2 3-53-6z"/>
<path fill="#2f81fa" d="M4121 2940l53 7 2 3-53-7z"/>
<path fill="#2b91ef" d="M4068 2934l53 6 2 3-53-7z"/>
<path fill="#23a0e5" d="M4015 2927l53 7 2 2-53-7z"/>
<path fill="#18addb" d="M3962 2921l53 6 2 2-53-7z"/>
<path fill="#31c69f" d="M3856 2885l53 27 2 1-53-22z"/>
<path fill="#fec338" d="M3803 2737l53 148 2 6-53-94z"/>
<path fill="#64cd6f" d="M3750 2879l53-142 2 60-53 86zM3697 2893l53-14 2 4-53 13z"/>
<path fill="#81cc59" d="M3644 2889l53 4 2 3-53 0z"/>
<path fill="#57cc7a" d="M3591 2925l53-36 2 7-53 35z"/>
<path fill="#37c897" d="M3538 2959l53-34 2 6-53 32z"/>
<path fill="#24c1ae" d="M3485 2992l53-33 2 4-53 33z"/>
<path fill="#0bbdbd" d="M3432 3026l53-34 2 4-53 34z"/>
<path fill="#08b5d0" d="M3378 3059l54-33 2 4-53 33z"/>
<path fill="#4741e5" d="M4336 2969l53 7 2 3-53-7z"/>
<path fill="#484df0" d="M4283 2963l53 6 2 3-53-7z"/>
<path fill="#465efb" d="M4229 2956l54 7 2 2-53-6z"/>
<path fill="#3e6fff" d="M4176 2950l53 6 3 3-53-7z"/>
<path fill="#2f81fa" d="M4123 2943l53 7 3 2-53-7z"/>
<path fill="#2b91ef" d="M4070 2936l53 7 3 2-53-7z"/>
<path fill="#23a0e5" d="M4017 2929l53 7 3 2-53-7z"/>
<path fill="#18addb" d="M3964 2922l53 7 3 2-53-7z"/>
<path fill="#02bac3" d="M3911 2913l53 9 3 2-53-10z"/>
<path fill="#b9c431" d="M3805 2797l53 94 3 3-53-44z"/>
<path fill="#64cd6f" d="M3752 2883l53-86 3 53-53 35zM3699 2896l53-13 3 2-53 14z"/>
<path fill="#81cc59" d="M3646 2896l53 0 3 3-53 3z"/>
<path fill="#57cc7a" d="M3593 2931l53-35 3 6-53 34z"/>
<path fill="#37c897" d="M3540 2963l53-32 3 5-54 31z"/>
<path fill="#24c1ae" d="M3487 2996l53-33 2 4-53 33z"/>
<path fill="#02bac3" d="M3434 3030l53-34 2 4-53 33z"/>
<path fill="#08b5d0" d="M3381 3063l53-33 2 3-53 33z"/>
<path fill="#4741e5" d="M4338 2972l53 7 2 3-53-7z"/>
<path fill="#484df0" d="M4285 2965l53 7 2 3-53-7z"/>
<path fill="#465efb" d="M4232 2959l53 6 2 3-53-7z"/>
<path fill="#3e6fff" d="M4179 2952l53 7 2 2-53-7z"/>
<path fill="#2f81fa" d="M4126 2945l53 7 2 2-53-7z"/>
<path fill="#2b91ef" d="M4073 2938l53 7 2 2-53-8z"/>
<path fill="#31c69f" d="M3861 2894l53 20 1 1-53-19z"/>
<path fill="#72cd64" d="M3808 2850l53 44 1 2-53-17z"/>
<path fill="#64cd6f" d="M3755 2885l53-35 1 29-53 9zM3702 2899l53-14 1 3-53 14z"/>
<path fill="#72cd64" d="M3649 2902l53-3 1 3-53 5z"/>
<path fill="#4acb84" d="M3596 2936l53-34 1 5-53 33z"/>
<path fill="#37c897" d="M3542 2967l54-31 1 4-53 31z"/>
<path fill="#24c1ae" d="M3489 3000l53-33 2 4-53 32z"/>
<path fill="#02bac3" d="M3436 3033l53-33 2 3-53 33z"/>
<path fill="#08b5d0" d="M3383 3066l53-33 2 3-53 33z"/>
<path fill="#4741e5" d="M4340 2975l53 7 1 2-53-7z"/>
<path fill="#484df0" d="M4287 2968l53 7 1 2-53-7z"/>
<path fill="#465efb" d="M4234 2961l53 7 1 2-53-7z"/>
<path fill="#3e6fff" d="M4181 2954l53 7 1 2-53-7z"/>
<path fill="#2f81fa" d="M4128 2947l53 7 1 2-53-8z"/>
<path fill="#2797eb" d="M4075 2939l53 8 1 1-53-7z"/>
<path fill="#20a5e3" d="M4022 2932l53 7 1 2-53-8z"/>
<path fill="#57cc7a" d="M3809 2879l53 17 2 2-53-11z"/>
<path fill="#64cd6f" d="M3756 2888l53-9 2 8-53 3zM3703 2902l53-14 2 2-53 14z"/>
<path fill="#72cd64" d="M3650 2907l53-5 2 2-53 8z"/>
<path fill="#4acb84" d="M3597 2940l53-33 2 5-53 32z"/>
<path fill="#37c897" d="M3544 2971l53-31 2 4-53 30z"/>
<path fill="#24c1ae" d="M3491 3003l53-32 2 3-53 32z"/>
<path fill="#02bac3" d="M3438 3036l53-33 2 3-53 33z"/>
<path fill="#08b5d0" d="M3385 3069l53-33 2 3-53 33z"/>
<path fill="#463cde" d="M4341 2977l53 7 2 2-53-7z"/>
<path fill="#484df0" d="M4288 2970l53 7 2 2-54-7z"/>
<path fill="#465efb" d="M4235 2963l53 7 1 2-53-8z"/>
<path fill="#2e87f7" d="M4129 2948l53 8 1 1-53-7z"/>
<path fill="#2797eb" d="M4076 2941l53 7 1 2-53-8z"/>
<path fill="#20a5e3" d="M4023 2933l53 8 1 1-53-7z"/>
<path fill="#12b1d6" d="M3970 2926l53 7 1 2-53-8z"/>
<path fill="#02bac3" d="M3917 2916l53 10 1 1-53-9z"/>
<path fill="#2cc4a7" d="M3864 2898l53 18 1 2-53-17z"/>
<path fill="#4acb84" d="M3811 2887l53 11 1 3-53-11z"/>
<path fill="#64cd6f" d="M3758 2890l53-3 1 3-53 3zM3705 2904l53-14 1 3-53 14zM3652 2912l53-8 1 3-53 9z"/>
<path fill="#4acb84" d="M3599 2944l53-32 1 4-53 32z"/>
<path fill="#31c69f" d="M3546 2974l53-30 1 4-53 29z"/>
<path fill="#24c1ae" d="M3493 3006l53-32 1 3-53 32z"/>
<path fill="#02bac3" d="M3440 3039l53-33 1 3-53 33z"/>
<path fill="#12b1d6" d="M3387 3072l53-33 1 3-53 33z"/>
<path fill="#463cde" d="M4343 2979l53 7 1 2-53-8z"/>
<path fill="#465efb" d="M4236 2964l53 8 2 1-53-7z"/>
<path fill="#3e6fff" d="M4183 2957l53 7 2 2-53-7z"/>
<path fill="#2e87f7" d="M4130 2950l53 7 2 2-53-7z"/>
<path fill="#2797eb" d="M4077 2942l53 8 2 2-54-8z"/>
<path fill="#20a5e3" d="M4024 2935l53 7 1 2-53-7z"/>
<path fill="#12b1d6" d="M3971 2927l53 8 1 2-53-8z"/>
<path fill="#02bac3" d="M3918 2918l53 9 1 2-53-9z"/>
<path fill="#2cc4a7" d="M3865 2901l53 17 1 2-53-16z"/>
<path fill="#4acb84" d="M3812 2890l53 11 1 3-53-11z"/>
<path fill="#57cc7a" d="M3759 2893l53-3 1 3-53 3zM3706 2907l53-14 1 3-53 14z"/>
<path fill="#64cd6f" d="M3653 2916l53-9 1 3-53 11z"/>
<path fill="#3fca8e" d="M3600 2948l53-32 1 5-53 31z"/>
<path fill="#31c69f" d="M3547 2977l53-29 1 4-53 29z"/>
<path fill="#24c1ae" d="M3494 3009l53-32 1 4-53 31z"/>
<path fill="#02bac3" d="M3441 3042l53-33 1 3-53 33z"/>
<path fill="#12b1d6" d="M3388 3075l53-33 1 3-53 33z"/>
<path fill="#463cde" d="M4344 2980l53 8 1 1-54-7z"/>
<path fill="#484df0" d="M4291 2973l53 7 0 2-53-7z"/>
<path fill="#465efb" d="M4238 2966l53 7 0 2-53-7z"/>
<path fill="#3e6fff" d="M4185 2959l53 7 0 2-53-7z"/>
<path fill="#2f81fa" d="M4132 2952l53 7 0 2-53-7z"/>
<path fill="#2b91ef" d="M4078 2944l54 8 0 2-53-7z"/>
<path fill="#23a0e5" d="M4025 2937l53 7 1 3-53-8z"/>
<path fill="#18addb" d="M3972 2929l53 8 1 2-53-7z"/>
<path fill="#02bac3" d="M3919 2920l53 9 1 3-53-9z"/>
<path fill="#2cc4a7" d="M3866 2904l53 16 1 3-53-15z"/>
<path fill="#3fca8e" d="M3813 2893l53 11 1 4-53-10z"/>
<path fill="#57cc7a" d="M3760 2896l53-3 1 5-53 3zM3707 2910l53-14 1 5-53 14zM3654 2921l53-11 1 5-53 13z"/>
<path fill="#3fca8e" d="M3601 2952l53-31 1 7-53 29z"/>
<path fill="#31c69f" d="M3548 2981l53-29 1 5-53 29z"/>
<path fill="#19bfb6" d="M3495 3012l53-31 1 5-53 31z"/>
<path fill="#02bac3" d="M3442 3045l53-33 1 5-53 32z"/>
<path fill="#12b1d6" d="M3389 3078l53-33 1 4-53 33z"/>
<path fill="#463cde" d="M4344 2982l54 7 0 2-53-7z"/>
<path fill="#484df0" d="M4291 2975l53 7 1 2-53-7z"/>
<path fill="#465efb" d="M4238 2968l53 7 1 2-53-6z"/>
<path fill="#3e6fff" d="M4185 2961l53 7 1 3-53-7z"/>
<path fill="#2f81fa" d="M4132 2954l53 7 1 3-53-7z"/>
<path fill="#2b91ef" d="M4079 2947l53 7 1 3-53-7z"/>
<path fill="#23a0e5" d="M4026 2939l53 8 1 3-53-7z"/>
<path fill="#18addb" d="M3973 2932l53 7 1 4-53-6z"/>
<path fill="#01b8ca" d="M3920 2923l53 9 1 5-53-9z"/>
<path fill="#24c1ae" d="M3867 2908l53 15 1 5-53-14z"/>
<path fill="#3fca8e" d="M3814 2898l53 10 1 6-53-9z"/>
<path fill="#4acb84" d="M3761 2901l53-3 1 7-53 3zM3708 2915l53-14 1 7-53 14zM3655 2928l53-13 1 7-53 14z"/>
<path fill="#37c897" d="M3602 2957l53-29 1 8-53 29z"/>
<path fill="#2cc4a7" d="M3549 2986l53-29 1 8-53 28z"/>
<path fill="#19bfb6" d="M3496 3017l53-31 1 7-53 30z"/>
<path fill="#01b8ca" d="M3443 3049l53-32 1 6-53 32z"/>
<path fill="#18addb" d="M3390 3082l53-33 1 6-53 32z"/>
<path fill="#463cde" d="M4345 2984l53 7 1 1-53-6z"/>
<path fill="#484df0" d="M4292 2977l53 7 1 2-53-6z"/>
<path fill="#465efb" d="M4239 2971l53 6 1 3-53-6z"/>
<path fill="#3e6fff" d="M4186 2964l53 7 1 3-53-6z"/>
<path fill="#2f81fa" d="M4133 2957l53 7 1 4-53-6z"/>
<path fill="#2b91ef" d="M4080 2950l53 7 1 5-53-7z"/>
<path fill="#23a0e5" d="M4027 2943l53 7 1 5-53-6z"/>
<path fill="#1ca9df" d="M3974 2937l53 6 1 6-53-6z"/>
<path fill="#01b8ca" d="M3921 2928l53 9 1 6-53-8z"/>
<path fill="#19bfb6" d="M3868 2914l53 14 1 7-53-12z"/>
<path fill="#37c897" d="M3815 2905l53 9 1 9-53-9z"/>
<path fill="#3fca8e" d="M3762 2908l53-3 1 9-53 3zM3709 2922l53-14 1 9-53 14zM3656 2936l53-14 1 9-53 15z"/>
<path fill="#31c69f" d="M3603 2965l53-29 1 10-53 28z"/>
<path fill="#24c1ae" d="M3550 2993l53-28 1 9-53 27z"/>
<path fill="#0bbdbd" d="M3497 3023l53-30 1 8-53 30z"/>
<path fill="#08b5d0" d="M3444 3055l53-32 1 8-53 31z"/>
<path fill="#18addb" d="M3391 3087l53-32 1 7-53 32z"/>
<path fill="#463cde" d="M4346 2986l53 6 0 1-53-5z"/>
<path fill="#484df0" d="M4293 2980l53 6 0 2-53-5z"/>
<path fill="#4758f8" d="M4240 2974l53 6 0 3-53-5z"/>
<path fill="#4269fe" d="M4187 2968l53 6 0 4-53-5z"/>
<path fill="#327cfc" d="M4134 2962l53 6 0 5-53-6z"/>
<path fill="#2d8cf3" d="M4081 2955l53 7 0 5-53-5z"/>
<path fill="#259be8" d="M4028 2949l53 6 0 7-53-6z"/>
<path fill="#1ca9df" d="M3975 2943l53 6 0 7-53-5z"/>
<path fill="#08b5d0" d="M3922 2935l53 8 0 8-53-7z"/>
<path fill="#0bbdbd" d="M3869 2923l53 12 0 9-53-11z"/>
<path fill="#2cc4a7" d="M3816 2914l53 9 0 10-53-8z"/>
<path fill="#37c897" d="M3763 2917l53-3 0 11-53 4zM3710 2931l53-14 0 12-53 14zM3657 2946l53-15 0 12-53 16z"/>
<path fill="#2cc4a7" d="M3604 2974l53-28 0 13-53 27z"/>
<path fill="#19bfb6" d="M3551 3001l53-27 0 12-53 26z"/>
<path fill="#02bac3" d="M3498 3031l53-30 0 11-53 29z"/>
<path fill="#12b1d6" d="M3445 3062l53-31 0 10-53 31z"/>
<path fill="#1ca9df" d="M3392 3094l53-32 0 10-53 30z"/>
<path fill="#463cde" d="M4346 2988l53 5 1 2-53-4z"/>
<path fill="#4747eb" d="M4293 2983l53 5 1 3-53-4z"/>
<path fill="#4758f8" d="M4240 2978l53 5 1 4-53-4z"/>
<path fill="#4269fe" d="M4187 2973l53 5 1 5-53-5z"/>
<path fill="#3875fe" d="M4134 2967l53 6 1 5-53-4z"/>
<path fill="#2e87f7" d="M4081 2962l53 5 1 7-53-4z"/>
<path fill="#2797eb" d="M4028 2956l53 6 1 8-53-5z"/>
<path fill="#23a0e5" d="M3975 2951l53 5 1 9-53-4z"/>
<path fill="#18addb" d="M3922 2944l53 7 1 10-53-6z"/>
<path fill="#02bac3" d="M3869 2933l53 11 1 11-53-9z"/>
<path fill="#24c1ae" d="M3816 2925l53 8 1 13-53-6z"/>
<path fill="#2cc4a7" d="M3763 2929l53-4 1 15-53 4zM3710 2943l53-14 1 15-53 14zM3657 2959l53-16 1 15-53 16z"/>
<path fill="#19bfb6" d="M3604 2986l53-27 1 15-53 26z"/>
<path fill="#02bac3" d="M3551 3012l53-26 1 14-53 26z"/>
<path fill="#08b5d0" d="M3498 3041l53-29 1 14-53 27z"/>
<path fill="#18addb" d="M3445 3072l53-31 1 12-54 30z"/>
<path fill="#23a0e5" d="M3392 3102l53-30 0 11-53 30z"/>
<path fill="#4537d5" d="M4347 2991l53 4 0 1-53-2z"/>
<path fill="#4747eb" d="M4294 2987l53 4 0 3-53-3z"/>
<path fill="#4852f4" d="M4241 2983l53 4 0 4-53-3z"/>
<path fill="#4563fd" d="M4188 2978l53 5 0 5-53-3z"/>
<path fill="#3e6fff" d="M4135 2974l53 4 0 7-53-3z"/>
<path fill="#2f81fa" d="M4082 2970l53 4 0 8-53-3z"/>
<path fill="#2d8cf3" d="M4029 2965l53 5 0 9-53-4z"/>
<path fill="#259be8" d="M3976 2961l53 4 0 10-53-3z"/>
<path fill="#1ca9df" d="M3923 2955l53 6 0 11-53-4z"/>
<path fill="#08b5d0" d="M3870 2946l53 9 0 13-53-7z"/>
<path fill="#0bbdbd" d="M3817 2940l53 6 0 15-53-5z"/>
<path fill="#19bfb6" d="M3764 2944l53-4 0 16-53 5zM3711 2958l53-14 0 17-53 13zM3658 2974l53-16 0 16-53 16z"/>
<path fill="#02bac3" d="M3605 3000l53-26 0 16-53 26z"/>
<path fill="#08b5d0" d="M3552 3026l53-26 0 16-53 24z"/>
<path fill="#18addb" d="M3499 3053l53-27 0 14-53 27z"/>
<path fill="#20a5e3" d="M3445 3083l54-30 0 14-53 29z"/>
<path fill="#259be8" d="M3392 3113l53-30 1 13-53 28z"/>
<path fill="#4537d5" d="M4347 2994l53 2 1 2-54-2z"/>
<path fill="#4741e5" d="M4294 2991l53 3 0 2-53-1z"/>
<path fill="#4852f4" d="M4241 2988l53 3 0 4-53-2z"/>
<path fill="#465efb" d="M4188 2985l53 3 0 5-53-1z"/>
<path fill="#4269fe" d="M4135 2982l53 3 0 7-53-2z"/>
<path fill="#327cfc" d="M4082 2979l53 3 0 8-53-2z"/>
<path fill="#2e87f7" d="M4029 2975l53 4 0 9-53-1z"/>
<path fill="#2b91ef" d="M3976 2972l53 3 0 12-53-2z"/>
<path fill="#23a0e5" d="M3923 2968l53 4 0 13-53-3z"/>
<path fill="#18addb" d="M3870 2961l53 7 0 14-53-5z"/>
<path fill="#08b5d0" d="M3817 2956l53 5 0 16-53-4z"/>
<path fill="#01b8ca" d="M3764 2961l53-5 0 17-53 6zM3711 2974l53-13 0 18-53 13zM3658 2990l53-16 0 18-53 17z"/>
<path fill="#08b5d0" d="M3605 3016l53-26 0 19-53 24z"/>
<path fill="#18addb" d="M3552 3040l53-24 0 17-53 24z"/>
<path fill="#20a5e3" d="M3499 3067l53-27 0 17-53 25z"/>
<path fill="#259be8" d="M3446 3096l53-29 0 15-53 28z"/>
<path fill="#2b91ef" d="M3393 3124l53-28 0 14-53 27z"/>
<path fill="#4537d5" d="M4347 2996l54 2 0 1-53 0z"/>
<path fill="#4741e5" d="M4294 2995l53 1 1 3-53 0z"/>
<path fill="#484df0" d="M4241 2993l53 2 1 4-53 0z"/>
<path fill="#4758f8" d="M4188 2992l53 1 1 6-53 0z"/>
<path fill="#4563fd" d="M4135 2990l53 2 1 7-53 0z"/>
<path fill="#3e6fff" d="M4082 2988l53 2 1 9-53-1z"/>
<path fill="#327cfc" d="M4029 2987l53 1 1 10-53 0z"/>
<path fill="#2e87f7" d="M3976 2985l53 2 1 11-53 0z"/>
<path fill="#2797eb" d="M3923 2982l53 3 1 13-53-2z"/>
<path fill="#23a0e5" d="M3870 2977l53 5 1 14-53-3z"/>
<path fill="#18addb" d="M3817 2973l53 4 1 16-53-2z"/>
<path fill="#12b1d6" d="M3764 2979l53-6 1 18-53 6zM3711 2992l53-13 1 18-53 14z"/>
<path fill="#18addb" d="M3658 3009l53-17 1 19-54 16z"/>
<path fill="#1ca9df" d="M3605 3033l53-24 0 18-53 24z"/>
<path fill="#20a5e3" d="M3552 3057l53-24 0 18-53 22z"/>
<path fill="#259be8" d="M3499 3082l53-25 0 16-53 25z"/>
<path fill="#2b91ef" d="M3446 3110l53-28 0 16-53 26z"/>
<path fill="#2e87f7" d="M3393 3137l53-27 0 14-53 26z"/>
<path fill="#4432cb" d="M4348 2999l53 0 0 2-53 1z"/>
<path fill="#463cde" d="M4295 2999l53 0 0 3-53 1z"/>
<path fill="#4747eb" d="M4242 2999l53 0 0 4-53 2z"/>
<path fill="#4852f4" d="M4189 2999l53 0 0 6-53 1z"/>
<path fill="#465efb" d="M4136 2999l53 0 0 7-53 1z"/>
<path fill="#4269fe" d="M4083 2998l53 1 0 8-53 1z"/>
<path fill="#3875fe" d="M4030 2998l53 0 0 10-53 2z"/>
<path fill="#2f81fa" d="M3977 2998l53 0 0 12-53 1z"/>
<path fill="#2d8cf3" d="M3924 2996l53 2 0 13-53 0z"/>
<path fill="#2797eb" d="M3871 2993l53 3 0 15-53-2z"/>
<path fill="#23a0e5" d="M3818 2991l53 2 0 16-53 0z"/>
<path fill="#20a5e3" d="M3765 2997l53-6 0 18-53 7zM3712 3011l53-14 0 19-53 14zM3658 3027l54-16 0 19-53 16z"/>
<path fill="#23a0e5" d="M3605 3051l53-24 1 19-53 22z"/>
<path fill="#2797eb" d="M3552 3073l53-22 1 17-53 22z"/>
<path fill="#2b91ef" d="M3499 3098l53-25 1 17-53 23z"/>
<path fill="#2e87f7" d="M3446 3124l53-26 1 15-53 25z"/>
<path fill="#2f81fa" d="M3393 3150l53-26 1 14-53 25z"/>
<path fill="#4432cb" d="M4348 3002l53-1 0 1-53 3z"/>
<path fill="#463cde" d="M4295 3003l53-1 0 3-53 3z"/>
<path fill="#4741e5" d="M4242 3005l53-2 0 5-53 2z"/>
<path fill="#484df0" d="M4189 3006l53-1 0 5-53 3z"/>
<path fill="#4758f8" d="M4136 3007l53-1 0 7-53 3z"/>
<path fill="#465efb" d="M4083 3008l53-1 0 9-53 2z"/>
<path fill="#4269fe" d="M4030 3010l53-2 0 10-53 3z"/>
<path fill="#3875fe" d="M3977 3011l53-1 0 11-53 2z"/>
<path fill="#2f81fa" d="M3924 3011l53 0 0 12-53 2z"/>
<path fill="#2d8cf3" d="M3871 3009l53 2 0 14-53 0z"/>
<path fill="#2797eb" d="M3818 3009l53 0 0 16-53 2z"/>
<path fill="#259be8" d="M3765 3016l53-7 0 18-53 8zM3712 3030l53-14 0 19-53 13z"/>
<path fill="#2797eb" d="M3659 3046l53-16 0 18-53 16z"/>
<path fill="#2b91ef" d="M3606 3068l53-22 0 18-53 21z"/>
<path fill="#2d8cf3" d="M3553 3090l53-22 0 17-53 21z"/>
<path fill="#2e87f7" d="M3500 3113l53-23 0 16-53 23z"/>
<path fill="#327cfc" d="M3447 3138l53-25 0 16-53 23z"/>
<path fill="#3875fe" d="M3394 3163l53-25 0 14-53 24z"/>
<path fill="#4432cb" d="M4348 3005l53-3 0 1-53 4z"/>
<path fill="#4537d5" d="M4295 3008l53-3 0 2-53 4z"/>
<path fill="#4741e5" d="M4242 3010l53-2 0 3-53 5z"/>
<path fill="#4747eb" d="M4189 3013l53-3 0 6-53 4z"/>
<path fill="#4852f4" d="M4136 3016l53-3 0 7-53 3z"/>
<path fill="#4758f8" d="M4083 3018l53-2 0 7-53 4z"/>
<path fill="#4563fd" d="M4030 3021l53-3 0 9-53 4z"/>
<path fill="#4269fe" d="M3977 3023l53-2 0 10-53 4z"/>
<path fill="#3875fe" d="M3924 3025l53-2 0 12-53 3z"/>
<path fill="#2f81fa" d="M3871 3025l53 0 0 13-53 2z"/>
<path fill="#2e87f7" d="M3818 3027l53-2 0 15-53 3z"/>
<path fill="#2d8cf3" d="M3765 3035l53-8 0 16-53 9zM3712 3048l53-13 0 17-53 14zM3659 3064l53-16 0 18-53 15z"/>
<path fill="#2e87f7" d="M3606 3085l53-21 0 17-53 21z"/>
<path fill="#2f81fa" d="M3553 3106l53-21 0 17-53 20z"/>
<path fill="#327cfc" d="M3500 3129l53-23 0 16-53 21z"/>
<path fill="#3e6fff" d="M3447 3152l53-23 0 14-53 22z"/>
<path fill="#4269fe" d="M3394 3176l53-24 0 13-53 23z"/>
<path fill="#422ec0" d="M4348 3007l53-4 0 1-53 6z"/>
<path fill="#4537d5" d="M4295 3011l53-4 0 3-53 5z"/>
<path fill="#463cde" d="M4242 3016l53-5 0 4-53 5z"/>
<path fill="#4741e5" d="M4189 3020l53-4 0 4-53 6z"/>
<path fill="#484df0" d="M4136 3023l53-3 0 6-53 5z"/>
<path fill="#4852f4" d="M4083 3027l53-4 0 8-53 5z"/>
<path fill="#4758f8" d="M4030 3031l53-4 0 9-53 5z"/>
<path fill="#465efb" d="M3977 3035l53-4 0 10-53 5z"/>
<path fill="#4269fe" d="M3924 3038l53-3 0 11-53 5z"/>
<path fill="#3875fe" d="M3871 3040l53-2 0 13-53 3z"/>
<path fill="#327cfc" d="M3818 3043l53-3 0 14-53 5z"/>
<path fill="#2f81fa" d="M3765 3052l53-9 0 16-53 9zM3712 3066l53-14 0 16-53 14z"/>
<path fill="#327cfc" d="M3659 3081l53-15 0 16-53 15zM3606 3102l53-21 0 16-53 20z"/>
<path fill="#3875fe" d="M3553 3122l53-20 0 15-53 19z"/>
<path fill="#3e6fff" d="M3500 3143l53-21 0 14-53 20z"/>
<path fill="#4269fe" d="M3447 3165l53-22 0 13-53 22z"/>
<path fill="#465efb" d="M3394 3188l53-23 0 13-53 21z"/>
<path fill="#422ec0" d="M4348 3010l53-6 1 1-54 7z"/>
<path fill="#4432cb" d="M4295 3015l53-5 0 2-53 6z"/>
<path fill="#4537d5" d="M4242 3020l53-5 0 3-53 7z"/>
<path fill="#463cde" d="M4189 3026l53-6 0 5-53 6z"/>
<path fill="#4747eb" d="M4136 3031l53-5 0 5-53 7z"/>
<path fill="#484df0" d="M4083 3036l53-5 0 7-53 6z"/>
<path fill="#4852f4" d="M4030 3041l53-5 0 8-53 6z"/>
<path fill="#4758f8" d="M3977 3046l53-5 0 9-53 7z"/>
<path fill="#465efb" d="M3924 3051l53-5 0 11-53 5z"/>
<path fill="#4269fe" d="M3871 3054l53-3 0 11-53 5z"/>
<path fill="#3e6fff" d="M3818 3059l53-5 0 13-53 6zM3765 3068l53-9 0 14-53 10zM3712 3082l53-14 0 15-53 14zM3659 3097l53-15 0 15-53 15zM3606 3117l53-20 0 15-53 19z"/>
<path fill="#4269fe" d="M3553 3136l53-19 0 14-53 18z"/>
<path fill="#4563fd" d="M3500 3156l53-20 0 13-53 19z"/>
<path fill="#465efb" d="M3447 3178l53-22 0 12-53 21z"/>
<path fill="#4758f8" d="M3394 3199l53-21 0 11-53 20z"/>
<path fill="#422ec0" d="M4348 3012l54-7 0 1-53 8z"/>
<path fill="#4432cb" d="M4295 3018l53-6 1 2-53 7z"/>
<path fill="#4537d5" d="M4242 3025l53-7 1 3-53 8z"/>
<path fill="#463cde" d="M4189 3031l53-6 1 4-53 7z"/>
<path fill="#4741e5" d="M4136 3038l53-7 1 5-53 8z"/>
<path fill="#4747eb" d="M4083 3044l53-6 1 6-54 7z"/>
<path fill="#484df0" d="M4030 3050l53-6 0 7-53 7z"/>
<path fill="#4852f4" d="M3977 3057l53-7 0 8-53 8z"/>
<path fill="#4758f8" d="M3924 3062l53-5 0 9-53 7z"/>
<path fill="#465efb" d="M3871 3067l53-5 0 11-53 6z"/>
<path fill="#4563fd" d="M3818 3073l53-6 0 12-53 6z"/>
<path fill="#4269fe" d="M3765 3083l53-10 0 12-53 11zM3712 3097l53-14 0 13-53 14z"/>
<path fill="#4563fd" d="M3659 3112l53-15 0 13-53 15zM3606 3131l53-19 0 13-53 18z"/>
<path fill="#465efb" d="M3553 3149l53-18 0 12-53 18z"/>
<path fill="#4758f8" d="M3500 3168l53-19 0 12-53 18z"/>
<path fill="#4852f4" d="M3447 3189l53-21 0 11-53 20zM3394 3209l53-20 0 10-53 19z"/>
<path fill="#402ab4" d="M4349 3014l53-8 0 1-53 8z"/>
<path fill="#422ec0" d="M4296 3021l53-7 0 1-53 9z"/>
<path fill="#4432cb" d="M4243 3029l53-8 0 3-53 8z"/>
<path fill="#4537d5" d="M4190 3036l53-7 0 3-53 9z"/>
<path fill="#463cde" d="M4137 3044l53-8 0 5-53 8z"/>
<path fill="#4741e5" d="M4083 3051l54-7 0 5-53 8z"/>
<path fill="#4747eb" d="M4030 3058l53-7 1 6-53 8zM3977 3066l53-8 1 7-53 9z"/>
<path fill="#484df0" d="M3924 3073l53-7 1 8-54 8z"/>
<path fill="#4852f4" d="M3871 3079l53-6 0 9-53 7z"/>
<path fill="#4758f8" d="M3818 3085l53-6 0 10-53 8z"/>
<path fill="#465efb" d="M3765 3096l53-11 0 12-53 11zM3712 3110l53-14 0 12-53 13zM3659 3125l53-15 0 11-53 15z"/>
<path fill="#4758f8" d="M3606 3143l53-18 0 11-53 18z"/>
<path fill="#4852f4" d="M3553 3161l53-18 0 11-53 17zM3500 3179l53-18 0 10-53 18z"/>
<path fill="#484df0" d="M3447 3199l53-20 0 10-53 19z"/>
<path fill="#4747eb" d="M3394 3218l53-19 0 9-53 18z"/>
<path fill="#402ab4" d="M4349 3015l53-8 0 1-53 9z"/>
<path fill="#422ec0" d="M4296 3024l53-9 0 2-53 9z"/>
<path fill="#4432cb" d="M4243 3032l53-8 0 2-53 9zM4190 3041l53-9 0 3-53 9z"/>
<path fill="#4537d5" d="M4137 3049l53-8 0 3-53 10z"/>
<path fill="#463cde" d="M4084 3057l53-8 0 5-53 9z"/>
<path fill="#4741e5" d="M4031 3065l53-8 0 6-53 9zM3978 3074l53-9 0 7-53 9z"/>
<path fill="#4747eb" d="M3924 3082l54-8 0 7-53 9z"/>
<path fill="#484df0" d="M3871 3089l53-7 1 8-53 8z"/>
<path fill="#4852f4" d="M3818 3097l53-8 1 9-53 9zM3765 3108l53-11 1 10-54 11zM3712 3121l53-13 0 10-53 14zM3659 3136l53-15 0 11-53 15zM3606 3154l53-18 0 11-53 16z"/>
<path fill="#484df0" d="M3553 3171l53-17 0 9-53 17zM3500 3189l53-18 0 9-53 17z"/>
<path fill="#4747eb" d="M3447 3208l53-19 0 8-53 18z"/>
<path fill="#4741e5" d="M3394 3226l53-18 0 7-53 18z"/>
<path fill="#422ec0" d="M4296 3026l53-9 0 1-53 10zM4243 3035l53-9 0 2-53 10z"/>
<path fill="#4432cb" d="M4190 3044l53-9 0 3-53 10z"/>
<path fill="#4537d5" d="M4137 3054l53-10 0 4-53 10zM4084 3063l53-9 0 4-53 9z"/>
<path fill="#463cde" d="M4031 3072l53-9 0 4-53 10zM3978 3081l53-9 0 5-53 10z"/>
<path fill="#4741e5" d="M3925 3090l53-9 0 6-53 10z"/>
<path fill="#4747eb" d="M3872 3098l53-8 0 7-53 9zM3819 3107l53-9 0 8-53 9z"/>
<path fill="#484df0" d="M3765 3118l54-11 0 8-53 12zM3712 3132l53-14 1 9-53 14zM3659 3147l53-15 1 9-53 14z"/>
<path fill="#4747eb" d="M3606 3163l53-16 1 8-54 17zM3553 3180l53-17 0 9-53 16z"/>
<path fill="#4741e5" d="M3500 3197l53-17 0 8-53 17zM3447 3215l53-18 0 8-53 17z"/>
<path fill="#463cde" d="M3394 3233l53-18 0 7-53 17z"/>
<path fill="#402ab4" d="M4349 3018l53-10 0 1-53 10zM4296 3028l53-10 0 1-53 11z"/>
<path fill="#422ec0" d="M4243 3038l53-10 0 2-53 10zM4190 3048l53-10 0 2-53 11z"/>
<path fill="#4432cb" d="M4137 3058l53-10 0 3-53 10z"/>
<path fill="#4537d5" d="M4084 3067l53-9 0 3-53 11zM4031 3077l53-10 0 5-53 10z"/>
<path fill="#463cde" d="M3978 3087l53-10 0 5-53 10zM3925 3097l53-10 0 5-53 11z"/>
<path fill="#4741e5" d="M3872 3106l53-9 0 6-53 9zM3819 3115l53-9 0 6-53 11z"/>
<path fill="#4747eb" d="M3766 3127l53-12 0 8-53 12zM3713 3141l53-14 0 8-53 13zM3660 3155l53-14 0 7-53 15z"/>
<path fill="#4741e5" d="M3606 3172l54-17 0 8-53 16zM3553 3188l53-16 1 7-53 16z"/>
<path fill="#463cde" d="M3500 3205l53-17 1 7-54 16zM3447 3222l53-17 0 6-53 17zM3394 3239l53-17 0 6-53 17z"/>
<path fill="#402ab4" d="M4296 3030l53-11 0 1-53 11z"/>
<path fill="#422ec0" d="M4243 3040l53-10 0 1-53 11zM4190 3051l53-11 0 2-53 11z"/>
<path fill="#4432cb" d="M4137 3061l53-10 0 2-53 11zM4084 3072l53-11 0 3-53 11zM4031 3082l53-10 0 3-53 11z"/>
<path fill="#4537d5" d="M3978 3092l53-10 0 4-53 11zM3925 3103l53-11 0 5-53 11z"/>
<path fill="#463cde" d="M3872 3112l53-9 0 5-53 10zM3819 3123l53-11 0 6-53 11z"/>
<path fill="#4741e5" d="M3766 3135l53-12 0 6-53 12zM3713 3148l53-13 0 6-53 14zM3660 3163l53-15 0 7-53 15z"/>
<path fill="#463cde" d="M3607 3179l53-16 0 7-53 15zM3554 3195l53-16 0 6-53 16zM3500 3211l54-16 0 6-53 16z"/>
<path fill="#4537d5" d="M3447 3228l53-17 1 6-53 16zM3394 3245l53-17 1 5-54 16z"/>
<path fill="#402ab4" d="M4296 3031l53-11 0 1-53 11zM4243 3042l53-11 0 1-53 12z"/>
<path fill="#422ec0" d="M4190 3053l53-11 0 2-53 11zM4137 3064l53-11 0 2-53 12z"/>
<path fill="#4432cb" d="M4084 3075l53-11 0 3-53 11zM4031 3086l53-11 0 3-53 12zM3978 3097l53-11 0 4-53 11z"/>
<path fill="#4537d5" d="M3925 3108l53-11 0 4-53 11zM3872 3118l53-10 0 4-53 11z"/>
<path fill="#463cde" d="M3819 3129l53-11 0 5-53 11zM3766 3141l53-12 0 5-53 13zM3713 3155l53-14 0 6-53 14zM3660 3170l53-15 0 6-53 14z"/>
<path fill="#4537d5" d="M3607 3185l53-15 0 5-53 15zM3554 3201l53-16 0 5-53 16zM3501 3217l53-16 0 5-53 15zM3448 3233l53-16 0 4-53 16z"/>
<path fill="#4432cb" d="M3394 3249l54-16 0 4-53 16z"/>
<path fill="#402ab4" d="M4349 3021l53-12 0 1-53 12zM4296 3032l53-11 0 1-53 11zM4243 3044l53-12 0 1-53 12zM4190 3055l53-11 0 1-53 12z"/>
<path fill="#422ec0" d="M4137 3067l53-12 0 2-53 12zM4084 3078l53-11 0 2-53 12zM4031 3090l53-12 0 3-53 12z"/>
<path fill="#4432cb" d="M3978 3101l53-11 0 3-53 11zM3925 3112l53-11 0 3-53 12zM3872 3123l53-11 0 4-53 11z"/>
<path fill="#4537d5" d="M3819 3134l53-11 0 4-53 12zM3766 3147l53-13 0 5-53 13zM3713 3161l53-14 0 5-53 14zM3660 3175l53-14 0 5-53 14zM3607 3190l53-15 0 5-53 15zM3554 3206l53-16 0 5-53 15z"/>
<path fill="#4432cb" d="M3501 3221l53-15 0 4-53 15zM3448 3237l53-16 0 4-53 16zM3395 3253l53-16 0 4-53 16z"/>
<path fill="#402ab4" d="M4243 3045l53-12 0 1-53 13zM4190 3057l53-12 0 2-53 12z"/>
<path fill="#422ec0" d="M4137 3069l53-12 0 2-53 12zM4084 3081l53-12 0 2-53 12zM4031 3093l53-12 0 2-53 12zM3978 3104l53-11 0 2-53 12z"/>
<path fill="#4432cb" d="M3925 3116l53-12 0 3-53 12zM3872 3127l53-11 0 3-53 12zM3819 3139l53-12 0 4-53 12zM3766 3152l53-13 0 4-53 13zM3713 3166l53-14 0 4-53 14zM3660 3180l53-14 0 4-53 14zM3607 3195l53-15 0 4-53 15zM3554 3210l53-15 0 4-53 15zM3501 3225l53-15 0 4-53 15zM3448 3241l53-16 0 4-53 15z"/>
<path fill="#422ec0" d="M3395 3257l53-16 0 3-53 15z"/>
<path fill="#402ab4" d="M4296 3034l53-12 0 1-53 12zM4243 3047l53-13 0 1-53 13zM4190 3059l53-12 0 1-53 12zM4137 3071l53-12 0 1-53 12zM4084 3083l53-12 0 1-53 13z"/>
<path fill="#422ec0" d="M4031 3095l53-12 0 2-53 12zM3978 3107l53-12 0 2-53 13zM3925 3119l53-12 0 3-53 12zM3872 3131l53-12 0 3-53 12z"/>
<path fill="#4432cb" d="M3819 3143l53-12 0 3-53 12zM3766 3156l53-13 0 3-53 13zM3713 3170l53-14 0 3-53 14zM3660 3184l53-14 0 3-53 14zM3607 3199l53-15 0 3-53 15z"/>
<path fill="#422ec0" d="M3554 3214l53-15 0 3-53 15zM3501 3229l53-15 0 3-53 15zM3448 3244l53-15 0 3-53 15zM3395 3259l53-15 0 3-53 15z"/>
<path fill="#3e26a8" d="M4349 3023l53-13 0 1-53 14zM4296 3035l53-12 0 2-53 14zM4243 3048l53-13 0 4-53 14zM4190 3060l53-12 0 5-53 14z"/>
<path fill="#402ab4" d="M4137 3072l53-12 0 7-53 14zM4084 3085l53-13 0 9-53 13zM4031 3097l53-12 0 9-53 14zM3978 3110l53-13 0 11-53 14zM3925 3122l53-12 0 12-53 14zM3872 3134l53-12 0 14-53 14zM3819 3146l53-12 0 16-53 14zM3766 3159l53-13 0 18-53 13zM3713 3173l53-14 0 18-53 14zM3660 3187l53-14 0 18-53 14zM3607 3202l53-15 0 18-53 14zM3554 3217l53-15 0 17-53 14zM3501 3232l53-15 0 16-53 13zM3448 3247l53-15 0 14-53 14zM3395 3262l53-15 0 13-53 14z"/>
</g>
<use href="#sp4"/>
<path d="M392.1 292.6L397.4 293.5L402.7 294.2L408 294.9L413.3 295.6L418.6 296.3L423.9 297L429.2 297.7L434.5 298.3L439.8 299" stroke="#000" stroke-width="0.5" stroke-opacity="0.55" fill="none" stroke-linejoin="round"/>
<path d="M397.3 293L402.6 293.7L407.9 294.4L413.2 295.2L418.5 295.9L423.8 296.6L429.1 297.4L434.4 298.1L439.7 298.8M407.7 294.2L413 295L418.3 295.7L423.6 296.4L428.9 297.2L434.2 297.9L439.5 298.6" stroke="#000" stroke-width="0.5" stroke-opacity="0.6" fill="none" stroke-linejoin="round"/>
<path d="M418.2 295.5L423.5 296.2L428.8 296.9L434.1 297.6L439.4 298.3" stroke="#000" stroke-width="0.5" stroke-opacity="0.5" fill="none" stroke-linejoin="round"/>
<path d="M336.8 328.9L443.4 301.1M336.8 328.9L287.8 266.6M287.8 266.6L287.8 218.2M336.8 328.9L338.2 330.6M358.1 323.3L359.5 325.1M379.4 317.8L380.8 319.5M400.8 312.2L402.1 313.9M422.1 306.7L423.4 308.4M443.4 301.1L444.8 302.8M336.8 328.9L334.7 329.5M328.6 318.5L326.5 319.1M320.5 308.1L318.3 308.7M312.3 297.8L310.2 298.3M304.1 287.4L302 287.9M296 277L293.8 277.5M287.8 257.9L286 256.6M287.8 238L286 236.7M287.8 218.2L286 216.9" stroke="#3a3a3a" stroke-width=".6" fill="none"/>
<g font-size="7.4">
<text x="341.8" y="341.1" text-anchor="middle">0</text>
<text x="363.1" y="335.5" text-anchor="middle">2</text>
<text x="384.4" y="330" text-anchor="middle">4</text>
<text x="405.8" y="324.4" text-anchor="middle">6</text>
<text x="427.1" y="318.9" text-anchor="middle">8</text>
<text x="450.7" y="313.3" text-anchor="middle">10</text>
<text x="328.8" y="338.1" text-anchor="middle">0</text>
<text x="320.6" y="327.7" text-anchor="middle">1</text>
<text x="312.5" y="317.3" text-anchor="middle">2</text>
<text x="304.3" y="306.9" text-anchor="middle">3</text>
<text x="296.1" y="296.6" text-anchor="middle">4</text>
<text x="288" y="286.2" text-anchor="middle">5</text>
<text x="283.5" y="257.8" text-anchor="end">500</text>
<text x="283.5" y="237.9" text-anchor="end">1000</text>
<text x="283.5" y="218.1" text-anchor="end">1500</text>
</g>
<text transform="translate(392.5 348.1) rotate(-14.6)" text-anchor="middle">Distance from solids inlet [m]</text>
<text transform="translate(292.9 320.9) rotate(51.8)" text-anchor="middle">Time [h]</text>
<text transform="translate(261 242.4) rotate(-90)" text-anchor="middle">Temperature gas [K]</text>
<rect x="459.4" y="190" width="9.1" height="138.2" fill="url(#pg)" stroke="#3a3a3a" stroke-width=".5"/>
<text font-size="6.8" x="471.7" y="318.5">400</text>
<text font-size="6.8" x="471.7" y="293.6">600</text>
<text font-size="6.8" x="471.7" y="268.7">800</text>
<text font-size="6.8" x="471.7" y="243.8">1000</text>
<text font-size="6.8" x="471.7" y="218.9">1200</text>
<text font-size="6.8" x="471.7" y="194">1400</text>
<path d="M468.5 315.7h-1.4M468.5 290.8h-1.4M468.5 265.9h-1.4M468.5 241h-1.4M468.5 216.1h-1.4M468.5 191.2h-1.4" stroke="#3a3a3a" stroke-width=".5" fill="none"/>
<path d="M84.9 514.6L33.9 451.3M33.9 451.3L33.9 405.4M107.1 508.9L56.1 445.6M56.1 445.6L56.1 399.7M129.3 503.2L78.3 439.9M78.3 439.9L78.3 394M151.5 497.4L100.5 434.1M100.5 434.1L100.5 388.2M173.7 491.7L122.7 428.4M122.7 428.4L122.7 382.5M195.9 486L144.9 422.7M144.9 422.7L144.9 376.8M84.9 514.6L195.9 486M195.9 486L195.9 440.1M76.4 504.1L187.4 475.4M187.4 475.4L187.4 429.5M67.9 493.5L178.9 464.9M178.9 464.9L178.9 419M59.4 483L170.4 454.4M170.4 454.4L170.4 408.4M50.9 472.4L161.9 443.8M161.9 443.8L161.9 397.9M42.4 461.9L153.4 433.2M153.4 433.2L153.4 387.3M33.9 451.3L144.9 422.7M144.9 422.7L144.9 376.8M33.9 451.3L144.9 422.7M144.9 422.7L195.9 486M33.9 422.6L144.9 394M144.9 394L195.9 457.3M33.9 405.4L144.9 376.8M144.9 376.8L195.9 440.1" stroke="#e2e2e2" stroke-width=".5" fill="none"/>
<g id="sp5" transform="scale(.1)" stroke="#000" stroke-width="2.0" stroke-opacity="0.6" stroke-linejoin="round">
<path fill="#3e26a8" d="M1403 4245l55-14 64 79-55 14zM1348 4259l55-14 64 79-55 15zM1293 4274l55-15 64 80-56 14zM1237 4288l56-14 63 79-55 14zM1182 4302l55-14 64 79-55 14zM1127 4316l55-14 64 79-55 14zM1072 4331l55-15 64 79-56 15zM1017 4345l55-14 63 79-55 14zM961 4359l56-14 63 79-55 14zM906 4373l55-14 64 79-55 14z"/>
<path fill="#422ec0" d="M851 4376l55-3 64 79-55 3z"/>
<path fill="#484df0" d="M796 4349l55 27 64 79-56-28z"/>
<path fill="#f0ba36" d="M804 4172l55 255-63-78-56-255z"/>
<path fill="#f9fb15" d="M685 4028l55 66 64 78-55-64zM630 4043l55-15 64 80-55 14zM575 4057l55-14 64 79-55 14zM520 4071l55-14 64 79-56 14zM464 4085l56-14 63 79-55 15zM409 4100l55-15 64 80-55 14z"/>
<path fill="#3e26a8" d="M1467 4324l55-14 64 79-56 14zM1412 4339l55-15 63 79-55 15zM1356 4353l56-14 63 79-55 14zM1301 4367l55-14 64 79-55 14zM1246 4381l55-14 64 79-55 14zM1191 4395l55-14 64 79-56 15zM1135 4410l56-15 63 80-55 14zM1080 4424l55-14 64 79-55 14zM1025 4438l55-14 64 79-55 14zM970 4452l55-14 64 79-55 14z"/>
<path fill="#422ec0" d="M915 4455l55-3 64 79-56 3z"/>
<path fill="#4852f4" d="M859 4427l56 28 63 79-55-29z"/>
<path fill="#f0ba36" d="M868 4250l55 255-64-78-55-255z"/>
<path fill="#f9fb15" d="M749 4108l55 64 64 78-55-63zM694 4122l55-14 64 79-55 14zM639 4136l55-14 64 79-56 14zM583 4150l56-14 63 79-55 14zM528 4165l55-15 64 79-55 15zM473 4179l55-14 64 79-55 14z"/>
<path fill="#3e26a8" d="M1530 4403l56-14 63 79-55 15zM1475 4418l55-15 64 80-55 14zM1420 4432l55-14 64 79-55 14zM1365 4446l55-14 64 79-55 14zM1310 4460l55-14 64 79-56 14zM1254 4475l56-15 63 79-55 15zM1199 4489l55-14 64 79-55 14zM1144 4503l55-14 64 79-55 14zM1089 4517l55-14 64 79-55 14zM1034 4531l55-14 64 79-56 15z"/>
<path fill="#422ec0" d="M978 4534l56-3 63 80-55 2z"/>
<path fill="#4852f4" d="M923 4505l55 29 64 79-55-30z"/>
<path fill="#f0ba36" d="M932 4327l55 256-64-78-55-255z"/>
<path fill="#f9fb15" d="M813 4187l55 63 64 77-55-61zM758 4201l55-14 64 79-56 14zM702 4215l56-14 63 79-55 14zM647 4229l55-14 64 79-55 15zM592 4244l55-15 64 80-55 14zM537 4258l55-14 64 79-56 14z"/>
<path fill="#3e26a8" d="M1594 4483l55-15 64 79-55 15zM1539 4497l55-14 64 79-55 14zM1484 4511l55-14 64 79-55 14zM1429 4525l55-14 64 79-56 14zM1373 4539l56-14 63 79-55 15zM1318 4554l55-15 64 80-55 14zM1263 4568l55-14 64 79-55 14zM1208 4582l55-14 64 79-55 14zM1153 4596l55-14 64 79-56 14zM1097 4611l56-15 63 79-55 15z"/>
<path fill="#422ec0" d="M1042 4613l55-2 64 79-55 2z"/>
<path fill="#4852f4" d="M987 4583l55 30 64 79-55-32z"/>
<path fill="#f8ba3d" d="M995 4401l56 259-64-77-55-256z"/>
<path fill="#f9fb15" d="M877 4266l55 61 63 74-55-56zM821 4280l56-14 63 79-55 14zM766 4294l55-14 64 79-55 14zM711 4309l55-15 64 79-55 15zM656 4323l55-14 64 79-56 14zM600 4337l56-14 63 79-55 14z"/>
<path fill="#3e26a8" d="M1658 4562l55-15 64 80-55 14zM1603 4576l55-14 64 79-55 14zM1548 4590l55-14 64 79-56 14zM1492 4604l56-14 63 79-55 14zM1437 4619l55-15 64 79-55 15zM1382 4633l55-14 64 79-55 14zM1327 4647l55-14 64 79-56 14zM1272 4661l55-14 63 79-55 14zM1216 4675l56-14 63 79-55 15zM1161 4690l55-15 64 80-55 14z"/>
<path fill="#422ec0" d="M1106 4692l55-2 64 79-55 3z"/>
<path fill="#4852f4" d="M1051 4660l55 32 64 80-56-36z"/>
<path fill="#febe3c" d="M1059 4472l55 264-63-76-56-259z"/>
<path fill="#f9fb15" d="M940 4345l55 56 64 71-55-48zM885 4359l55-14 64 79-55 14zM830 4373l55-14 64 79-55 15zM775 4388l55-15 64 80-56 14zM719 4402l56-14 63 79-55 14zM664 4416l55-14 64 79-55 14z"/>
<path fill="#3e26a8" d="M1722 4641l55-14 64 78-56 15zM1667 4655l55-14 63 79-55 14zM1611 4669l56-14 63 79-55 14zM1556 4683l55-14 64 79-55 15zM1501 4698l55-15 64 80-55 14zM1446 4712l55-14 64 79-56 14zM1390 4726l56-14 63 79-55 14zM1335 4740l55-14 64 79-55 15zM1280 4755l55-15 64 80-55 14zM1225 4769l55-14 64 79-55 14z"/>
<path fill="#422ec0" d="M1170 4772l55-3 64 79-56 3z"/>
<path fill="#4758f8" d="M1114 4736l56 36 63 79-55-40z"/>
<path fill="#fec934" d="M1123 4534l55 277-64-75-55-264z"/>
<path fill="#f9fb15" d="M1004 4424l55 48 64 62-55-31zM949 4438l55-14 64 79-55 14zM894 4453l55-15 64 79-56 15zM838 4467l56-14 63 79-55 14zM783 4481l55-14 64 79-55 14zM728 4495l55-14 64 79-55 14z"/>
<path fill="#3e26a8" d="M1785 4720l56-15 13 16-55 15zM1730 4734l55-14 14 16-55 15zM1675 4748l55-14 14 17-55 14zM1620 4763l55-15 14 17-56 14zM1565 4777l55-14 13 16-55 15zM1509 4791l56-14 13 17-55 14zM1454 4805l55-14 14 17-55 14zM1399 4820l55-15 14 17-55 14zM1344 4834l55-14 14 16-56 15zM1289 4848l55-14 13 17-55 14z"/>
<path fill="#422ec0" d="M1233 4851l56-3 13 17-55 3z"/>
<path fill="#4758f8" d="M1178 4811l55 40 14 17-55-42z"/>
<path fill="#fccf30" d="M1137 4546l55 280-14-15-55-277z"/>
<path fill="#f9fb15" d="M1068 4503l55 31 14 12-56-26zM1013 4517l55-14 13 17-55 14zM957 4532l56-15 13 17-55 15zM902 4546l55-14 14 17-55 14zM847 4560l55-14 14 17-55 14zM792 4574l55-14 14 17-56 14z"/>
<path fill="#3e26a8" d="M1799 4736l55-15 11 11-55 16zM1744 4751l55-15 11 12-55 15zM1689 4765l55-14 11 12-55 15zM1633 4779l56-14 11 13-55 15zM1578 4794l55-15 12 14-56 14zM1523 4808l55-14 11 13-55 15zM1468 4822l55-14 11 14-55 14zM1413 4836l55-14 11 14-55 14zM1357 4851l56-15 11 14-55 14zM1302 4865l55-14 12 13-56 14z"/>
<path fill="#422ec0" d="M1247 4868l55-3 11 13-55 3z"/>
<path fill="#465efb" d="M1192 4826l55 42 11 13-55-43z"/>
<path fill="#fad62d" d="M1148 4556l55 282-11-12-55-280z"/>
<path fill="#f9fb15" d="M1081 4520l56 26 11 10-55-22zM1026 4534l55-14 12 14-56 14zM971 4549l55-15 11 14-55 14zM916 4563l55-14 11 13-55 15zM861 4577l55-14 11 14-55 14zM805 4591l56-14 11 14-55 14z"/>
<path fill="#402ab4" d="M1810 4748l55-16 10 5-55 18zM1755 4763l55-15 10 7-55 18z"/>
<path fill="#3e26a8" d="M1700 4778l55-15 10 10-55 16zM1645 4793l55-15 10 11-55 16zM1589 4807l56-14 10 12-56 15zM1534 4822l55-15 10 13-55 14zM1479 4836l55-14 10 12-55 14zM1424 4850l55-14 10 12-55 14zM1369 4864l55-14 10 12-55 14zM1313 4878l56-14 10 12-56 14z"/>
<path fill="#422ec0" d="M1258 4881l55-3 10 12-55 2z"/>
<path fill="#465efb" d="M1203 4838l55 43 10 11-55-44z"/>
<path fill="#f7dc2a" d="M1158 4563l55 285-10-10-55-282z"/>
<path fill="#f9fb15" d="M1093 4534l55 22 10 7-55-17zM1037 4548l56-14 10 12-56 15zM982 4562l55-14 10 13-55 14zM927 4577l55-15 10 13-55 14zM872 4591l55-14 10 12-55 14zM817 4605l55-14 10 12-55 15z"/>
<path fill="#422ec0" d="M1820 4755l55-18 9-3-55 22z"/>
<path fill="#402ab4" d="M1765 4773l55-18 9 1-56 20zM1710 4789l55-16 8 3-55 19z"/>
<path fill="#3e26a8" d="M1655 4805l55-16 8 6-55 17zM1599 4820l56-15 8 7-55 17zM1544 4834l55-14 9 9-55 14zM1489 4848l55-14 9 9-56 14zM1434 4862l55-14 8 9-55 14zM1379 4876l55-14 8 9-55 14zM1323 4890l56-14 8 9-55 13z"/>
<path fill="#422ec0" d="M1268 4892l55-2 9 8-55 2z"/>
<path fill="#4563fd" d="M1221 4852l56 48-9-8-55-44z"/>
<path fill="#f7dc2a" d="M1166 4570l55 282-8-4-55-285z"/>
<path fill="#f9fb15" d="M1103 4546l55 17 8 7-55-13zM1047 4561l56-15 8 11-55 14zM992 4575l55-14 9 10-55 14zM937 4589l55-14 9 10-56 14zM882 4603l55-14 8 10-55 15zM827 4618l55-15 8 11-55 14z"/>
<path fill="#4537d5" d="M1836 4747l55-25-7 12-55 22z"/>
<path fill="#4432cb" d="M1780 4771l56-24-7 9-56 20z"/>
<path fill="#402ab4" d="M1663 4812l55-17 7-1-55 21zM1608 4829l55-17 7 3-55 19z"/>
<path fill="#3e26a8" d="M1553 4843l55-14 7 5-55 15z"/>
<path fill="#402ab4" d="M1497 4857l56-14 7 6-56 13zM1442 4871l55-14 7 5-55 13zM1387 4885l55-14 7 4-55 13zM1332 4898l55-13 7 3-55 13z"/>
<path fill="#4432cb" d="M1277 4900l55-2 7 3-55 1z"/>
<path fill="#4269fe" d="M1228 4850l56 52-7-2-56-48z"/>
<path fill="#f5e327" d="M1173 4574l55 276-7 2-55-282z"/>
<path fill="#f9fb15" d="M1111 4557l55 13 7 4-55-9zM1056 4571l55-14 7 8-55 15zM1001 4585l55-14 7 9-55 14zM945 4599l56-14 7 9-56 14zM890 4614l55-15 7 9-55 14zM835 4628l55-14 7 8-55 15z"/>
<path fill="#4747eb" d="M1841 4730l56-29-6 21-55 25z"/>
<path fill="#4741e5" d="M1786 4758l55-28-5 17-56 24z"/>
<path fill="#4537d5" d="M1731 4785l55-27-6 13-55 23z"/>
<path fill="#4432cb" d="M1676 4811l55-26-6 9-55 21z"/>
<path fill="#402ab4" d="M1560 4849l55-15 6 0-56 16zM1504 4862l56-13 5 1-55 12z"/>
<path fill="#422ec0" d="M1345 4897l55-11-6 2-55 13z"/>
<path fill="#463cde" d="M1289 4897l56 0-6 4-55 1z"/>
<path fill="#3875fe" d="M1234 4841l55 56-5 5-56-52z"/>
<path fill="#f5e924" d="M1179 4578l55 263-6 9-55-276z"/>
<path fill="#f9fb15" d="M1118 4565l55 9 6 4-55-5zM1063 4580l55-15 6 8-55 14zM1008 4594l55-14 6 7-56 14zM952 4608l56-14 5 7-55 14zM897 4622l55-14 6 7-55 15zM842 4637l55-15 6 8-55 14z"/>
<path fill="#4563fd" d="M1846 4704l55-31-4 28-56 29z"/>
<path fill="#4852f4" d="M1791 4736l55-32-5 26-55 28z"/>
<path fill="#4747eb" d="M1736 4767l55-31-5 22-55 27z"/>
<path fill="#463cde" d="M1681 4798l55-31-5 18-55 26z"/>
<path fill="#4432cb" d="M1625 4827l56-29-5 13-55 23zM1570 4844l55-17-4 7-56 16zM1515 4855l55-11-5 6-55 12z"/>
<path fill="#4537d5" d="M1460 4865l55-10-5 7-55 12zM1405 4875l55-10-5 9-55 12z"/>
<path fill="#463cde" d="M1349 4885l56-10-5 11-55 11z"/>
<path fill="#4747eb" d="M1294 4883l55 2-4 12-56 0z"/>
<path fill="#2e87f7" d="M1239 4824l55 59-5 14-55-56z"/>
<path fill="#f5e924" d="M1184 4581l55 243-5 17-55-263z"/>
<path fill="#f9fb15" d="M1124 4573l55 5 5 3-55-2zM1069 4587l55-14 5 6-56 14zM1013 4601l56-14 4 6-55 14zM958 4615l55-14 5 6-55 14zM903 4630l55-15 5 6-55 15zM848 4644l55-14 5 6-55 14z"/>
<path fill="#2f81fa" d="M1850 4673l56-33-5 33-55 31z"/>
<path fill="#3e6fff" d="M1795 4707l55-34-4 31-55 32z"/>
<path fill="#465efb" d="M1740 4741l55-34-4 29-55 31z"/>
<path fill="#484df0" d="M1685 4777l55-36-4 26-55 31z"/>
<path fill="#4741e5" d="M1629 4811l56-34-4 21-56 29z"/>
<path fill="#463cde" d="M1574 4830l55-19-4 16-55 17z"/>
<path fill="#4741e5" d="M1519 4839l55-9-4 14-55 11z"/>
<path fill="#4747eb" d="M1464 4847l55-8-4 16-55 10zM1409 4855l55-8-4 18-55 10z"/>
<path fill="#484df0" d="M1353 4864l56-9-4 20-56 10z"/>
<path fill="#465efb" d="M1298 4861l55 3-4 21-55-2z"/>
<path fill="#259be8" d="M1243 4801l55 60-4 22-55-59z"/>
<path fill="#f6ef20" d="M1188 4584l55 217-4 23-55-243z"/>
<path fill="#f9fb15" d="M1129 4579l55 2 4 3-55 0zM1073 4593l56-14 4 5-56 14zM1018 4607l55-14 4 5-55 14zM963 4621l55-14 4 5-55 14zM908 4636l55-15 4 5-55 15zM853 4650l55-14 4 5-55 14z"/>
<path fill="#23a0e5" d="M1854 4637l55-33-3 36-56 33z"/>
<path fill="#2b91ef" d="M1798 4672l56-35-4 36-55 34z"/>
<path fill="#2f81fa" d="M1743 4709l55-37-3 35-55 34z"/>
<path fill="#4269fe" d="M1688 4748l55-39-3 32-55 36z"/>
<path fill="#4758f8" d="M1633 4787l55-39-3 29-56 34z"/>
<path fill="#4852f4" d="M1578 4808l55-21-4 24-55 19z"/>
<path fill="#4758f8" d="M1522 4814l56-6-4 22-55 9z"/>
<path fill="#465efb" d="M1467 4821l55-7-3 25-55 8z"/>
<path fill="#4563fd" d="M1412 4828l55-7-3 26-55 8z"/>
<path fill="#4269fe" d="M1357 4835l55-7-3 27-56 9z"/>
<path fill="#3875fe" d="M1302 4832l55 3-4 29-55-3z"/>
<path fill="#12b1d6" d="M1246 4774l56 58-4 29-55-60z"/>
<path fill="#f6ef20" d="M1191 4586l55 188-3 27-55-217z"/>
<path fill="#f9fb15" d="M1133 4584l55 0 3 2-55 2zM1077 4598l56-14 3 4-55 14zM1022 4612l55-14 4 4-55 14zM967 4626l55-14 4 4-56 15zM912 4641l55-15 3 5-55 14zM857 4655l55-14 3 4-55 14z"/>
<path fill="#01b8ca" d="M1856 4602l56-32-3 34-55 33z"/>
<path fill="#18addb" d="M1801 4636l55-34-2 35-56 35z"/>
<path fill="#23a0e5" d="M1746 4674l55-38-3 36-55 37z"/>
<path fill="#2d8cf3" d="M1691 4713l55-39-3 35-55 39z"/>
<path fill="#3e6fff" d="M1636 4756l55-43-3 35-55 39z"/>
<path fill="#4269fe" d="M1580 4778l56-22-3 31-55 21z"/>
<path fill="#3875fe" d="M1525 4783l55-5-2 30-56 6z"/>
<path fill="#327cfc" d="M1470 4789l55-6-3 31-55 7z"/>
<path fill="#2f81fa" d="M1415 4795l55-6-3 32-55 7z"/>
<path fill="#2e87f7" d="M1360 4801l55-6-3 33-55 7z"/>
<path fill="#2797eb" d="M1304 4799l56 2-3 34-55-3z"/>
<path fill="#19bfb6" d="M1249 4745l55 54-2 33-56-58z"/>
<path fill="#f6ef20" d="M1194 4587l55 158-3 29-55-188z"/>
<path fill="#f9fb15" d="M1136 4588l55-2 3 1-55 4zM1081 4602l55-14 3 3-55 15zM1026 4616l55-14 3 4-56 14zM970 4631l56-15 2 4-55 14zM915 4645l55-14 3 3-55 14zM860 4659l55-14 3 3-55 14z"/>
<path fill="#31c69f" d="M1859 4568l55-30-2 32-56 32z"/>
<path fill="#19bfb6" d="M1804 4601l55-33-3 34-55 34z"/>
<path fill="#01b8ca" d="M1748 4637l56-36-3 35-55 38z"/>
<path fill="#1ca9df" d="M1693 4677l55-40-2 37-55 39z"/>
<path fill="#2b91ef" d="M1638 4720l55-43-2 36-55 43z"/>
<path fill="#2d8cf3" d="M1583 4743l55-23-2 36-56 22z"/>
<path fill="#2b91ef" d="M1528 4748l55-5-3 35-55 5z"/>
<path fill="#259be8" d="M1472 4753l56-5-3 35-55 6z"/>
<path fill="#23a0e5" d="M1417 4759l55-6-2 36-55 6z"/>
<path fill="#20a5e3" d="M1362 4764l55-5-2 36-55 6z"/>
<path fill="#12b1d6" d="M1307 4763l55 1-2 37-56-2z"/>
<path fill="#3fca8e" d="M1252 4716l55 47-3 36-55-54z"/>
<path fill="#f7f51b" d="M1196 4589l56 127-3 29-55-158z"/>
<path fill="#f9fb15" d="M1139 4591l55-4 2 2-55 5zM1084 4606l55-15 2 3-55 14zM1028 4620l56-14 2 2-55 15zM973 4634l55-14 3 3-56 14zM918 4648l55-14 2 3-55 14zM863 4662l55-14 2 3-55 14z"/>
<path fill="#72cd64" d="M1861 4538l55-28-2 28-55 30z"/>
<path fill="#4acb84" d="M1806 4569l55-31-2 30-55 33z"/>
<path fill="#31c69f" d="M1750 4603l56-34-2 32-56 36z"/>
<path fill="#0bbdbd" d="M1695 4641l55-38-2 34-55 40z"/>
<path fill="#18addb" d="M1640 4683l55-42-2 36-55 43z"/>
<path fill="#1ca9df" d="M1585 4706l55-23-2 37-55 23z"/>
<path fill="#18addb" d="M1530 4711l55-5-2 37-55 5z"/>
<path fill="#08b5d0" d="M1474 4716l56-5-2 37-56 5z"/>
<path fill="#01b8ca" d="M1419 4722l55-6-2 37-55 6z"/>
<path fill="#02bac3" d="M1364 4728l55-6-2 37-55 5z"/>
<path fill="#24c1ae" d="M1309 4728l55 0-2 36-55-1z"/>
<path fill="#81cc59" d="M1253 4690l56 38-2 35-55-47z"/>
<path fill="#f7f51b" d="M1198 4590l55 100-1 26-56-127z"/>
<path fill="#f9fb15" d="M1141 4594l55-5 2 1-55 7zM1086 4608l55-14 2 3-55 14zM1031 4623l55-15 2 3-55 14zM975 4637l56-14 2 2-56 14zM920 4651l55-14 2 2-55 15zM865 4665l55-14 2 3-55 14z"/>
<path fill="#abc739" d="M1862 4512l56-26-2 24-55 28z"/>
<path fill="#8fcb4e" d="M1807 4540l55-28-1 26-55 31z"/>
<path fill="#64cd6f" d="M1752 4572l55-32-1 29-56 34z"/>
<path fill="#3fca8e" d="M1697 4607l55-35-2 31-55 38z"/>
<path fill="#19bfb6" d="M1642 4647l55-40-2 34-55 42z"/>
<path fill="#0bbdbd" d="M1586 4669l56-22-2 36-55 23z"/>
<path fill="#24c1ae" d="M1531 4675l55-6-1 37-55 5z"/>
<path fill="#2cc4a7" d="M1476 4681l55-6-1 36-56 5z"/>
<path fill="#31c69f" d="M1421 4687l55-6-2 35-55 6z"/>
<path fill="#37c897" d="M1366 4694l55-7-2 35-55 6z"/>
<path fill="#4acb84" d="M1310 4696l56-2-2 34-55 0z"/>
<path fill="#b9c431" d="M1255 4666l55 30-1 32-56-38z"/>
<path fill="#f7f51b" d="M1200 4591l55 75-2 24-55-100z"/>
<path fill="#f9fb15" d="M1143 4597l55-7 2 1-55 8zM1088 4611l55-14 2 2-56 14zM1033 4625l55-14 1 2-55 14zM977 4639l56-14 1 2-55 14zM922 4654l55-15 2 2-55 15zM867 4668l55-14 2 2-55 14z"/>
<path fill="#dcbd29" d="M1864 4491l55-24-1 19-56 26z"/>
<path fill="#c5c22a" d="M1809 4516l55-25-2 21-55 28z"/>
<path fill="#abc739" d="M1753 4545l56-29-2 24-55 32z"/>
<path fill="#81cc59" d="M1698 4577l55-32-1 27-55 35z"/>
<path fill="#4acb84" d="M1643 4614l55-37-1 30-55 40z"/>
<path fill="#3fca8e" d="M1588 4635l55-21-1 33-56 22z"/>
<path fill="#4acb84" d="M1532 4642l56-7-2 34-55 6z"/>
<path fill="#57cc7a" d="M1477 4649l55-7-1 33-55 6z"/>
<path fill="#72cd64" d="M1422 4656l55-7-1 32-55 6z"/>
<path fill="#81cc59" d="M1367 4664l55-8-1 31-55 7z"/>
<path fill="#8fcb4e" d="M1312 4668l55-4-1 30-56 2z"/>
<path fill="#e6bb2d" d="M1256 4646l56 22-2 28-55-30z"/>
<path fill="#f7f51b" d="M1201 4591l55 55-1 20-55-75z"/>
<path fill="#f9fb15" d="M1089 4613l56-14 1 1-55 15zM1034 4627l55-14 2 2-55 14zM979 4641l55-14 2 2-56 14zM924 4656l55-15 1 2-55 14zM869 4670l55-14 1 1-55 14z"/>
<path fill="#febe3c" d="M1865 4473l55-21-1 15-55 24z"/>
<path fill="#f0ba36" d="M1810 4497l55-24-1 18-55 25z"/>
<path fill="#dcbd29" d="M1754 4523l56-26-1 19-56 29z"/>
<path fill="#b9c431" d="M1699 4552l55-29-1 22-55 32z"/>
<path fill="#8fcb4e" d="M1644 4585l55-33-1 25-55 37z"/>
<path fill="#81cc59" d="M1589 4605l55-20-1 29-55 21z"/>
<path fill="#8fcb4e" d="M1534 4613l55-8-1 30-56 7z"/>
<path fill="#9dc943" d="M1478 4621l56-8-2 29-55 7z"/>
<path fill="#abc739" d="M1423 4629l55-8-1 28-55 7z"/>
<path fill="#b9c431" d="M1368 4638l55-9-1 27-55 8z"/>
<path fill="#d1bf27" d="M1313 4644l55-6-1 26-55 4z"/>
<path fill="#febe3c" d="M1258 4630l55 14-1 24-56-22z"/>
<path fill="#f7f51b" d="M1202 4592l56 38-2 16-55-55z"/>
<path fill="#f9fb15" d="M1146 4600l55-9 1 1-55 10zM1091 4615l55-15 1 2-55 14zM1036 4629l55-14 1 1-55 14zM980 4643l56-14 1 1-55 14zM925 4657l55-14 2 1-56 15zM870 4671l55-14 1 2-55 14z"/>
<path fill="#fec934" d="M1866 4460l55-20-1 12-55 21z"/>
<path fill="#fec338" d="M1811 4482l55-22-1 13-55 24z"/>
<path fill="#f8ba3d" d="M1755 4505l56-23-1 15-56 26z"/>
<path fill="#e6bb2d" d="M1700 4531l55-26-1 18-55 29z"/>
<path fill="#d1bf27" d="M1645 4561l55-30-1 21-55 33z"/>
<path fill="#c5c22a" d="M1590 4580l55-19-1 24-55 20z"/>
<path fill="#d1bf27" d="M1535 4589l55-9-1 25-55 8z"/>
<path fill="#dcbd29" d="M1479 4598l56-9-1 24-56 8zM1424 4607l55-9-1 23-55 8z"/>
<path fill="#e6bb2d" d="M1369 4617l55-10-1 22-55 9z"/>
<path fill="#f0ba36" d="M1314 4625l55-8-1 21-55 6z"/>
<path fill="#fec934" d="M1259 4617l55 8-1 19-55-14z"/>
<path fill="#f7f51b" d="M1203 4592l56 25-1 13-56-38z"/>
<path fill="#f9fb15" d="M1092 4616l55-14 1 1-55 14zM1037 4630l55-14 1 1-55 14zM982 4644l55-14 1 1-56 15zM926 4659l56-15 0 2-55 14zM871 4673l55-14 1 1-55 14z"/>
<path fill="#fad62d" d="M1867 4450l55-19-1 9-55 20z"/>
<path fill="#fccf30" d="M1811 4470l56-20-1 10-55 22z"/>
<path fill="#fec934" d="M1756 4491l55-21 0 12-56 23z"/>
<path fill="#febe3c" d="M1701 4514l55-23-1 14-55 26z"/>
<path fill="#f0ba36" d="M1646 4541l55-27-1 17-55 30z"/>
<path fill="#e6bb2d" d="M1591 4559l55-18-1 20-55 19z"/>
<path fill="#f0ba36" d="M1535 4569l56-10-1 21-55 9z"/>
<path fill="#f8ba3d" d="M1480 4579l55-10 0 20-56 9z"/>
<path fill="#febe3c" d="M1425 4590l55-11-1 19-55 9zM1370 4601l55-11-1 17-55 10z"/>
<path fill="#fec338" d="M1315 4610l55-9-1 16-55 8z"/>
<path fill="#fad62d" d="M1259 4607l56 3-1 15-55-8z"/>
<path fill="#f7f51b" d="M1204 4593l55 14 0 10-56-25z"/>
<path fill="#f9fb15" d="M1148 4603l55-11 1 1-55 11zM1093 4617l55-14 1 1-55 14zM1038 4631l55-14 1 1-56 14zM982 4646l56-15 0 1-55 15zM927 4660l55-14 1 1-55 14zM872 4674l55-14 1 1-55 14z"/>
<path fill="#f5e327" d="M1867 4442l55-17 0 6-55 19z"/>
<path fill="#f7dc2a" d="M1812 4461l55-19 0 8-56 20z"/>
<path fill="#fad62d" d="M1757 4480l55-19-1 9-55 21z"/>
<path fill="#fccf30" d="M1702 4502l55-22-1 11-55 23z"/>
<path fill="#fec338" d="M1646 4526l56-24-1 12-55 27zM1591 4543l55-17 0 15-55 18zM1536 4554l55-11 0 16-56 10z"/>
<path fill="#fec934" d="M1481 4565l55-11-1 15-55 10zM1426 4576l55-11-1 14-55 11z"/>
<path fill="#fccf30" d="M1370 4588l56-12-1 14-55 11zM1315 4598l55-10 0 13-55 9z"/>
<path fill="#f5e327" d="M1260 4599l55-1 0 12-56-3z"/>
<path fill="#f9fb15" d="M1205 4593l55 6-1 8-55-14zM1094 4618l55-14 1 1-56 14zM1038 4632l56-14 0 1-55 14zM873 4675l55-14 1 1-56 14z"/>
<path fill="#f5e924" d="M1868 4437l55-17-1 5-55 17z"/>
<path fill="#f5e327" d="M1813 4454l55-17-1 5-55 19zM1757 4472l56-18-1 7-55 19z"/>
<path fill="#f7dc2a" d="M1702 4492l55-20 0 8-55 22z"/>
<path fill="#fccf30" d="M1647 4514l55-22 0 10-56 24zM1592 4530l55-16-1 12-55 17zM1537 4542l55-12-1 13-55 11z"/>
<path fill="#fad62d" d="M1481 4553l56-11-1 12-55 11zM1426 4566l55-13 0 12-55 11z"/>
<path fill="#f7dc2a" d="M1371 4578l55-12 0 10-56 12zM1316 4589l55-11-1 10-55 10z"/>
<path fill="#f5e924" d="M1260 4594l56-5-1 9-55 1z"/>
<path fill="#f9fb15" d="M1205 4593l55 1 0 5-55-6zM1039 4633l55-14 1 1-55 14zM984 4647l55-14 1 1-56 14z"/>
<path fill="#f6ef20" d="M1868 4433l55-16 0 3-55 17z"/>
<path fill="#f5e924" d="M1813 4449l55-16 0 4-55 17zM1758 4466l55-17 0 5-56 18z"/>
<path fill="#f5e327" d="M1703 4485l55-19-1 6-55 20z"/>
<path fill="#f7dc2a" d="M1647 4504l56-19-1 7-55 22zM1592 4520l55-16 0 10-55 16zM1537 4533l55-13 0 10-55 12zM1482 4545l55-12 0 9-56 11z"/>
<path fill="#f5e327" d="M1427 4558l55-13-1 8-55 13zM1371 4570l56-12-1 8-55 12zM1316 4582l55-12 0 8-55 11z"/>
<path fill="#f6ef20" d="M1261 4590l55-8 0 7-56 5z"/>
<path fill="#f9fb15" d="M1206 4593l55-3-1 4-55-1zM929 4662l55-14 1 1-55 14zM874 4676l55-14 1 1-56 14z"/>
<path fill="#f6ef20" d="M1869 4430l55-16-1 3-55 16zM1813 4446l56-16-1 3-55 16zM1758 4462l55-16 0 3-55 17z"/>
<path fill="#f5e924" d="M1703 4479l55-17 0 4-55 19z"/>
<path fill="#f5e327" d="M1648 4498l55-19 0 6-56 19zM1593 4513l55-15-1 6-55 16zM1537 4526l56-13-1 7-55 13z"/>
<path fill="#f5e924" d="M1482 4539l55-13 0 7-55 12zM1427 4552l55-13 0 6-55 13zM1372 4565l55-13 0 6-56 12zM1317 4578l55-13-1 5-55 12z"/>
<path fill="#f6ef20" d="M1261 4587l56-9-1 4-55 8z"/>
<path fill="#f9fb15" d="M1206 4594l55-7 0 3-55 3zM1040 4634l55-14 1 1-56 14z"/>
<path fill="#f7f51b" d="M1869 4428l55-15 0 1-55 16zM1814 4443l55-15 0 2-56 16z"/>
<path fill="#f6ef20" d="M1759 4459l55-16-1 3-55 16zM1703 4475l56-16-1 3-55 17z"/>
<path fill="#f5e924" d="M1648 4493l55-18 0 4-55 19zM1593 4508l55-15 0 5-55 15zM1538 4521l55-13 0 5-56 13z"/>
<path fill="#f6ef20" d="M1482 4534l56-13-1 5-55 13zM1427 4548l55-14 0 5-55 13zM1372 4561l55-13 0 4-55 13zM1317 4574l55-13 0 4-55 13z"/>
<path fill="#f7f51b" d="M1262 4585l55-11 0 4-56 9z"/>
<path fill="#f9fb15" d="M1206 4594l56-9-1 2-55 7z"/>
<path fill="#f7f51b" d="M1869 4426l55-14 0 1-55 15zM1814 4441l55-15 0 2-55 15zM1759 4457l55-16 0 2-55 16zM1704 4473l55-16 0 2-56 16z"/>
<path fill="#f6ef20" d="M1648 4489l56-16-1 2-55 18zM1593 4504l55-15 0 4-55 15zM1538 4517l55-13 0 4-55 13zM1483 4531l55-14 0 4-56 13zM1428 4544l55-13-1 3-55 14z"/>
<path fill="#f7f51b" d="M1372 4558l56-14-1 4-55 13zM1317 4572l55-14 0 3-55 13zM1262 4583l55-11 0 2-55 11z"/>
<path fill="#f9fb15" d="M1207 4594l55-11 0 2-56 9zM986 4649l55-14 0 1-55 14z"/>
<path fill="#f7f51b" d="M1814 4440l55-15 0 1-55 15zM1759 4455l55-15 0 1-55 16zM1704 4471l55-16 0 2-55 16zM1649 4486l55-15 0 2-56 16zM1593 4501l56-15-1 3-55 15zM1538 4515l55-14 0 3-55 13zM1483 4529l55-14 0 2-55 14zM1428 4542l55-13 0 2-55 13zM1373 4556l55-14 0 2-56 14zM1317 4570l56-14-1 2-55 14zM1262 4582l55-12 0 2-55 11zM1759 4454l55-15 0 1-55 15zM1704 4469l55-15 0 1-55 16zM1649 4485l55-16 0 2-55 15zM1594 4499l55-14 0 1-56 15zM1538 4513l56-14-1 2-55 14zM1483 4527l55-14 0 2-55 14zM1428 4541l55-14 0 2-55 13zM1373 4555l55-14 0 1-55 14zM1318 4568l55-13 0 1-56 14z"/>
<path fill="#f9fb15" d="M1262 4581l56-13-1 2-55 12z"/>
<path fill="#f7f51b" d="M1649 4483l55-15 0 1-55 16zM1594 4498l55-15 0 2-55 14zM1538 4512l56-14 0 1-56 14zM1483 4526l55-14 0 1-55 14zM1428 4540l55-14 0 1-55 14zM1373 4554l55-14 0 1-55 14z"/>
<path fill="#f9fb15" d="M1759 4453l56-15 0 1-56 15z"/>
<path fill="#f7f51b" d="M1594 4497l55-15 0 1-55 15z"/>
<path fill="#f9fb15" d="M1428 4539l55-14 0 1-55 14zM1373 4553l55-14 0 1-55 14zM1318 4567l55-14 0 1-55 14zM1539 4510l55-14 0 1-55 14zM1318 4566l55-14 0 1-55 14zM1484 4523l55-14 0 1-55 14zM1152 4608l56-14 0 1-55 14zM1097 4622l55-14 1 1-55 14zM876 4679l56-14 0 1-55 14z"/>
</g>
<use href="#sp5"/>
<path d="M84.9 514.6L195.9 486M84.9 514.6L33.9 451.3M33.9 451.3L33.9 405.4M84.9 514.6L86.3 516.3M107.1 508.9L108.5 510.6M129.3 503.2L130.7 504.9M151.5 497.4L152.9 499.2M173.7 491.7L175.1 493.4M195.9 486L197.3 487.7M84.9 514.6L82.8 515.1M76.4 504.1L74.3 504.6M67.9 493.5L65.8 494M59.4 483L57.3 483.5M50.9 472.4L48.8 472.9M42.4 461.9L40.3 462.4M33.9 451.3L32.1 450M33.9 422.6L32.1 421.3" stroke="#3a3a3a" stroke-width=".6" fill="none"/>
<g font-size="7.4">
<text x="89.9" y="526.8" text-anchor="middle">0</text>
<text x="112.1" y="521.1" text-anchor="middle">2</text>
<text x="134.3" y="515.4" text-anchor="middle">4</text>
<text x="156.5" y="509.6" text-anchor="middle">6</text>
<text x="178.7" y="503.9" text-anchor="middle">8</text>
<text x="203.2" y="498.2" text-anchor="middle">10</text>
<text x="76.9" y="523.8" text-anchor="middle">0</text>
<text x="68.4" y="513.2" text-anchor="middle">1</text>
<text x="59.9" y="502.7" text-anchor="middle">2</text>
<text x="51.4" y="492.2" text-anchor="middle">3</text>
<text x="42.9" y="481.6" text-anchor="middle">4</text>
<text x="34.4" y="471.1" text-anchor="middle">5</text>
<text x="29.6" y="451.2" text-anchor="end">0</text>
<text x="29.6" y="422.5" text-anchor="end">5</text>
</g>
<text transform="translate(142.8 533.1) rotate(-14.4)" text-anchor="middle">Distance from solids inlet [m]</text>
<text transform="translate(40 506.2) rotate(51.1)" text-anchor="middle">Time [h]</text>
<text transform="translate(13.5 428.4) rotate(-90)" text-anchor="middle">C fraction [wt%]</text>
<rect x="211.9" y="375.7" width="9.1" height="138.2" fill="url(#pg)" stroke="#3a3a3a" stroke-width=".5"/>
<text font-size="6.8" x="224.2" y="516.5">1</text>
<text font-size="6.8" x="224.2" y="496.8">2</text>
<text font-size="6.8" x="224.2" y="477.1">3</text>
<text font-size="6.8" x="224.2" y="457.4">4</text>
<text font-size="6.8" x="224.2" y="437.6">5</text>
<text font-size="6.8" x="224.2" y="417.9">6</text>
<text font-size="6.8" x="224.2" y="398.2">7</text>
<text font-size="6.8" x="224.2" y="378.5">8</text>
<path d="M221 513.7h-1.4M221 494h-1.4M221 474.3h-1.4M221 454.6h-1.4M221 434.8h-1.4M221 415.1h-1.4M221 395.4h-1.4M221 375.7h-1.4" stroke="#3a3a3a" stroke-width=".5" fill="none"/>
<path d="M332.5 514.5L282.4 451.4M282.4 451.4L282.4 405.4M354.6 508.7L304.5 445.6M304.5 445.6L304.5 399.6M376.6 502.9L326.5 439.8M326.5 439.8L326.5 393.8M398.7 497.2L348.6 434.1M348.6 434.1L348.6 388.1M420.7 491.4L370.6 428.3M370.6 428.3L370.6 382.3M442.8 485.6L392.7 422.5M392.7 422.5L392.7 376.5M332.5 514.5L442.8 485.6M442.8 485.6L442.8 439.6M324.1 504L434.4 475.1M434.4 475.1L434.4 429.1M315.8 493.5L426.1 464.6M426.1 464.6L426.1 418.6M307.4 482.9L417.8 454.1M417.8 454.1L417.8 408.1M299.1 472.4L409.4 443.5M409.4 443.5L409.4 397.5M290.8 461.9L401.1 433M401.1 433L401.1 387M282.4 451.4L392.7 422.5M392.7 422.5L392.7 376.5M282.4 451.4L392.7 422.5M392.7 422.5L442.8 485.6M282.4 431.1L392.7 402.2M392.7 402.2L442.8 465.3M282.4 410.9L392.7 382M392.7 382L442.8 445.1M282.4 405.4L392.7 376.5M392.7 376.5L442.8 439.6" stroke="#e2e2e2" stroke-width=".5" fill="none"/>
<g id="sp6" transform="scale(.1)" stroke="#000" stroke-width="2.0" stroke-opacity="0.6" stroke-linejoin="round">
<path fill="#f9fb15" d="M3881 3835l55-15 62 79-55 14zM3826 3849l55-14 62 78-54 15zM3771 3863l55-14 63 79-55 14zM3716 3878l55-15 63 79-55 15zM3661 3892l55-14 63 79-55 14zM3607 3906l54-14 63 79-55 14zM3552 3921l55-15 62 79-55 15zM3497 3935l55-14 62 79-55 14zM3442 3952l55-17 62 79-54 17z"/>
<path fill="#f7f51b" d="M3387 3974l55-22 63 79-55 22z"/>
<path fill="#fec338" d="M3332 4041l55-67 63 79-55 67z"/>
<path fill="#4563fd" d="M3277 4344l55-303 63 79-55 303z"/>
<path fill="#422ec0" d="M3222 4425l55-81 63 79-55 80zM3168 4443l54-18 63 78-55 19zM3113 4457l55-14 62 79-55 14zM3058 4472l55-15 62 79-54 15zM3003 4486l55-14 63 79-55 14zM2948 4500l55-14 63 79-55 14zM2893 4515l55-15 63 79-55 15z"/>
<path fill="#f9fb15" d="M3943 3913l55-14 63 79-55 14zM3889 3928l54-15 63 79-55 15zM3834 3942l55-14 62 79-55 14zM3779 3957l55-15 62 79-55 14zM3724 3971l55-14 62 78-54 15zM3669 3985l55-14 63 79-55 14zM3614 4000l55-15 63 79-55 15zM3559 4014l55-14 63 79-55 14zM3505 4031l54-17 63 79-55 17z"/>
<path fill="#f7f51b" d="M3450 4053l55-22 62 79-55 22z"/>
<path fill="#fec338" d="M3395 4120l55-67 62 79-55 67z"/>
<path fill="#4563fd" d="M3340 4423l55-303 62 79-54 302z"/>
<path fill="#422ec0" d="M3285 4503l55-80 63 78-55 81zM3230 4522l55-19 63 79-55 19zM3175 4536l55-14 63 79-55 14zM3121 4551l54-15 63 79-55 14zM3066 4565l55-14 62 78-55 15zM3011 4579l55-14 62 79-55 14zM2956 4594l55-15 62 79-54 15z"/>
<path fill="#f9fb15" d="M4006 3992l55-14 63 79-55 14zM3951 4007l55-15 63 79-55 15zM3896 4021l55-14 63 79-55 14zM3841 4035l55-14 63 79-55 14zM3787 4050l54-15 63 79-55 15zM3732 4064l55-14 62 79-55 14zM3677 4079l55-15 62 79-54 14zM3622 4093l55-14 63 78-55 15zM3567 4110l55-17 63 79-55 17z"/>
<path fill="#f7f51b" d="M3512 4132l55-22 63 79-55 22z"/>
<path fill="#fec338" d="M3457 4199l55-67 63 79-55 67z"/>
<path fill="#4563fd" d="M3403 4501l54-302 63 79-55 302z"/>
<path fill="#422ec0" d="M3348 4582l55-81 62 79-55 81zM3293 4601l55-19 62 79-55 19zM3238 4615l55-14 62 79-54 14zM3183 4629l55-14 63 79-55 14zM3128 4644l55-15 63 79-55 15zM3073 4658l55-14 63 79-55 14zM3019 4673l54-15 63 79-55 14z"/>
<path fill="#f9fb15" d="M4069 4071l55-14 62 79-55 14zM4014 4086l55-15 62 79-55 14zM3959 4100l55-14 62 78-54 15zM3904 4114l55-14 63 79-55 14zM3849 4129l55-15 63 79-55 15zM3794 4143l55-14 63 79-55 14zM3740 4157l54-14 63 79-55 14zM3685 4172l55-15 62 79-55 15zM3630 4189l55-17 62 79-55 16z"/>
<path fill="#f7f51b" d="M3575 4211l55-22 62 78-54 23z"/>
<path fill="#fec338" d="M3520 4278l55-67 63 79-55 67z"/>
<path fill="#4563fd" d="M3465 4580l55-302 63 79-55 302z"/>
<path fill="#422ec0" d="M3410 4661l55-81 63 79-55 81zM3355 4680l55-19 63 79-55 18zM3301 4694l54-14 63 78-55 15zM3246 4708l55-14 62 79-55 14zM3191 4723l55-15 62 79-54 15zM3136 4737l55-14 63 79-55 14zM3081 4751l55-14 63 79-55 14z"/>
<path fill="#f9fb15" d="M4131 4150l55-14 63 79-55 14zM4076 4164l55-14 63 79-55 14zM4022 4179l54-15 63 79-55 15zM3967 4193l55-14 62 79-55 14zM3912 4208l55-15 62 79-55 14zM3857 4222l55-14 62 78-54 15zM3802 4236l55-14 63 79-55 14zM3747 4251l55-15 63 79-55 15zM3692 4267l55-16 63 79-55 16z"/>
<path fill="#f7f51b" d="M3638 4290l54-23 63 79-55 22z"/>
<path fill="#fec338" d="M3583 4357l55-67 62 78-55 68z"/>
<path fill="#4563fd" d="M3528 4659l55-302 62 79-55 302z"/>
<path fill="#422ec0" d="M3473 4740l55-81 62 79-54 81zM3418 4758l55-18 63 79-55 18zM3363 4773l55-15 63 79-55 15zM3308 4787l55-14 63 79-55 14zM3254 4802l54-15 63 79-55 14zM3199 4816l55-14 62 78-55 15zM3144 4830l55-14 62 79-55 14z"/>
<path fill="#f9fb15" d="M4194 4229l55-14 62 78-54 15zM4139 4243l55-14 63 79-55 15zM4084 4258l55-15 63 80-55 14zM4029 4272l55-14 63 79-55 15zM3974 4286l55-14 63 80-55 14zM3920 4301l54-15 63 80-55 15zM3865 4315l55-14 62 80-55 14zM3810 4330l55-15 62 80-54 15zM3755 4346l55-16 63 80-55 17z"/>
<path fill="#f6ef20" d="M3700 4368l55-22 63 81-55 23z"/>
<path fill="#fec338" d="M3645 4436l55-68 63 82-55 68z"/>
<path fill="#4758f8" d="M3590 4738l55-302 63 82-55 320z"/>
<path fill="#422ec0" d="M3536 4819l54-81 63 100-55 63zM3481 4837l55-18 62 82-55 17zM3426 4852l55-15 62 81-54 14zM3371 4866l55-14 63 80-55 14zM3316 4880l55-14 63 80-55 15zM3261 4895l55-15 63 81-55 14zM3206 4909l55-14 63 80-55 15z"/>
<path fill="#f9fb15" d="M4257 4308l54-15 14 17-55 15zM4202 4323l55-15 13 17-55 15zM4147 4337l55-14 13 17-55 15zM4092 4352l55-15 13 18-55 15zM4037 4366l55-14 13 18-55 15zM3982 4381l55-15 13 19-54 14zM3927 4395l55-14 14 18-55 15zM3873 4410l54-15 14 19-55 15z"/>
<path fill="#f7f51b" d="M3818 4427l55-17 13 19-55 17z"/>
<path fill="#f6ef20" d="M3763 4450l55-23 13 19-55 26z"/>
<path fill="#febe3c" d="M3708 4518l55-68 13 22-55 70z"/>
<path fill="#484df0" d="M3653 4838l55-320 13 24-55 326z"/>
<path fill="#422ec0" d="M3598 4901l55-63 13 30-54 51z"/>
<path fill="#402ab4" d="M3543 4918l55-17 14 18-55 16zM3489 4932l54-14 14 17-55 15zM3434 4946l55-14 13 18-55 14zM3379 4961l55-15 13 18-55 14zM3324 4975l55-14 13 17-55 15zM3269 4990l55-15 13 18-55 14z"/>
<path fill="#f9fb15" d="M4270 4325l55-15 11 14-55 15zM4215 4340l55-15 11 14-55 16zM4160 4355l55-15 11 15-55 15zM4105 4370l55-15 11 15-55 16z"/>
<path fill="#f7f51b" d="M4050 4385l55-15 11 16-55 15zM3996 4399l54-14 11 16-54 15zM3941 4414l55-15 11 17-55 16zM3886 4429l55-15 11 18-55 15zM3831 4446l55-17 11 18-55 17z"/>
<path fill="#f5e924" d="M3776 4472l55-26 11 18-55 30z"/>
<path fill="#f0ba36" d="M3721 4542l55-70 11 22-55 74z"/>
<path fill="#4741e5" d="M3666 4868l55-326 11 26-55 324z"/>
<path fill="#402ab4" d="M3612 4919l54-51 11 24-54 42zM3557 4935l55-16 11 15-55 16zM3502 4950l55-15 11 15-55 14zM3447 4964l55-14 11 14-55 15zM3392 4978l55-14 11 15-55 14zM3337 4993l55-15 11 15-55 14zM3282 5007l55-14 11 14-55 15z"/>
<path fill="#f9fb15" d="M4281 4339l55-15 10 12-55 17zM4226 4355l55-16 10 14-55 16z"/>
<path fill="#f7f51b" d="M4171 4370l55-15 10 14-55 16zM4116 4386l55-16 10 15-55 16zM4061 4401l55-15 10 15-55 16zM4007 4416l54-15 10 16-55 17zM3952 4432l55-16 9 18-54 16z"/>
<path fill="#f6ef20" d="M3897 4447l55-15 10 18-55 16zM3842 4464l55-17 10 19-55 18z"/>
<path fill="#f7dc2a" d="M3787 4494l55-30 10 20-55 36z"/>
<path fill="#dcbd29" d="M3732 4568l55-74 10 26-55 82z"/>
<path fill="#463cde" d="M3677 4892l55-324 10 34-55 310z"/>
<path fill="#402ab4" d="M3623 4934l54-42 10 20-55 36zM3568 4950l55-16 9 14-54 15zM3513 4964l55-14 10 13-55 14zM3458 4979l55-15 10 13-55 15zM3403 4993l55-14 10 13-55 14zM3348 5007l55-14 10 13-55 14zM3293 5022l55-15 10 13-55 15z"/>
<path fill="#f9fb15" d="M4291 4353l55-17 8 11-55 17z"/>
<path fill="#f7f51b" d="M4236 4369l55-16 8 11-55 17zM4181 4385l55-16 8 12-55 18zM4126 4401l55-16 8 14-55 17z"/>
<path fill="#f6ef20" d="M4071 4417l55-16 8 15-54 17zM4016 4434l55-17 9 16-55 18zM3962 4450l54-16 9 17-55 17z"/>
<path fill="#f5e924" d="M3907 4466l55-16 8 18-55 17zM3852 4484l55-18 8 19-55 19z"/>
<path fill="#fccf30" d="M3797 4520l55-36 8 20-55 45z"/>
<path fill="#abc739" d="M3742 4602l55-82 8 29-55 92z"/>
<path fill="#4537d5" d="M3687 4912l55-310 8 39-55 285z"/>
<path fill="#402ab4" d="M3632 4948l55-36 8 14-54 33zM3578 4963l54-15 9 11-55 14zM3523 4977l55-14 8 10-55 15zM3468 4992l55-15 8 11-55 14zM3413 5006l55-14 8 10-55 15zM3358 5020l55-14 8 11-55 14zM3303 5035l55-15 8 11-55 14z"/>
<path fill="#f7f51b" d="M4299 4364l55-17 7 8-55 19zM4244 4381l55-17 7 10-55 19z"/>
<path fill="#f6ef20" d="M4189 4399l55-18 7 12-55 18zM4134 4416l55-17 7 12-55 19z"/>
<path fill="#f5e924" d="M4080 4433l54-17 7 14-55 18zM4025 4451l55-18 6 15-54 19z"/>
<path fill="#f5e327" d="M3970 4468l55-17 7 16-55 19zM3915 4485l55-17 7 18-55 18z"/>
<path fill="#f7dc2a" d="M3860 4504l55-19 7 19-55 20z"/>
<path fill="#febe3c" d="M3805 4549l55-45 7 20-55 55z"/>
<path fill="#72cd64" d="M3750 4641l55-92 7 30-55 105z"/>
<path fill="#4537d5" d="M3695 4926l55-285 7 43-55 252z"/>
<path fill="#402ab4" d="M3641 4959l54-33 7 10-55 31zM3586 4973l55-14 6 8-54 15zM3531 4988l55-15 7 9-55 14zM3476 5002l55-14 7 8-55 15zM3421 5017l55-15 7 9-55 14zM3366 5031l55-14 7 8-55 15zM3311 5045l55-14 7 9-55 14z"/>
<path fill="#f7f51b" d="M4306 4374l55-19 5 8-54 20zM4251 4393l55-19 6 9-55 19z"/>
<path fill="#f6ef20" d="M4196 4411l55-18 6 9-55 20z"/>
<path fill="#f5e924" d="M4141 4430l55-19 6 11-55 20z"/>
<path fill="#f5e327" d="M4086 4448l55-18 6 12-55 20zM4032 4467l54-19 6 14-55 20z"/>
<path fill="#f7dc2a" d="M3977 4486l55-19 5 15-55 20z"/>
<path fill="#fad62d" d="M3922 4504l55-18 5 16-55 20z"/>
<path fill="#fccf30" d="M3867 4524l55-20 5 18-54 21z"/>
<path fill="#e6bb2d" d="M3812 4579l55-55 6 19-55 65z"/>
<path fill="#37c897" d="M3757 4684l55-105 6 29-55 117z"/>
<path fill="#4537d5" d="M3702 4936l55-252 6 41-55 216z"/>
<path fill="#402ab4" d="M3647 4967l55-31 6 5-55 32zM3593 4982l54-15 6 6-55 15zM3538 4996l55-14 5 6-55 15zM3483 5011l55-15 5 7-54 15zM3428 5025l55-14 6 7-55 14zM3373 5040l55-15 6 7-55 15zM3318 5054l55-14 6 7-55 14z"/>
<path fill="#f7f51b" d="M4312 4383l54-20 5 6-55 21z"/>
<path fill="#f6ef20" d="M4257 4402l55-19 4 7-55 21z"/>
<path fill="#f5e924" d="M4202 4422l55-20 4 9-54 21z"/>
<path fill="#f5e327" d="M4147 4442l55-20 5 10-55 21zM4092 4462l55-20 5 11-55 21z"/>
<path fill="#f7dc2a" d="M4037 4482l55-20 5 12-55 21z"/>
<path fill="#fad62d" d="M3982 4502l55-20 5 13-55 21z"/>
<path fill="#fccf30" d="M3927 4522l55-20 5 14-55 22z"/>
<path fill="#fec934" d="M3873 4543l54-21 5 16-55 22z"/>
<path fill="#c5c22a" d="M3818 4608l55-65 4 17-54 74z"/>
<path fill="#0bbdbd" d="M3763 4725l55-117 5 26-55 128z"/>
<path fill="#4537d5" d="M3708 4941l55-216 5 37-55 179z"/>
<path fill="#422ec0" d="M3653 4973l55-32 5 0-55 33z"/>
<path fill="#402ab4" d="M3598 4988l55-15 5 1-55 17zM3543 5003l55-15 5 3-55 16zM3489 5018l54-15 5 4-55 15zM3434 5032l55-14 4 4-54 15zM3379 5047l55-15 5 5-55 15zM3324 5061l55-14 5 5-55 15z"/>
<path fill="#f7f51b" d="M4316 4390l55-21 4 5-55 22z"/>
<path fill="#f6ef20" d="M4261 4411l55-21 4 6-55 22z"/>
<path fill="#f5e924" d="M4207 4432l54-21 4 7-54 22z"/>
<path fill="#f5e327" d="M4152 4453l55-21 4 8-55 22z"/>
<path fill="#f7dc2a" d="M4097 4474l55-21 4 9-55 22z"/>
<path fill="#fad62d" d="M4042 4495l55-21 4 10-55 22z"/>
<path fill="#fccf30" d="M3987 4516l55-21 4 11-55 22z"/>
<path fill="#fec934" d="M3932 4538l55-22 4 12-55 22z"/>
<path fill="#febe3c" d="M3877 4560l55-22 4 12-55 24z"/>
<path fill="#9dc943" d="M3823 4634l54-74 4 14-55 81z"/>
<path fill="#12b1d6" d="M3768 4762l55-128 3 21-54 137z"/>
<path fill="#4741e5" d="M3713 4941l55-179 4 30-55 143z"/>
<path fill="#4432cb" d="M3662 4970l55-35-4 6-55 33z"/>
<path fill="#422ec0" d="M3607 4989l55-19-4 4-55 17zM3493 5022l55-15 4-1-55 17z"/>
<path fill="#402ab4" d="M3439 5037l54-15 4 1-55 17zM3384 5052l55-15 3 3-54 15zM3329 5067l55-15 4 3-55 16z"/>
<path fill="#f7f51b" d="M4320 4396l55-22 3 4-54 23z"/>
<path fill="#f6ef20" d="M4265 4418l55-22 4 5-55 22z"/>
<path fill="#f5e327" d="M4211 4440l54-22 4 5-55 23z"/>
<path fill="#f7dc2a" d="M4156 4462l55-22 3 6-55 23z"/>
<path fill="#fad62d" d="M4101 4484l55-22 3 7-55 22z"/>
<path fill="#fccf30" d="M4046 4506l55-22 3 7-55 23z"/>
<path fill="#fec934" d="M3991 4528l55-22 3 8-55 23z"/>
<path fill="#fec338" d="M3936 4550l55-22 3 9-54 23z"/>
<path fill="#f8ba3d" d="M3881 4574l55-24 4 10-55 24z"/>
<path fill="#81cc59" d="M3826 4655l55-81 4 10-55 86z"/>
<path fill="#20a5e3" d="M3772 4792l54-137 4 15-55 141z"/>
<path fill="#484df0" d="M3717 4935l55-143 3 19-55 109z"/>
<path fill="#463cde" d="M3665 4958l55-38-3 15-55 35z"/>
<path fill="#4537d5" d="M3610 4979l55-21-3 12-55 19z"/>
<path fill="#4432cb" d="M3555 4999l55-20-3 10-55 17zM3501 5019l54-20-3 7-55 17z"/>
<path fill="#422ec0" d="M3446 5037l55-18-4 4-55 17z"/>
<path fill="#402ab4" d="M3333 5071l55-16 3 0-55 17z"/>
<path fill="#f7f51b" d="M4324 4401l54-23 3 3-55 23z"/>
<path fill="#f6ef20" d="M4269 4423l55-22 2 3-55 23z"/>
<path fill="#f5e327" d="M4214 4446l55-23 2 4-54 23z"/>
<path fill="#f7dc2a" d="M4159 4469l55-23 3 4-55 23z"/>
<path fill="#fad62d" d="M4104 4491l55-22 3 4-55 24z"/>
<path fill="#fccf30" d="M4049 4514l55-23 3 6-55 23z"/>
<path fill="#fec338" d="M3994 4537l55-23 3 6-55 23z"/>
<path fill="#febe3c" d="M3940 4560l54-23 3 6-55 23z"/>
<path fill="#f8ba3d" d="M3885 4584l55-24 2 6-55 24z"/>
<path fill="#72cd64" d="M3830 4670l55-86 2 6-54 88z"/>
<path fill="#23a0e5" d="M3775 4811l55-141 3 8-55 142z"/>
<path fill="#465efb" d="M3723 4897l55-77-3-9-55 109z"/>
<path fill="#484df0" d="M3668 4937l55-40-3 23-55 38z"/>
<path fill="#4741e5" d="M3613 4962l55-25-3 21-55 21z"/>
<path fill="#463cde" d="M3558 4985l55-23-3 17-55 20z"/>
<path fill="#4537d5" d="M3503 5007l55-22-3 14-54 20z"/>
<path fill="#4432cb" d="M3449 5028l54-21-2 12-55 18zM3394 5049l55-21-3 9-55 18z"/>
<path fill="#422ec0" d="M3339 5069l55-20-3 6-55 17z"/>
<path fill="#f7f51b" d="M4326 4404l55-23 2 3-54 23z"/>
<path fill="#f5e924" d="M4271 4427l55-23 3 3-55 23z"/>
<path fill="#f5e327" d="M4217 4450l54-23 3 3-55 23z"/>
<path fill="#f7dc2a" d="M4162 4473l55-23 2 3-55 23z"/>
<path fill="#fad62d" d="M4107 4497l55-24 2 3-55 23z"/>
<path fill="#fec934" d="M4052 4520l55-23 2 2-55 24z"/>
<path fill="#fec338" d="M3997 4543l55-23 2 3-55 23z"/>
<path fill="#febe3c" d="M3942 4566l55-23 2 3-54 23z"/>
<path fill="#f0ba36" d="M3887 4590l55-24 3 3-55 24z"/>
<path fill="#72cd64" d="M3833 4678l54-88 3 3-55 88z"/>
<path fill="#259be8" d="M3778 4820l55-142 2 3-55 138z"/>
<path fill="#3875fe" d="M3725 4866l55-47-2 1-55 77z"/>
<path fill="#4563fd" d="M3670 4908l55-42-2 31-55 40z"/>
<path fill="#4758f8" d="M3615 4935l55-27-2 29-55 25z"/>
<path fill="#484df0" d="M3561 4961l54-26-2 27-55 23z"/>
<path fill="#4747eb" d="M3506 4986l55-25-3 24-55 22z"/>
<path fill="#4741e5" d="M3451 5011l55-25-3 21-54 21z"/>
<path fill="#463cde" d="M3396 5035l55-24-2 17-55 21z"/>
<path fill="#4537d5" d="M3341 5058l55-23-2 14-55 20z"/>
<path fill="#f7f51b" d="M4329 4407l54-23 2 3-55 22z"/>
<path fill="#f6ef20" d="M4274 4430l55-23 1 2-54 23z"/>
<path fill="#f5e327" d="M4219 4453l55-23 2 2-55 23z"/>
<path fill="#f7dc2a" d="M4164 4476l55-23 2 2-55 23z"/>
<path fill="#fad62d" d="M4109 4499l55-23 2 2-55 23z"/>
<path fill="#fccf30" d="M4054 4523l55-24 2 2-55 22z"/>
<path fill="#72cd64" d="M3835 4681l55-88 2 0-55 85z"/>
<path fill="#2797eb" d="M3727 4830l55-19-2 8-55 47z"/>
<path fill="#2f81fa" d="M3672 4872l55-42-2 36-55 42z"/>
<path fill="#3875fe" d="M3617 4902l55-30-2 36-55 27z"/>
<path fill="#4269fe" d="M3562 4930l55-28-2 33-54 26z"/>
<path fill="#465efb" d="M3508 4957l54-27-1 31-55 25z"/>
<path fill="#4852f4" d="M3453 4985l55-28-2 29-55 25z"/>
<path fill="#484df0" d="M3398 5013l55-28-2 26-55 24z"/>
<path fill="#4741e5" d="M3343 5040l55-27-2 22-55 23z"/>
<path fill="#f7f51b" d="M4330 4409l55-22 2 2-55 22z"/>
<path fill="#f6ef20" d="M4276 4432l54-23 2 2-55 22z"/>
<path fill="#f5e327" d="M4221 4455l55-23 1 1-55 23z"/>
<path fill="#f7dc2a" d="M4166 4478l55-23 1 1-54 22z"/>
<path fill="#f8ba3d" d="M3893 4590l55-23-2 2-54 24z"/>
<path fill="#81cc59" d="M3838 4672l55-82-1 3-55 85z"/>
<path fill="#1ca9df" d="M3783 4797l55-125-1 6-55 133z"/>
<path fill="#18addb" d="M3729 4792l54 5-1 14-55 19z"/>
<path fill="#23a0e5" d="M3674 4833l55-41-2 38-55 42z"/>
<path fill="#2b91ef" d="M3619 4863l55-30-2 39-55 30z"/>
<path fill="#2e87f7" d="M3564 4892l55-29-2 39-55 28z"/>
<path fill="#327cfc" d="M3509 4922l55-30-2 38-54 27z"/>
<path fill="#3e6fff" d="M3454 4952l55-30-1 35-55 28z"/>
<path fill="#4563fd" d="M3399 4983l55-31-1 33-55 28z"/>
<path fill="#4758f8" d="M3345 5013l54-30-1 30-55 27z"/>
<path fill="#f7f51b" d="M4332 4411l55-22 1 1-55 22z"/>
<path fill="#f6ef20" d="M4277 4433l55-22 1 1-54 22z"/>
<path fill="#f5e924" d="M4222 4456l55-23 2 1-55 22z"/>
<path fill="#fccf30" d="M4059 4521l55-22-1 1-55 23z"/>
<path fill="#fec934" d="M4004 4543l55-22-1 2-55 22z"/>
<path fill="#fec338" d="M3949 4564l55-21-1 2-55 22z"/>
<path fill="#febe3c" d="M3895 4587l54-23-1 3-55 23z"/>
<path fill="#8fcb4e" d="M3840 4663l55-76-2 3-55 82z"/>
<path fill="#08b5d0" d="M3785 4779l55-116-2 9-55 125z"/>
<path fill="#19bfb6" d="M3730 4754l55 25-2 18-54-5z"/>
<path fill="#01b8ca" d="M3675 4793l55-39-1 38-55 41z"/>
<path fill="#18addb" d="M3620 4823l55-30-1 40-55 30z"/>
<path fill="#20a5e3" d="M3565 4852l55-29-1 40-55 29z"/>
<path fill="#259be8" d="M3511 4883l54-31-1 40-55 30z"/>
<path fill="#2d8cf3" d="M3456 4914l55-31-2 39-55 30z"/>
<path fill="#2f81fa" d="M3401 4946l55-32-2 38-55 31z"/>
<path fill="#3e6fff" d="M3346 4979l55-33-2 37-54 30z"/>
<path fill="#f7f51b" d="M4333 4412l55-22 1 2-54 21z"/>
<path fill="#f6ef20" d="M4279 4434l54-22 2 1-55 21z"/>
<path fill="#f7dc2a" d="M4115 4497l55-21-1 1-55 22z"/>
<path fill="#fad62d" d="M4060 4518l55-21-1 2-55 22z"/>
<path fill="#fccf30" d="M4005 4539l55-21-1 3-55 22z"/>
<path fill="#fec934" d="M3951 4560l54-21-1 4-55 21z"/>
<path fill="#fec338" d="M3896 4582l55-22-2 4-54 23z"/>
<path fill="#abc739" d="M3841 4653l55-71-1 5-55 76z"/>
<path fill="#0bbdbd" d="M3786 4759l55-106-1 10-55 116z"/>
<path fill="#4acb84" d="M3731 4719l55 40-1 20-55-25z"/>
<path fill="#2cc4a7" d="M3676 4755l55-36-1 35-55 39z"/>
<path fill="#19bfb6" d="M3621 4784l55-29-1 38-55 30z"/>
<path fill="#02bac3" d="M3566 4812l55-28-1 39-55 29z"/>
<path fill="#08b5d0" d="M3512 4842l54-30-1 40-54 31z"/>
<path fill="#1ca9df" d="M3457 4873l55-31-1 41-55 31z"/>
<path fill="#23a0e5" d="M3402 4906l55-33-1 41-55 32z"/>
<path fill="#2b91ef" d="M3347 4940l55-34-1 40-55 33z"/>
<path fill="#f5e327" d="M4171 4474l55-20-1 1-55 21z"/>
<path fill="#f7dc2a" d="M4116 4495l55-21-1 2-55 21z"/>
<path fill="#fad62d" d="M4061 4515l55-20-1 2-55 21z"/>
<path fill="#fccf30" d="M4006 4536l55-21-1 3-55 21zM3951 4556l55-20-1 3-54 21z"/>
<path fill="#fec934" d="M3897 4577l54-21 0 4-55 22z"/>
<path fill="#c5c22a" d="M3842 4642l55-65-1 5-55 71z"/>
<path fill="#2cc4a7" d="M3787 4738l55-96-1 11-55 106z"/>
<path fill="#8fcb4e" d="M3732 4688l55 50-1 21-55-40z"/>
<path fill="#64cd6f" d="M3677 4720l55-32-1 31-55 36z"/>
<path fill="#4acb84" d="M3622 4748l55-28-1 35-55 29z"/>
<path fill="#37c897" d="M3567 4775l55-27-1 36-55 28z"/>
<path fill="#2cc4a7" d="M3513 4803l54-28-1 37-54 30z"/>
<path fill="#0bbdbd" d="M3458 4834l55-31-1 39-55 31z"/>
<path fill="#01b8ca" d="M3403 4866l55-32-1 39-55 33z"/>
<path fill="#18addb" d="M3348 4900l55-34-1 40-55 34z"/>
<path fill="#f6ef20" d="M4226 4453l55-20 0 1-55 20z"/>
<path fill="#f5e327" d="M4117 4492l55-19-1 1-55 21z"/>
<path fill="#f7dc2a" d="M4062 4512l55-20-1 3-55 20z"/>
<path fill="#fad62d" d="M4007 4532l55-20-1 3-55 21z"/>
<path fill="#fccf30" d="M3952 4552l55-20-1 4-55 20z"/>
<path fill="#fec934" d="M3897 4572l55-20-1 4-54 21z"/>
<path fill="#dcbd29" d="M3842 4631l55-59 0 5-55 65z"/>
<path fill="#3fca8e" d="M3788 4717l54-86 0 11-55 96z"/>
<path fill="#c5c22a" d="M3733 4661l55 56-1 21-55-50z"/>
<path fill="#abc739" d="M3678 4691l55-30-1 27-55 32z"/>
<path fill="#8fcb4e" d="M3623 4716l55-25-1 29-55 28z"/>
<path fill="#72cd64" d="M3568 4742l55-26-1 32-55 27z"/>
<path fill="#57cc7a" d="M3513 4768l55-26-1 33-54 28z"/>
<path fill="#3fca8e" d="M3458 4797l55-29 0 35-55 31z"/>
<path fill="#31c69f" d="M3404 4827l54-30 0 37-55 32z"/>
<path fill="#19bfb6" d="M3349 4860l55-33-1 39-55 34z"/>
<path fill="#f7f51b" d="M4336 4413l55-19 1 1-55 19z"/>
<path fill="#f5e924" d="M4172 4471l55-19-1 1-54 20z"/>
<path fill="#f5e327" d="M4117 4490l55-19 0 2-55 19zM4063 4509l54-19 0 2-55 20z"/>
<path fill="#f7dc2a" d="M4008 4528l55-19-1 3-55 20z"/>
<path fill="#fad62d" d="M3953 4547l55-19-1 4-55 20z"/>
<path fill="#fccf30" d="M3898 4566l55-19-1 5-55 20z"/>
<path fill="#e6bb2d" d="M3843 4620l55-54-1 6-55 59z"/>
<path fill="#64cd6f" d="M3788 4697l55-77-1 11-54 86z"/>
<path fill="#f0ba36" d="M3733 4639l55 58 0 20-55-56z"/>
<path fill="#dcbd29" d="M3679 4666l54-27 0 22-55 30z"/>
<path fill="#c5c22a" d="M3624 4690l55-24-1 25-55 25z"/>
<path fill="#b9c431" d="M3569 4713l55-23-1 26-55 26z"/>
<path fill="#9dc943" d="M3514 4738l55-25-1 29-55 26z"/>
<path fill="#81cc59" d="M3459 4764l55-26-1 30-55 29z"/>
<path fill="#64cd6f" d="M3404 4793l55-29-1 33-54 30z"/>
<path fill="#4acb84" d="M3349 4823l55-30 0 34-55 33z"/>
<path fill="#f5e924" d="M4173 4469l55-18-1 1-55 19zM4118 4488l55-19-1 2-55 19z"/>
<path fill="#f5e327" d="M4063 4506l55-18-1 2-54 19zM4008 4524l55-18 0 3-55 19z"/>
<path fill="#f7dc2a" d="M3953 4543l55-19 0 4-55 19z"/>
<path fill="#fad62d" d="M3899 4562l54-19 0 4-55 19z"/>
<path fill="#f8ba3d" d="M3844 4610l55-48-1 4-55 54z"/>
<path fill="#8fcb4e" d="M3789 4679l55-69-1 10-55 77z"/>
<path fill="#fec338" d="M3734 4622l55 57-1 18-55-58z"/>
<path fill="#f8ba3d" d="M3679 4646l55-24-1 17-54 27z"/>
<path fill="#f0ba36" d="M3624 4668l55-22 0 20-55 24z"/>
<path fill="#e6bb2d" d="M3569 4689l55-21 0 22-55 23z"/>
<path fill="#d1bf27" d="M3514 4712l55-23 0 24-55 25z"/>
<path fill="#c5c22a" d="M3460 4737l54-25 0 26-55 26z"/>
<path fill="#abc739" d="M3405 4763l55-26-1 27-55 29z"/>
<path fill="#8fcb4e" d="M3350 4791l55-28-1 30-55 30z"/>
<path fill="#f6ef20" d="M4228 4449l55-17 0 0-55 19zM4173 4467l55-18 0 2-55 18z"/>
<path fill="#f5e924" d="M4118 4485l55-18 0 2-55 19zM4064 4503l54-18 0 3-55 18z"/>
<path fill="#f5e327" d="M4009 4521l55-18-1 3-55 18zM3954 4539l55-18-1 3-55 19z"/>
<path fill="#f7dc2a" d="M3899 4557l55-18-1 4-54 19z"/>
<path fill="#febe3c" d="M3844 4601l55-44 0 5-55 48z"/>
<path fill="#b9c431" d="M3789 4662l55-61 0 9-55 69z"/>
<path fill="#fccf30" d="M3734 4609l55 53 0 17-55-57z"/>
<path fill="#fec934" d="M3680 4630l54-21 0 13-55 24z"/>
<path fill="#fec338" d="M3625 4650l55-20-1 16-55 22z"/>
<path fill="#febe3c" d="M3570 4671l55-21-1 18-55 21z"/>
<path fill="#f8ba3d" d="M3515 4692l55-21-1 18-55 23z"/>
<path fill="#f0ba36" d="M3460 4714l55-22-1 20-54 25z"/>
<path fill="#dcbd29" d="M3405 4738l55-24 0 23-55 26z"/>
<path fill="#c5c22a" d="M3350 4764l55-26 0 25-55 28z"/>
<path fill="#f7f51b" d="M4228 4448l55-17 0 1-55 17z"/>
<path fill="#f6ef20" d="M4119 4483l55-17-1 1-55 18z"/>
<path fill="#f5e924" d="M4064 4501l55-18-1 2-54 18zM4009 4518l55-17 0 2-55 18z"/>
<path fill="#f5e327" d="M3954 4535l55-17 0 3-55 18zM3899 4553l55-18 0 4-55 18z"/>
<path fill="#fec934" d="M3844 4593l55-40 0 4-55 44z"/>
<path fill="#d1bf27" d="M3790 4647l54-54 0 8-55 61z"/>
<path fill="#f7dc2a" d="M3735 4598l55 49-1 15-55-53z"/>
<path fill="#fad62d" d="M3680 4618l55-20-1 11-54 21z"/>
<path fill="#fccf30" d="M3625 4637l55-19 0 12-55 20z"/>
<path fill="#fec934" d="M3570 4656l55-19 0 13-55 21zM3515 4676l55-20 0 15-55 21z"/>
<path fill="#fec338" d="M3460 4696l55-20 0 16-55 22z"/>
<path fill="#f8ba3d" d="M3406 4718l54-22 0 18-55 24z"/>
<path fill="#f0ba36" d="M3351 4742l55-24-1 20-55 26z"/>
<path fill="#f6ef20" d="M4119 4481l55-17 0 2-55 17zM4064 4498l55-17 0 2-55 18z"/>
<path fill="#f5e924" d="M4009 4515l55-17 0 3-55 17zM3954 4532l55-17 0 3-55 17z"/>
<path fill="#f5e327" d="M3900 4549l54-17 0 3-55 18z"/>
<path fill="#fccf30" d="M3845 4585l55-36-1 4-55 40z"/>
<path fill="#e6bb2d" d="M3790 4634l55-49-1 8-54 54z"/>
<path fill="#f5e327" d="M3735 4591l55 43 0 13-55-49zM3680 4609l55-18 0 7-55 20z"/>
<path fill="#f7dc2a" d="M3625 4627l55-18 0 9-55 19z"/>
<path fill="#fad62d" d="M3570 4645l55-18 0 10-55 19zM3516 4663l54-18 0 11-55 20z"/>
<path fill="#fccf30" d="M3461 4682l55-19-1 13-55 20z"/>
<path fill="#fec934" d="M3406 4702l55-20-1 14-54 22z"/>
<path fill="#fec338" d="M3351 4724l55-22 0 16-55 24z"/>
<path fill="#f7f51b" d="M4229 4447l55-17 0 1-55 17zM4174 4463l55-16 0 1-55 16z"/>
<path fill="#f6ef20" d="M4119 4480l55-17 0 1-55 17zM4064 4496l55-16 0 1-55 17zM4010 4513l54-17 0 2-55 17z"/>
<path fill="#f5e924" d="M3955 4530l55-17-1 2-55 17zM3900 4546l55-16-1 2-54 17z"/>
<path fill="#fad62d" d="M3845 4579l55-33 0 3-55 36z"/>
<path fill="#f8ba3d" d="M3790 4622l55-43 0 6-55 49z"/>
<path fill="#f5e924" d="M3735 4585l55 37 0 12-55-43zM3680 4602l55-17 0 6-55 18z"/>
<path fill="#f5e327" d="M3626 4619l54-17 0 7-55 18zM3571 4636l55-17-1 8-55 18z"/>
<path fill="#f7dc2a" d="M3516 4654l55-18-1 9-54 18zM3461 4672l55-18 0 9-55 19z"/>
<path fill="#fad62d" d="M3406 4690l55-18 0 10-55 20z"/>
<path fill="#fccf30" d="M3351 4710l55-20 0 12-55 22z"/>
<path fill="#f7f51b" d="M4174 4462l55-16 0 1-55 16zM4120 4478l54-16 0 1-55 17z"/>
<path fill="#f6ef20" d="M4065 4495l55-17-1 2-55 16zM4010 4511l55-16-1 1-54 17zM3955 4527l55-16 0 2-55 17z"/>
<path fill="#f5e924" d="M3900 4543l55-16 0 3-55 16z"/>
<path fill="#f7dc2a" d="M3845 4573l55-30 0 3-55 33z"/>
<path fill="#fec338" d="M3790 4612l55-39 0 6-55 43z"/>
<path fill="#f6ef20" d="M3736 4581l54 31 0 10-55-37zM3681 4597l55-16-1 4-55 17z"/>
<path fill="#f5e924" d="M3626 4614l55-17-1 5-54 17zM3571 4630l55-16 0 5-55 17zM3516 4647l55-17 0 6-55 18z"/>
<path fill="#f5e327" d="M3461 4664l55-17 0 7-55 18zM3406 4681l55-17 0 8-55 18z"/>
<path fill="#f7dc2a" d="M3352 4700l54-19 0 9-55 20z"/>
<path fill="#f7f51b" d="M4229 4445l55-16 0 1-55 16z"/>
<path fill="#f6ef20" d="M4065 4493l55-16 0 1-55 17zM4010 4509l55-16 0 2-55 16zM3955 4525l55-16 0 2-55 16zM3900 4541l55-16 0 2-55 16z"/>
<path fill="#f5e327" d="M3845 4569l55-28 0 2-55 30z"/>
<path fill="#fec934" d="M3791 4604l54-35 0 4-55 39z"/>
<path fill="#f7f51b" d="M3736 4578l55 26-1 8-54-31z"/>
<path fill="#f6ef20" d="M3681 4594l55-16 0 3-55 16zM3626 4610l55-16 0 3-55 17zM3571 4625l55-15 0 4-55 16zM3516 4641l55-16 0 5-55 17z"/>
<path fill="#f5e924" d="M3461 4658l55-17 0 6-55 17zM3407 4675l54-17 0 6-55 17z"/>
<path fill="#f5e327" d="M3352 4692l55-17-1 6-54 19z"/>
<path fill="#f7f51b" d="M4120 4476l55-16 0 1-55 16zM4065 4492l55-16 0 1-55 16zM4010 4508l55-16 0 1-55 16z"/>
<path fill="#f6ef20" d="M3955 4523l55-15 0 1-55 16zM3900 4539l55-16 0 2-55 16z"/>
<path fill="#f5e327" d="M3846 4564l54-25 0 2-55 28z"/>
<path fill="#fad62d" d="M3791 4596l55-32-1 5-54 35z"/>
<path fill="#f7f51b" d="M3736 4576l55 20 0 8-55-26zM3681 4591l55-15 0 2-55 16zM3626 4607l55-16 0 3-55 16z"/>
<path fill="#f6ef20" d="M3571 4622l55-15 0 3-55 15zM3516 4638l55-16 0 3-55 16zM3462 4653l54-15 0 3-55 17zM3407 4670l55-17-1 5-54 17z"/>
<path fill="#f5e924" d="M3352 4686l55-16 0 5-55 17z"/>
<path fill="#f7f51b" d="M4065 4491l55-16 0 1-55 16zM4010 4506l55-15 0 1-55 16zM3955 4522l55-16 0 2-55 15z"/>
<path fill="#f6ef20" d="M3901 4537l54-15 0 1-55 16z"/>
<path fill="#f5e924" d="M3846 4561l55-24-1 2-54 25z"/>
<path fill="#f7dc2a" d="M3791 4590l55-29 0 3-55 32z"/>
<path fill="#f7f51b" d="M3736 4574l55 16 0 6-55-20zM3681 4590l55-16 0 2-55 15zM3626 4605l55-15 0 1-55 16zM3571 4620l55-15 0 2-55 15zM3517 4635l54-15 0 2-55 16zM3462 4650l55-15-1 3-54 15z"/>
<path fill="#f6ef20" d="M3407 4666l55-16 0 3-55 17zM3352 4682l55-16 0 4-55 16z"/>
<path fill="#f7f51b" d="M4010 4505l55-15 0 1-55 15zM3956 4520l54-15 0 1-55 16zM3901 4536l55-16-1 2-54 15z"/>
<path fill="#f5e924" d="M3846 4558l55-22 0 1-55 24z"/>
<path fill="#f7dc2a" d="M3791 4585l55-27 0 3-55 29z"/>
<path fill="#f7f51b" d="M3736 4573l55 12 0 5-55-16zM3681 4588l55-15 0 1-55 16zM3626 4603l55-15 0 2-55 15zM3571 4618l55-15 0 2-55 15zM3517 4633l54-15 0 2-54 15zM3462 4648l55-15 0 2-55 15zM3407 4663l55-15 0 2-55 16zM3352 4679l55-16 0 3-55 16zM4065 4489l55-15 0 1-55 15zM4010 4504l55-15 0 1-55 15zM3956 4519l54-15 0 1-54 15zM3901 4535l55-16 0 1-55 16z"/>
<path fill="#f6ef20" d="M3846 4555l55-20 0 1-55 22z"/>
<path fill="#f5e327" d="M3791 4580l55-25 0 3-55 27z"/>
<path fill="#f9fb15" d="M3736 4573l55 7 0 5-55-12zM3626 4602l55-15 0 1-55 15z"/>
<path fill="#f7f51b" d="M3462 4647l55-15 0 1-55 15zM3407 4662l55-15 0 1-55 15zM3352 4677l55-15 0 1-55 16z"/>
<path fill="#f9fb15" d="M4175 4458l55-15 0 1-55 15z"/>
<path fill="#f7f51b" d="M4120 4473l55-15 0 1-55 15zM4065 4488l55-15 0 1-55 15zM3901 4533l55-15 0 1-55 16z"/>
<path fill="#f6ef20" d="M3846 4553l55-20 0 2-55 20z"/>
<path fill="#f5e924" d="M3791 4576l55-23 0 2-55 25z"/>
<path fill="#f9fb15" d="M3736 4572l55 4 0 4-55-7zM3517 4631l55-15 0 1-55 15z"/>
<path fill="#f7f51b" d="M3462 4645l55-14 0 1-55 15zM3407 4660l55-15 0 2-55 15zM3352 4675l55-15 0 2-55 15z"/>
<path fill="#f9fb15" d="M4230 4442l55-15 0 1-55 15zM4175 4456l55-14 0 1-55 15zM4121 4470l54-14 0 2-55 15zM4066 4485l55-15-1 3-55 15zM4011 4499l55-14-1 3-54 15zM3956 4514l55-15 0 4-55 15zM3901 4528l55-14 0 4-55 15z"/>
<path fill="#f7f51b" d="M3846 4542l55-14 0 5-55 20zM3791 4557l55-15 0 11-55 23z"/>
<path fill="#f9fb15" d="M3737 4571l54-14 0 19-55-4zM3682 4585l55-14-1 1-55 15zM3627 4600l55-15-1 2-54 14zM3572 4614l55-14 0 1-55 15zM3517 4629l55-15 0 2-55 15zM3462 4643l55-14 0 2-55 14zM3407 4657l55-14 0 2-55 15zM3353 4672l54-15 0 3-55 15z"/>
</g>
<use href="#sp6"/>
<path d="M385 448L390.8 446.8L396.6 445.9L402.4 444.9L408.2 443.9L414 442.7L419.8 441.5L425.6 440.2L431.4 438.7L437.2 437" stroke="#000" stroke-width="0.6" stroke-opacity="0.7" fill="none" stroke-linejoin="round"/>
<path d="M402.4 444.9L408.2 444L414.1 442.9L419.9 441.7L425.7 440.4L431.6 438.9L437.4 437.2" stroke="#000" stroke-width="0.7" stroke-opacity="0.7" fill="none" stroke-linejoin="round"/>
<path d="M414 442.8L419.9 441.7L425.8 440.5L431.7 439.1L437.6 437.4" stroke="#000" stroke-width="0.8" stroke-opacity="0.7" fill="none" stroke-linejoin="round"/>
<path d="M384.5 447L390.3 445.9L396.1 444.9L402 444L407.8 443L413.6 442L419.5 440.9L425.3 439.6L431.1 438.3L437 436.7" stroke="#000" stroke-width="0.5" stroke-opacity="0.4" fill="none" stroke-linejoin="round"/>
<path d="M332.5 514.5L442.8 485.6M332.5 514.5L282.4 451.4M282.4 451.4L282.4 405.4M332.5 514.5L333.9 516.2M354.6 508.7L355.9 510.4M376.6 502.9L378 504.7M398.7 497.2L400 498.9M420.7 491.4L422.1 493.1M442.8 485.6L444.2 487.3M332.5 514.5L330.4 515.1M324.1 504L322 504.5M315.8 493.5L313.7 494M307.4 482.9L305.3 483.5M299.1 472.4L297 473M290.8 461.9L288.6 462.5M282.4 451.4L280.6 450.1M282.4 431.1L280.6 429.8M282.4 410.9L280.6 409.6" stroke="#3a3a3a" stroke-width=".6" fill="none"/>
<g font-size="7.4">
<text x="337.5" y="526.7" text-anchor="middle">0</text>
<text x="359.6" y="520.9" text-anchor="middle">2</text>
<text x="381.6" y="515.1" text-anchor="middle">4</text>
<text x="403.7" y="509.4" text-anchor="middle">6</text>
<text x="425.7" y="503.6" text-anchor="middle">8</text>
<text x="450.1" y="497.8" text-anchor="middle">10</text>
<text x="324.5" y="523.7" text-anchor="middle">0</text>
<text x="316.1" y="513.2" text-anchor="middle">1</text>
<text x="307.8" y="502.7" text-anchor="middle">2</text>
<text x="299.4" y="492.1" text-anchor="middle">3</text>
<text x="291.1" y="481.6" text-anchor="middle">4</text>
<text x="282.8" y="471.1" text-anchor="middle">5</text>
<text x="278.1" y="451.3" text-anchor="end">0</text>
<text x="278.1" y="431" text-anchor="end">10</text>
<text x="278.1" y="410.8" text-anchor="end">20</text>
</g>
<text transform="translate(390 532.9) rotate(-14.7)" text-anchor="middle">Distance from solids inlet [m]</text>
<text transform="translate(288.1 506.1) rotate(51.6)" text-anchor="middle">Time [h]</text>
<text transform="translate(261 428.4) rotate(-90)" text-anchor="middle">O<tspan font-size="5.5" dy="1.5">2</tspan><tspan dy="-1.5"> fraction [wt%]</tspan></text>
<rect x="459.4" y="375.7" width="9.1" height="138.2" fill="url(#pg)" stroke="#3a3a3a" stroke-width=".5"/>
<text font-size="6.8" x="471.7" y="495">5</text>
<text font-size="6.8" x="471.7" y="462.6">10</text>
<text font-size="6.8" x="471.7" y="430.3">15</text>
<text font-size="6.8" x="471.7" y="397.9">20</text>
<path d="M468.5 492.2h-1.4M468.5 459.8h-1.4M468.5 427.5h-1.4M468.5 395.1h-1.4" stroke="#3a3a3a" stroke-width=".5" fill="none"/>
</svg>
</body></html>
